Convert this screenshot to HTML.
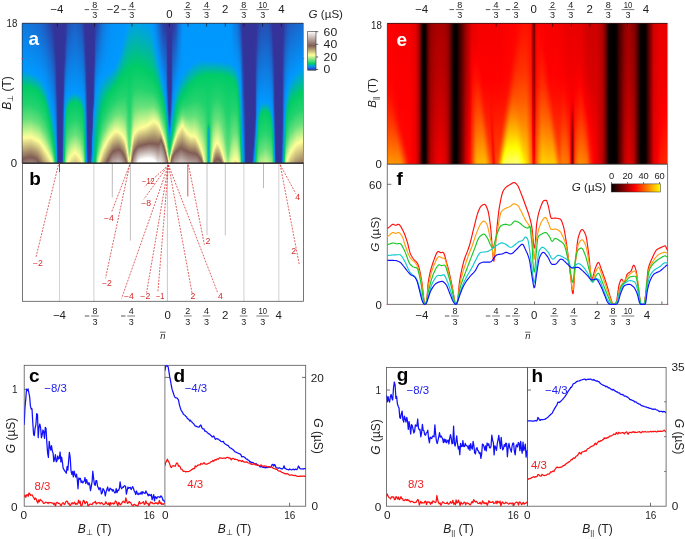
<!DOCTYPE html>
<html><head><meta charset="utf-8"><title>Figure</title>
<style>
html,body{margin:0;padding:0;background:#fff}
#fig{position:relative;width:685px;height:539px;overflow:hidden;background:#fff;font-family:"Liberation Sans", sans-serif}
.hm{position:absolute;overflow:hidden}
.hm i{position:absolute;top:0;bottom:0;width:1.1px;display:block}
svg{position:absolute;left:0;top:0}
svg text{font-family:"Liberation Sans", sans-serif}
</style></head><body>
<div id="fig">
<div class="hm" id="hma" style="left:0;top:23.2px;width:303.5px;height:140.0px;clip-path:inset(0 0 0 22.0px)">
<i style="left:22px;background:linear-gradient(0deg,#91726b 0%,#815d55 2.5%,#fcfb97 17.5%,#fbfe98 18.2%,#66e07a 31.1%,#23d36d 41.8%,#01cc66 53.9%,#00ca6b 54.6%,#009afc 66.1%,#0099ff 66.8%,#1078de 100%)"></i>
<i style="left:23px;background:linear-gradient(0deg,#94756e 0%,#825e56 2.5%,#846256 3.2%,#fbfa97 17.5%,#fcfe98 18.2%,#66e07a 31.1%,#23d36d 41.8%,#01cc66 53.9%,#00ca6b 54.6%,#0099fe 66.1%,#1178de 100%)"></i>
<i style="left:24px;background:linear-gradient(0deg,#977973 0%,#815e55 3.2%,#faf996 17.5%,#fdff99 18.2%,#66e07a 31.1%,#23d36d 41.8%,#01cc66 53.9%,#00ca6b 54.6%,#0099ff 66.1%,#1177dd 100%)"></i>
<i style="left:25px;background:linear-gradient(0deg,#9a7d76 0%,#815e56 3.2%,#856257 3.9%,#feff99 18.2%,#67e17b 31.1%,#23d36d 41.8%,#01cc66 53.9%,#00ca6b 54.6%,#009bf9 65.4%,#0099ff 66.1%,#1177dd 100%)"></i>
<i style="left:26px;background:linear-gradient(0deg,#9c8079 0%,#836059 3.2%,#835f55 3.9%,#ffff99 18.2%,#68e17b 31.1%,#23d36d 41.8%,#01cc66 53.9%,#00ca6b 54.6%,#009afb 65.4%,#0099ff 66.1%,#1176dc 100%)"></i>
<i style="left:27px;background:linear-gradient(0deg,#9d817b 0%,#815e55 3.9%,#fefe99 18.2%,#68e17b 31.1%,#23d36d 41.8%,#01cc66 53.9%,#00ca6b 54.6%,#0099fe 65.4%,#1276dc 100%)"></i>
<i style="left:28px;background:linear-gradient(0deg,#9e837d 0%,#805c54 3.9%,#fefd98 18.2%,#f8fe98 18.9%,#69e17b 31.1%,#23d36d 41.8%,#01cc66 53.9%,#00ca6b 54.6%,#0099ff 65.4%,#1275db 100%)"></i>
<i style="left:29px;background:linear-gradient(0deg,#9f847e 0%,#815e56 3.9%,#856257 4.6%,#fdfc98 18.2%,#f9fe98 18.9%,#69e17b 31.1%,#23d36d 41.8%,#01cc66 53.9%,#00ca6c 54.6%,#009bf9 64.6%,#0099ff 65.4%,#1274da 100%)"></i>
<i style="left:30px;background:linear-gradient(0deg,#a08680 0%,#825f57 3.9%,#846156 4.6%,#fdfc98 18.2%,#fafe98 18.9%,#63e07a 31.8%,#23d36d 41.8%,#00cc66 53.9%,#009afd 64.6%,#1374da 100%)"></i>
<i style="left:31px;background:linear-gradient(0deg,#a0857f 0%,#825e56 3.9%,#846256 4.6%,#fefd98 18.2%,#f8fe98 18.9%,#66e07a 31.1%,#25d36d 41.1%,#01cc66 53.2%,#00cb69 53.9%,#009bf9 63.9%,#0099ff 64.6%,#1373d9 100%)"></i>
<i style="left:32px;background:linear-gradient(0deg,#9f837d 0%,#805c54 3.9%,#fbf997 17.5%,#fcfe98 18.2%,#64e07a 31.1%,#23d36d 41.1%,#00cc66 53.2%,#0099fe 63.9%,#1472d8 100%)"></i>
<i style="left:33px;background:linear-gradient(0deg,#9d817b 0%,#85625a 3.2%,#825e55 3.9%,#fefe99 17.5%,#66e07a 30.4%,#25d36d 40.4%,#01cc66 52.5%,#00cb69 53.2%,#009afb 63.2%,#0099ff 63.9%,#1470d6 100%)"></i>
<i style="left:34px;background:linear-gradient(0deg,#9b7f78 0%,#835f58 3.2%,#846156 3.9%,#fbfa97 16.8%,#fbfe98 17.5%,#63e07a 30.4%,#23d36d 40.4%,#00cc66 52.5%,#0099ff 63.2%,#156fd5 100%)"></i>
<i style="left:35px;background:linear-gradient(0deg,#997c75 0%,#805d55 3.2%,#ffff99 16.8%,#66e07a 29.6%,#25d36d 39.6%,#01cc66 51.8%,#00cb6a 52.5%,#009afc 62.5%,#0098fe 63.2%,#156ed4 100%)"></i>
<i style="left:36px;background:linear-gradient(0deg,#94766f 0%,#825f57 2.5%,#846156 3.2%,#fcfb97 16.1%,#fafe98 16.8%,#63e07a 29.6%,#23d36d 39.6%,#00cc66 51.8%,#009bf9 61.8%,#0099ff 62.5%,#166dd3 100%)"></i>
<i style="left:37px;background:linear-gradient(0deg,#8e6e67 0%,#825e56 1.8%,#846256 2.5%,#feff99 16.1%,#65e07a 28.9%,#24d36d 38.9%,#01cc66 51.1%,#00ca6b 51.8%,#0099fe 61.8%,#176cd2 100%)"></i>
<i style="left:38px;background:linear-gradient(0deg,#87655e 0%,#815d56 1.1%,#856357 1.8%,#fdfc98 15.4%,#f9fe98 16.1%,#6ee27c 27.5%,#61df79 28.9%,#25d36d 38.2%,#00cc66 50.4%,#00c677 51.8%,#009afb 61.1%,#0098fe 61.8%,#176bd1 100%)"></i>
<i style="left:39px;background:linear-gradient(0deg,#805c54 0%,#fbf997 14.6%,#fcfe98 15.4%,#6fe27c 26.8%,#61df79 28.2%,#24d36d 37.5%,#01cc66 48.9%,#00c872 50.4%,#0099ff 61.1%,#1869cf 100%)"></i>
<i style="left:40px;background:linear-gradient(0deg,#896859 0%,#fbfa97 13.9%,#fcfe98 14.6%,#76e47e 25.4%,#60df79 27.5%,#23d36d 36.8%,#00cc67 48.2%,#0099ff 60.4%,#1967cd 100%)"></i>
<i style="left:41px;background:linear-gradient(0deg,#94765f 0%,#fdfd98 13.2%,#f9fe98 13.9%,#71e37d 24.6%,#5ddf79 26.8%,#24d36d 35.4%,#00cc66 46.8%,#00c774 48.2%,#009df4 58.2%,#0099ff 59.6%,#1a64ca 100%)"></i>
<i style="left:42px;background:linear-gradient(0deg,#9f8365 0%,#fbf997 11.8%,#fdff99 12.5%,#75e37d 23.2%,#60df79 25.4%,#26d46e 33.9%,#01cc66 45.4%,#00c871 46.8%,#009ef0 56.8%,#0099fe 58.2%,#1c61c7 100%)"></i>
<i style="left:43px;background:linear-gradient(0deg,#a8906a 0%,#fdfd98 11.1%,#f8fe98 11.8%,#79e47e 21.8%,#62e07a 23.9%,#24d36d 33.2%,#00cc67 44.6%,#009df4 56.1%,#0098fe 57.5%,#1e5ec4 100%)"></i>
<i style="left:44px;background:linear-gradient(0deg,#b29c6f 0%,#fbfa97 9.6%,#fdff99 10.4%,#74e37d 21.1%,#5fdf79 23.2%,#25d36d 31.8%,#00cc66 43.2%,#00c774 44.6%,#00a0e9 53.9%,#0099ff 56.1%,#1f5ac0 100%)"></i>
<i style="left:45px;background:linear-gradient(0deg,#bba874 0%,#fefd98 8.9%,#76e47e 19.6%,#60df79 21.8%,#24d36d 30.4%,#01cc66 41.1%,#00c678 43.2%,#00a3e2 51.8%,#0099ff 54.6%,#2157bd 100%)"></i>
<i style="left:46px;background:linear-gradient(0deg,#c4b379 0%,#fbfa97 7.5%,#fbfe98 8.2%,#7de57f 17.5%,#5edf79 20.4%,#25d36d 28.2%,#00cb68 38.9%,#00c186 41.8%,#00a2e3 49.6%,#0099fe 52.5%,#2353b9 100%)"></i>
<i style="left:47px;background:linear-gradient(0deg,#cec07e 0%,#feff99 6.8%,#79e47e 16.1%,#5ade78 18.9%,#24d36d 26.1%,#00cb68 36.1%,#00c284 38.9%,#00a1e7 47.5%,#009afc 49.6%,#0099ff 50.4%,#254eb4 100%)"></i>
<i style="left:48px;background:linear-gradient(0deg,#d7cc83 0%,#fefe98 5.4%,#6be17b 15.4%,#56dd77 17.5%,#24d36d 23.9%,#00cc67 33.2%,#00a0ea 45.4%,#009afd 47.5%,#0098fe 48.2%,#274ab0 100%)"></i>
<i style="left:49px;background:linear-gradient(0deg,#e1d889 0%,#fcfc98 3.9%,#f9fe98 4.6%,#84e680 11.8%,#65e07a 13.9%,#57dd77 15.4%,#27d46e 21.1%,#01cc66 29.6%,#00c96f 31.1%,#00a3e0 41.8%,#0099ff 45.4%,#2a46ac 100%)"></i>
<i style="left:50px;background:linear-gradient(0deg,#eae48e 0%,#fbfa97 2.5%,#fbfe98 3.2%,#87e781 9.6%,#65e07a 11.8%,#55dd77 13.2%,#26d46e 18.2%,#00cc66 26.1%,#00bf8c 30.4%,#00a3e2 38.9%,#0099ff 42.5%,#2c41a7 100%)"></i>
<i style="left:51px;background:linear-gradient(0deg,#f4f193 0%,#fdff99 1.8%,#6de27c 8.9%,#48da74 11.8%,#24d36d 15.4%,#02cc66 21.8%,#00cb69 22.5%,#00a3e1 35.4%,#009bf9 38.2%,#0098fe 39.6%,#2f3ba1 100%)"></i>
<i style="left:52px;background:linear-gradient(0deg,#f8fe98 0%,#67e17b 6.8%,#52dc76 8.2%,#27d46e 11.8%,#00cb68 18.2%,#00a3e0 31.8%,#0099ff 36.1%,#31379d 100%)"></i>
<i style="left:53px;background:linear-gradient(0deg,#b4f08a 0%,#70e27c 3.2%,#38d771 6.8%,#26d46e 8.2%,#00cb68 13.9%,#00a5db 27.5%,#0099ff 32.5%,#2d3ea4 88.9%,#33349a 100%)"></i>
<i style="left:54px;background:linear-gradient(0deg,#52dc76 0%,#29d46e 3.2%,#00cb69 8.9%,#00abc9 20.4%,#0099fe 27.5%,#2b42a8 79.6%,#32359b 89.6%,#333399 100%)"></i>
<i style="left:55px;background:linear-gradient(0deg,#15d06a 0%,#00cc67 3.2%,#00b1b7 11.8%,#009afd 20.4%,#0098fe 21.1%,#2256bc 56.8%,#31369c 78.9%,#333399 100%)"></i>
<i style="left:56px;background:linear-gradient(0deg,#00b2b4 0%,#0099ff 8.9%,#058ef4 11.8%,#0f7be1 20.4%,#2f3aa0 56.8%,#333399 78.9%,#333399 100%)"></i>
<i style="left:57px;background:linear-gradient(0deg,#264eb4 0%,#2a44aa 11.8%,#333399 56.8%,#333399 100%)"></i>
<i style="left:58px;background:linear-gradient(0deg,#333399 0%,#333399 100%)"></i>
<i style="left:59px;background:linear-gradient(0deg,#333399 0%,#333399 100%)"></i>
<i style="left:60px;background:linear-gradient(0deg,#333399 0%,#333399 100%)"></i>
<i style="left:61px;background:linear-gradient(0deg,#333399 0%,#333399 100%)"></i>
<i style="left:62px;background:linear-gradient(0deg,#2849af 0%,#333399 51.1%,#333399 100%)"></i>
<i style="left:63px;background:linear-gradient(0deg,#00a6d8 0%,#0099ff 6.1%,#2e3ea4 51.8%,#333399 74.6%,#333399 100%)"></i>
<i style="left:64px;background:linear-gradient(0deg,#20d26c 0%,#05cd67 4.6%,#00cb69 6.1%,#00ba9c 15.4%,#00a6d7 28.2%,#0099ff 35.4%,#166ed4 51.1%,#30399f 73.9%,#333399 100%)"></i>
<i style="left:65px;background:linear-gradient(0deg,#8be882 0%,#5fdf79 4.6%,#1fd26c 15.4%,#00cc67 25.4%,#00c677 28.9%,#00b5ab 35.4%,#009afb 43.2%,#0198fe 43.9%,#2352b8 73.9%,#31379d 88.9%,#33349a 100%)"></i>
<i style="left:66px;background:linear-gradient(0deg,#cdf58f 0%,#66e07a 10.4%,#4edc76 13.9%,#24d36d 21.8%,#00cc67 33.9%,#00c775 36.1%,#00b8a3 39.6%,#009afb 45.4%,#0099ff 46.1%,#2849af 88.9%,#30399f 100%)"></i>
<i style="left:67px;background:linear-gradient(0deg,#f4fd97 0%,#88e781 10.4%,#65e07a 13.9%,#5cde78 15.4%,#23d36d 25.4%,#01cc66 37.5%,#00ca6d 38.9%,#00c775 39.6%,#00a3e0 45.4%,#009bf9 46.8%,#0099ff 47.5%,#2a46ac 100%)"></i>
<i style="left:68px;background:linear-gradient(0deg,#f7f595 0%,#fcfe98 1.8%,#77e47e 13.9%,#5edf79 16.8%,#24d36d 26.8%,#01cc66 39.6%,#00ca6b 40.4%,#00c677 41.1%,#00a1e8 46.8%,#0099ff 48.2%,#254fb5 100%)"></i>
<i style="left:69px;background:linear-gradient(0deg,#ece78f 0%,#fefe99 3.2%,#68e17b 16.8%,#2ad46e 26.8%,#21d36d 28.9%,#00cb68 41.1%,#009bf9 48.2%,#0098fe 48.9%,#2353b9 100%)"></i>
<i style="left:70px;background:linear-gradient(0deg,#e4dd8b 0%,#feff99 4.6%,#65e07a 18.2%,#24d36d 28.9%,#00cc67 41.8%,#00c872 42.5%,#0099fe 48.9%,#2156bc 100%)"></i>
<i style="left:71px;background:linear-gradient(0deg,#dfd688 0%,#feff99 5.4%,#65e07a 18.9%,#23d36d 29.6%,#00cc67 42.5%,#009cf7 48.9%,#0099ff 49.6%,#205ac0 100%)"></i>
<i style="left:72px;background:linear-gradient(0deg,#dbd085 0%,#feff99 6.1%,#64e07a 19.6%,#25d36d 29.6%,#01cc66 42.5%,#00ca6d 43.2%,#009afd 49.6%,#0098fe 50.4%,#1e5cc2 100%)"></i>
<i style="left:73px;background:linear-gradient(0deg,#d6cb83 0%,#fdff99 6.8%,#62e07a 20.4%,#24d36d 30.4%,#00cb68 43.2%,#009cf5 49.6%,#0099ff 50.4%,#1d5fc5 100%)"></i>
<i style="left:74px;background:linear-gradient(0deg,#d2c580 0%,#fcfb97 6.8%,#fcfe98 7.5%,#66e07a 20.4%,#23d36d 31.1%,#00cc66 43.2%,#00c872 43.9%,#009afc 50.4%,#0098fe 51.1%,#1c61c7 100%)"></i>
<i style="left:75px;background:linear-gradient(0deg,#d0c37f 0%,#ffff99 7.5%,#6fe27c 19.6%,#62e07a 21.1%,#23d36d 31.1%,#00cc66 43.2%,#00c872 43.9%,#009afd 50.4%,#0098fe 51.1%,#1c61c7 100%)"></i>
<i style="left:76px;background:linear-gradient(0deg,#d4c882 0%,#fefe98 6.8%,#64e07a 20.4%,#24d36d 30.4%,#00cb68 43.2%,#009cf6 49.6%,#0099ff 50.4%,#1d5fc5 100%)"></i>
<i style="left:77px;background:linear-gradient(0deg,#d9ce84 0%,#fefe99 6.1%,#65e07a 19.6%,#23d36d 30.4%,#01cc66 42.5%,#00ca6d 43.2%,#0099fe 49.6%,#1e5dc3 100%)"></i>
<i style="left:78px;background:linear-gradient(0deg,#ded587 0%,#fefe99 5.4%,#66e07a 18.9%,#23d36d 29.6%,#00cc67 42.5%,#009bf9 48.9%,#0098fe 49.6%,#1f5ac0 100%)"></i>
<i style="left:79px;background:linear-gradient(0deg,#e4dc8a 0%,#feff99 4.6%,#74e37d 16.8%,#60df79 18.9%,#24d36d 28.9%,#00cb68 41.8%,#00c774 42.5%,#009df3 48.2%,#0099ff 48.9%,#2158be 100%)"></i>
<i style="left:80px;background:linear-gradient(0deg,#ede88f 0%,#fdff99 3.2%,#66e07a 16.8%,#2dd56f 26.1%,#20d26c 28.9%,#00cc66 40.4%,#00ca6c 41.1%,#00c679 41.8%,#009afc 48.2%,#0098fe 48.9%,#2255bb 100%)"></i>
<i style="left:81px;background:linear-gradient(0deg,#fbf997 0%,#feff99 1.1%,#79e47e 13.2%,#5bde78 16.8%,#25d36d 26.1%,#00cc67 38.9%,#00c775 40.4%,#00a3e0 46.1%,#009bf8 47.5%,#0098fe 48.2%,#2451b7 100%)"></i>
<i style="left:82px;background:linear-gradient(0deg,#ecfb95 0%,#86e781 9.6%,#69e17b 12.5%,#5ade78 14.6%,#24d36d 23.9%,#01cc66 36.1%,#00ca6d 37.5%,#00bf8d 39.6%,#00a2e3 44.6%,#009bf9 46.1%,#0099fe 46.8%,#2849af 100%)"></i>
<i style="left:83px;background:linear-gradient(0deg,#bef28c 0%,#64e07a 8.9%,#4cdb75 12.5%,#20d26c 20.4%,#01cc66 30.4%,#00c774 33.9%,#00ba9d 37.5%,#009afc 44.6%,#0098fe 45.4%,#2e3da3 100%)"></i>
<i style="left:84px;background:linear-gradient(0deg,#65e07a 0%,#26d46e 8.2%,#00cc66 17.5%,#00aec1 33.9%,#0098fe 42.5%,#264db3 78.9%,#31379d 92.5%,#32359b 100%)"></i>
<i style="left:85px;background:linear-gradient(0deg,#00c96e 0%,#00bb9a 8.2%,#0099ff 31.1%,#1e5cc2 58.9%,#30399f 78.2%,#333399 100%)"></i>
<i style="left:86px;background:linear-gradient(0deg,#0296fc 0%,#0c81e7 11.1%,#2f3ba1 58.9%,#333399 78.9%,#333399 100%)"></i>
<i style="left:87px;background:linear-gradient(0deg,#205ac0 0%,#2c41a7 11.1%,#333399 58.9%,#333399 100%)"></i>
<i style="left:88px;background:linear-gradient(0deg,#30399f 0%,#333399 11.1%,#333399 100%)"></i>
<i style="left:89px;background:linear-gradient(0deg,#333399 0%,#333399 100%)"></i>
<i style="left:90px;background:linear-gradient(0deg,#2b43a9 0%,#333399 8.2%,#333399 100%)"></i>
<i style="left:91px;background:linear-gradient(0deg,#088af0 0%,#2849af 7.5%,#2b44aa 16.8%,#33349a 26.8%,#333399 100%)"></i>
<i style="left:92px;background:linear-gradient(0deg,#00acc5 0%,#0099ff 7.5%,#0889ef 16.8%,#2a45ab 27.5%,#2b44aa 33.2%,#333399 44.6%,#333399 100%)"></i>
<i style="left:93px;background:linear-gradient(0deg,#00bc97 0%,#00aacd 16.1%,#0099fe 23.9%,#0988ee 33.2%,#2c42a8 44.6%,#333399 72.5%,#333399 100%)"></i>
<i style="left:94px;background:linear-gradient(0deg,#00c774 0%,#00a1e6 32.5%,#0099ff 36.8%,#0d7ee4 44.6%,#2e3da3 72.5%,#33349a 100%)"></i>
<i style="left:95px;background:linear-gradient(0deg,#11cf69 0%,#00cb68 4.6%,#00c188 11.8%,#0099ff 45.4%,#1b62c8 72.5%,#30399f 100%)"></i>
<i style="left:96px;background:linear-gradient(0deg,#6ce27c 0%,#25d36d 6.1%,#00cc66 12.5%,#0098fe 51.1%,#2b42a8 100%)"></i>
<i style="left:97px;background:linear-gradient(0deg,#c6f48e 0%,#62e07a 6.1%,#43d973 8.9%,#23d36d 12.5%,#00cc67 20.4%,#0099ff 53.2%,#274bb1 100%)"></i>
<i style="left:98px;background:linear-gradient(0deg,#f9fe98 0%,#96ea84 6.1%,#6ae17b 8.9%,#4bdb75 11.8%,#27d46e 16.1%,#00cc67 25.4%,#0099fe 55.4%,#2352b8 100%)"></i>
<i style="left:99px;background:linear-gradient(0deg,#eee990 0%,#fcfb97 1.8%,#f9fe98 2.5%,#6be17b 11.8%,#43d973 16.1%,#24d36d 20.4%,#00cc66 29.6%,#0099ff 57.5%,#205ac0 100%)"></i>
<i style="left:100px;background:linear-gradient(0deg,#dad085 0%,#fdfc98 3.9%,#f8fe98 4.6%,#86e781 12.5%,#6ae17b 14.6%,#56dd77 16.8%,#26d46e 23.2%,#01cc66 33.2%,#0099fe 58.9%,#1b63c9 100%)"></i>
<i style="left:101px;background:linear-gradient(0deg,#c9b97b 0%,#fdfd98 6.1%,#f7fd97 6.8%,#6ee27c 16.8%,#53dd77 19.6%,#25d36d 26.1%,#00cc67 36.8%,#009bf9 58.9%,#0099ff 60.4%,#176cd2 100%)"></i>
<i style="left:102px;background:linear-gradient(0deg,#b8a473 0%,#fefe99 8.2%,#71e37d 18.9%,#56dd77 21.8%,#24d36d 28.9%,#00cc66 39.6%,#0099ff 61.1%,#1373d9 100%)"></i>
<i style="left:103px;background:linear-gradient(0deg,#a9916a 0%,#feff99 10.4%,#81e680 19.6%,#67e17b 21.8%,#5bde78 23.2%,#24d36d 31.1%,#00cc66 41.8%,#0099ff 61.8%,#1178de 100%)"></i>
<i style="left:104px;background:linear-gradient(0deg,#9c8063 0%,#fefe99 11.8%,#7ae47e 21.8%,#5cde78 24.6%,#24d36d 32.5%,#01cc66 43.2%,#0099ff 62.5%,#0e7ce2 100%)"></i>
<i style="left:105px;background:linear-gradient(0deg,#8f6f5c 0%,#ffff99 13.2%,#79e47e 23.2%,#5cde78 26.1%,#24d36d 33.9%,#01cc66 44.6%,#0099ff 63.2%,#0c81e7 100%)"></i>
<i style="left:106px;background:linear-gradient(0deg,#825f55 0%,#feff99 14.6%,#78e47e 24.6%,#61df79 26.8%,#24d36d 35.4%,#01cc66 46.1%,#00c776 48.2%,#009afc 63.2%,#0099ff 63.9%,#0a85eb 100%)"></i>
<i style="left:107px;background:linear-gradient(0deg,#896760 0%,#836058 1.1%,#836056 1.8%,#f4f193 14.6%,#fdff99 16.1%,#77e47e 26.1%,#60df79 28.2%,#24d36d 36.8%,#00cc66 47.5%,#0099fe 63.9%,#0988ee 100%)"></i>
<i style="left:108px;background:linear-gradient(0deg,#94766f 0%,#825e56 2.5%,#856256 3.2%,#fbfa97 16.8%,#fbfe98 17.5%,#75e37d 27.5%,#5fdf79 29.6%,#23d36d 38.2%,#00cc66 48.9%,#0099ff 64.6%,#078af0 100%)"></i>
<i style="left:109px;background:linear-gradient(0deg,#9f847d 0%,#805d55 3.9%,#fffe99 18.2%,#70e27c 28.9%,#61df79 30.4%,#24d36d 38.9%,#01cc66 49.6%,#00c871 51.1%,#009cf6 63.9%,#0099ff 65.4%,#068cf2 100%)"></i>
<i style="left:110px;background:linear-gradient(0deg,#aa928c 0%,#815d54 5.4%,#fdfd98 18.9%,#f8fe98 19.6%,#72e37d 29.6%,#63e07a 31.1%,#25d36d 39.6%,#02cc66 50.4%,#00c96f 51.8%,#0099fe 65.4%,#058ff5 100%)"></i>
<i style="left:111px;background:linear-gradient(0deg,#b59f9b 0%,#84615a 6.1%,#825f55 6.8%,#fcfc98 19.6%,#f9fe98 20.4%,#74e37d 30.4%,#5edf79 32.5%,#26d46e 40.4%,#00cc66 51.8%,#0099fe 66.1%,#0491f7 100%)"></i>
<i style="left:112px;background:linear-gradient(0deg,#beaca8 0%,#815e56 7.5%,#856257 8.2%,#fcfb97 20.4%,#fafe98 21.1%,#76e47e 31.1%,#5fdf79 33.2%,#23d36d 41.8%,#01cc66 52.5%,#00c872 53.9%,#0099fe 66.8%,#0392f8 100%)"></i>
<i style="left:113px;background:linear-gradient(0deg,#c2b1ad 0%,#805c54 8.2%,#fbfa97 21.1%,#fbfe98 21.8%,#6ee27c 32.5%,#60df79 33.9%,#24d36d 42.5%,#02cc66 53.2%,#00c96f 54.6%,#0099fe 67.5%,#0392f8 100%)"></i>
<i style="left:114px;background:linear-gradient(0deg,#c5b5b1 0%,#835f57 8.2%,#846156 8.9%,#fcfb98 21.8%,#f9fe98 22.5%,#66e07a 33.9%,#24d36d 43.2%,#00cc66 54.6%,#009afd 68.2%,#0393f9 100%)"></i>
<i style="left:115px;background:linear-gradient(0deg,#c8b8b5 0%,#815d54 8.9%,#faf997 21.8%,#fcfe98 22.5%,#64e07a 34.6%,#24d36d 43.9%,#01cc66 55.4%,#00c872 56.8%,#009ef1 68.2%,#009afc 69.6%,#0393f9 100%)"></i>
<i style="left:116px;background:linear-gradient(0deg,#cbbcb9 0%,#825f57 8.9%,#846256 9.6%,#fdff99 22.5%,#70e27c 33.9%,#62e07a 35.4%,#24d36d 44.6%,#01cc66 56.1%,#00c96f 57.5%,#009afc 71.1%,#0099ff 72.5%,#0393f9 100%)"></i>
<i style="left:117px;background:linear-gradient(0deg,#cdbfbc 0%,#84625a 8.9%,#825e55 9.6%,#feff99 22.5%,#64e07a 35.4%,#24d36d 45.4%,#00cc66 57.5%,#009fed 71.1%,#009afd 73.2%,#0394fa 100%)"></i>
<i style="left:118px;background:linear-gradient(0deg,#cdbfbc 0%,#85625b 8.9%,#815e55 9.6%,#fcfb97 21.8%,#fafe98 22.5%,#65e07a 35.4%,#23d36d 46.1%,#01cc66 58.2%,#009afd 74.6%,#0394fa 100%)"></i>
<i style="left:119px;background:linear-gradient(0deg,#ccbdba 0%,#836058 8.9%,#836056 9.6%,#faf896 21.1%,#fdff99 21.8%,#65e07a 35.4%,#24d36d 46.1%,#01cc66 58.9%,#00c96e 60.4%,#009bfa 76.1%,#0099ff 78.2%,#0294fa 100%)"></i>
<i style="left:120px;background:linear-gradient(0deg,#c7b7b4 0%,#85625a 8.2%,#825e55 8.9%,#ffff99 21.1%,#65e07a 35.4%,#23d36d 46.8%,#00cc67 60.4%,#00a0ea 76.1%,#009afc 78.9%,#0295fb 100%)"></i>
<i style="left:121px;background:linear-gradient(0deg,#c0aeab 0%,#846159 7.5%,#836056 8.2%,#ffff99 20.4%,#64e07a 35.4%,#24d36d 46.8%,#00cc66 61.1%,#00a1e7 78.2%,#009afc 81.8%,#0295fb 100%)"></i>
<i style="left:122px;background:linear-gradient(0deg,#b9a5a0 0%,#825f57 6.8%,#856257 7.5%,#f4f193 18.2%,#fdff99 19.6%,#66e07a 34.6%,#25d36d 46.8%,#00cc66 61.8%,#009bfa 83.9%,#0099ff 86.1%,#0296fc 100%)"></i>
<i style="left:123px;background:linear-gradient(0deg,#b09a95 0%,#805c54 6.1%,#fdfc98 18.2%,#fafe98 18.9%,#64e07a 34.6%,#23d36d 47.5%,#00cc66 62.5%,#009afb 86.8%,#0099ff 88.9%,#0196fc 100%)"></i>
<i style="left:124px;background:linear-gradient(0deg,#a48b85 0%,#805d54 4.6%,#e6df8b 14.6%,#fdff99 17.5%,#65e07a 33.9%,#23d36d 47.5%,#01cc66 63.2%,#009afb 89.6%,#0099ff 91.8%,#0197fd 100%)"></i>
<i style="left:125px;background:linear-gradient(0deg,#957770 0%,#825e56 2.5%,#856357 3.2%,#dacf85 11.1%,#fcfb97 14.6%,#fcfe98 15.4%,#dff993 18.2%,#68e17b 31.8%,#23d36d 46.8%,#00cb68 64.6%,#009afb 92.5%,#0099ff 94.6%,#0198fe 100%)"></i>
<i style="left:126px;background:linear-gradient(0deg,#805c54 0%,#d3c781 7.5%,#faf996 11.1%,#ffff99 11.8%,#def892 14.6%,#a0ec86 21.1%,#67e17b 28.2%,#25d36d 44.6%,#00cc67 65.4%,#009df2 93.2%,#009afd 96.1%,#0098fe 100%)"></i>
<i style="left:127px;background:linear-gradient(0deg,#a9916a 0%,#fdfd98 7.5%,#f7fd97 8.2%,#c6f48e 11.8%,#6ee27c 21.1%,#4fdc76 28.2%,#26d46e 41.1%,#00cc67 66.1%,#009ef1 95.4%,#0099ff 100%)"></i>
<i style="left:128px;background:linear-gradient(0deg,#dcd286 0%,#faf896 2.5%,#fdff99 3.2%,#aeef89 7.5%,#76e47e 11.8%,#50dc76 21.1%,#26d46e 36.8%,#01cc66 66.1%,#009afb 100%)"></i>
<i style="left:129px;background:linear-gradient(0deg,#f5f293 0%,#fefe98 1.1%,#def892 2.5%,#7fe57f 7.5%,#62e07a 11.8%,#27d46e 33.9%,#00cc66 66.8%,#009cf7 100%)"></i>
<i style="left:130px;background:linear-gradient(0deg,#d1c480 0%,#f3f093 2.5%,#feff99 3.9%,#c0f28c 7.5%,#7ee57f 12.5%,#48da74 25.4%,#27d46e 37.5%,#00cc66 67.5%,#009df3 100%)"></i>
<i style="left:131px;background:linear-gradient(0deg,#8d6d5b 0%,#a88f6a 2.5%,#fefd98 10.4%,#c3f38d 15.4%,#6ae17b 25.4%,#4cdb75 32.5%,#26d46e 43.9%,#00cb68 68.2%,#009ef0 100%)"></i>
<i style="left:132px;background:linear-gradient(0deg,#9b7f79 0%,#815e56 3.2%,#856357 3.9%,#fcfb97 15.4%,#fcfe98 16.1%,#dbf892 18.9%,#a6ed87 24.6%,#67e17b 32.5%,#26d46e 48.2%,#00cc66 68.2%,#009fec 100%)"></i>
<i style="left:133px;background:linear-gradient(0deg,#b8a39f 0%,#805c54 6.8%,#ddd386 15.4%,#ffff99 18.9%,#83e680 32.5%,#67e17b 36.1%,#5cde78 38.2%,#23d36d 51.1%,#01cc66 68.2%,#00a1e8 100%)"></i>
<i style="left:134px;background:linear-gradient(0deg,#c8b9b5 0%,#825f57 8.2%,#856257 8.9%,#fdfc98 21.1%,#63e07a 38.9%,#23d36d 52.5%,#00cc66 68.9%,#00a2e5 100%)"></i>
<i style="left:135px;background:linear-gradient(0deg,#dacfcd 0%,#815d55 9.6%,#fbfa97 21.8%,#fcfe98 22.5%,#67e17b 38.9%,#24d36d 52.5%,#00cc66 68.9%,#00a2e4 100%)"></i>
<i style="left:136px;background:linear-gradient(0deg,#ede8e7 0%,#825e57 10.4%,#866357 11.1%,#fbfa97 22.5%,#fcfe98 23.2%,#65e07a 39.6%,#25d36d 52.5%,#00cc66 68.9%,#00a2e5 100%)"></i>
<i style="left:137px;background:linear-gradient(0deg,#fcfbfb 0%,#84615a 11.1%,#846156 11.8%,#fbfa97 23.2%,#fcfe98 23.9%,#68e17b 39.6%,#23d36d 53.2%,#00cc67 68.9%,#00a1e6 100%)"></i>
<i style="left:138px;background:linear-gradient(0deg,#ffffff 0%,#fcfcfc 1.1%,#f5f3f2 1.8%,#835f58 11.8%,#856357 12.5%,#fcfb97 23.9%,#fbfe98 24.6%,#65e07a 40.4%,#23d36d 53.2%,#00cc67 68.9%,#00a1e7 100%)"></i>
<i style="left:139px;background:linear-gradient(0deg,#ffffff 0%,#fcfbfa 1.8%,#85635b 11.8%,#835f55 12.5%,#ffff99 24.6%,#66e07a 40.4%,#23d36d 53.2%,#00cc66 68.2%,#00a1e8 100%)"></i>
<i style="left:140px;background:linear-gradient(0deg,#ffffff 0%,#fffefe 1.8%,#fbf9f9 2.5%,#815d54 12.5%,#fcfc98 24.6%,#fafe98 25.4%,#67e17b 40.4%,#23d36d 53.2%,#00cc66 68.2%,#00a0ea 100%)"></i>
<i style="left:141px;background:linear-gradient(0deg,#ffffff 0%,#fefefe 2.5%,#815d55 12.5%,#faf996 24.6%,#fdff99 25.4%,#68e17b 40.4%,#23d36d 53.2%,#00cc67 68.2%,#00a0eb 100%)"></i>
<i style="left:142px;background:linear-gradient(0deg,#ffffff 0%,#ffffff 2.5%,#f9f7f7 3.2%,#836058 12.5%,#856257 13.2%,#fffe99 25.4%,#68e17b 40.4%,#25d36d 52.5%,#00cc66 67.5%,#009fed 100%)"></i>
<i style="left:143px;background:linear-gradient(0deg,#ffffff 0%,#ffffff 2.5%,#fbfaf9 3.2%,#85625b 12.5%,#836056 13.2%,#fcfc98 25.4%,#fafe98 26.1%,#68e17b 40.4%,#24d36d 52.5%,#00cb68 67.5%,#009eef 100%)"></i>
<i style="left:144px;background:linear-gradient(0deg,#ffffff 0%,#fdfcfc 3.2%,#87655e 12.5%,#825e55 13.2%,#faf996 25.4%,#fdff99 26.1%,#68e17b 40.4%,#23d36d 52.5%,#00cc67 66.8%,#009ef1 100%)"></i>
<i style="left:145px;background:linear-gradient(0deg,#ffffff 0%,#fefefe 3.2%,#805c54 13.2%,#fefe99 26.1%,#68e17b 40.4%,#23d36d 52.5%,#00cc66 66.1%,#009df4 100%)"></i>
<i style="left:146px;background:linear-gradient(0deg,#ffffff 0%,#ffffff 3.2%,#825f57 13.2%,#856357 13.9%,#fcfb97 26.1%,#fbfe98 26.8%,#68e17b 40.4%,#24d36d 51.8%,#00cb68 66.1%,#009cf6 100%)"></i>
<i style="left:147px;background:linear-gradient(0deg,#ffffff 0%,#ffffff 3.2%,#84615a 13.2%,#846156 13.9%,#fffe99 26.8%,#69e17b 40.4%,#23d36d 51.8%,#00cc67 65.4%,#009bf9 100%)"></i>
<i style="left:148px;background:linear-gradient(0deg,#ffffff 0%,#ffffff 3.2%,#86645c 13.2%,#825f55 13.9%,#faf996 26.8%,#fdff99 27.5%,#6ae17b 40.4%,#23d36d 51.8%,#00cc66 64.6%,#009afb 100%)"></i>
<i style="left:149px;background:linear-gradient(0deg,#ffffff 0%,#fefefe 3.2%,#815d55 13.9%,#fcfb97 27.5%,#fafe98 28.2%,#64e07a 41.1%,#22d36d 51.8%,#00cc66 63.9%,#0099fe 100%)"></i>
<i style="left:150px;background:linear-gradient(0deg,#ffffff 0%,#fdfcfc 3.2%,#87655d 13.2%,#815e55 13.9%,#fefe98 28.2%,#65e07a 41.1%,#23d36d 51.1%,#00cc66 63.2%,#0099ff 100%)"></i>
<i style="left:151px;background:linear-gradient(0deg,#ffffff 0%,#ffffff 2.5%,#fbfafa 3.2%,#86645c 13.2%,#825e55 13.9%,#feff99 28.9%,#65e07a 41.1%,#22d36d 51.1%,#00cc66 62.5%,#009ef1 94.6%,#0099fe 98.2%,#0098fe 100%)"></i>
<i style="left:152px;background:linear-gradient(0deg,#ffffff 0%,#ffffff 2.5%,#f9f8f7 3.2%,#85635b 13.2%,#825f55 13.9%,#fcfb97 28.9%,#fbfe98 29.6%,#65e07a 41.1%,#23d36d 50.4%,#00cc67 61.8%,#009afd 94.6%,#0295fb 100%)"></i>
<i style="left:153px;background:linear-gradient(0deg,#ffffff 0%,#fdfcfc 2.5%,#85625a 13.2%,#825f55 13.9%,#fefe99 29.6%,#64e07a 41.1%,#21d36d 50.4%,#00cc66 60.4%,#009afd 91.1%,#0491f7 100%)"></i>
<i style="left:154px;background:linear-gradient(0deg,#ffffff 0%,#fdfcfc 1.8%,#f7f4f4 2.5%,#846159 13.2%,#836056 13.9%,#fefe99 29.6%,#66e07a 40.4%,#21d36d 49.6%,#00cb69 59.6%,#0099fe 87.5%,#068df3 100%)"></i>
<i style="left:155px;background:linear-gradient(0deg,#ffffff 0%,#fdfdfd 1.1%,#f7f5f5 1.8%,#836058 13.2%,#836056 13.9%,#fbfa97 28.9%,#fcfe98 29.6%,#72e37d 38.9%,#61df79 40.4%,#23d36d 48.2%,#02cc66 57.5%,#00cc67 58.2%,#0099fe 83.9%,#0987ed 100%)"></i>
<i style="left:156px;background:linear-gradient(0deg,#fcfbfb 0%,#825f57 13.2%,#846156 13.9%,#feff99 28.9%,#71e37d 38.2%,#60df79 39.6%,#26d46e 46.8%,#00cc66 56.8%,#00a1e7 76.1%,#0099ff 80.4%,#0d7fe5 100%)"></i>
<i style="left:157px;background:linear-gradient(0deg,#f1edec 0%,#815e56 13.2%,#856257 13.9%,#feff99 28.2%,#79e47e 36.8%,#5edf79 38.9%,#24d36d 46.1%,#00cc66 55.4%,#009afd 76.1%,#1274da 100%)"></i>
<i style="left:158px;background:linear-gradient(0deg,#eeeae9 0%,#825f57 13.2%,#846156 13.9%,#fbf997 26.8%,#fbfe98 27.5%,#7de57f 35.4%,#61df79 37.5%,#24d36d 44.6%,#02cc66 53.2%,#00cb68 53.9%,#009afd 72.5%,#1869cf 100%)"></i>
<i style="left:159px;background:linear-gradient(0deg,#f0ebea 0%,#846159 13.9%,#825f55 14.6%,#ebe58e 23.9%,#fcfe98 26.1%,#7ce57f 33.9%,#67e17b 35.4%,#59de78 36.8%,#23d36d 43.2%,#00cc67 51.8%,#00a5db 64.6%,#0099fe 68.9%,#1d60c6 100%)"></i>
<i style="left:160px;background:linear-gradient(0deg,#ece6e5 0%,#836058 15.4%,#825f55 16.1%,#ded587 21.8%,#fdfd98 23.9%,#f6fd97 24.6%,#6be17b 33.2%,#54dd77 35.4%,#24d36d 41.1%,#00cc66 49.6%,#00a6d8 61.1%,#0099fe 65.4%,#2256bc 100%)"></i>
<i style="left:161px;background:linear-gradient(0deg,#e6dedd 0%,#805d54 15.4%,#896759 16.1%,#d1c480 19.6%,#f8f695 21.8%,#fbfe98 22.5%,#e0f993 23.9%,#83e680 29.6%,#6de27c 31.1%,#56dd77 33.2%,#25d36d 38.9%,#01cc66 47.5%,#00c57a 49.6%,#00a5db 58.2%,#009afd 61.8%,#274cb2 100%)"></i>
<i style="left:162px;background:linear-gradient(0deg,#dfd6d3 0%,#825f55 13.9%,#8c6b5a 14.6%,#d8cd84 18.2%,#ffff99 20.4%,#d5f791 22.5%,#8ee882 26.8%,#6de27c 28.9%,#55dd77 31.1%,#25d36d 36.8%,#00cb68 45.4%,#00a6d8 54.6%,#009cf7 57.5%,#0098fe 58.9%,#2b43a9 100%)"></i>
<i style="left:163px;background:linear-gradient(0deg,#d6cac8 0%,#93756e 9.6%,#805d54 11.8%,#886658 12.5%,#f5f294 17.5%,#ffff99 18.2%,#d2f690 20.4%,#68e17b 26.8%,#26d46e 33.9%,#02cc66 41.8%,#00cb69 42.5%,#00acc5 49.6%,#009afd 54.6%,#2e3da3 100%)"></i>
<i style="left:164px;background:linear-gradient(0deg,#c9b9b6 0%,#825e55 9.6%,#8b6a5a 10.4%,#f8f695 15.4%,#fcfe98 16.1%,#cdf58f 18.2%,#8fe983 21.8%,#63e07a 24.6%,#26d46e 31.1%,#00cc67 38.9%,#00ca6d 39.6%,#00aebf 45.4%,#009cf6 49.6%,#0099ff 51.1%,#30389e 100%)"></i>
<i style="left:165px;background:linear-gradient(0deg,#b7a39f 0%,#967972 4.6%,#805d55 6.8%,#876558 7.5%,#fdfc98 13.2%,#f2fc96 13.9%,#cff58f 15.4%,#b4f08a 16.8%,#5fdf79 21.8%,#22d36d 28.2%,#00cb68 34.6%,#00c873 36.1%,#009cf6 45.4%,#0099ff 46.8%,#32369c 100%)"></i>
<i style="left:166px;background:linear-gradient(0deg,#a48a84 0%,#987b75 1.8%,#815d54 3.9%,#977960 5.4%,#f6f394 9.6%,#f8fe98 10.4%,#aeef89 13.2%,#66e07a 16.8%,#28d46e 21.8%,#01cc66 27.5%,#00abc8 36.1%,#0099fe 40.4%,#078af0 45.4%,#1470d6 57.5%,#33349a 100%)"></i>
<i style="left:167px;background:linear-gradient(0deg,#825e56 0%,#8e6e5b 1.8%,#9c8063 2.5%,#fdfc98 6.1%,#edfb95 6.8%,#83e680 10.4%,#65e07a 11.8%,#26d46e 16.1%,#02cc66 20.4%,#00ca6c 21.1%,#0099ff 32.5%,#1275db 39.6%,#2d3fa5 57.5%,#333399 100%)"></i>
<i style="left:168px;background:linear-gradient(0deg,#ccbd7d 0%,#fbfa97 2.5%,#eafb95 3.2%,#95ea84 5.4%,#69e17b 6.8%,#27d46e 10.4%,#02cc66 13.9%,#00ca6d 14.6%,#00b99f 18.2%,#009cf7 23.9%,#0198fe 24.6%,#0b82e8 27.5%,#2d40a6 38.9%,#333399 57.5%,#333399 100%)"></i>
<i style="left:169px;background:linear-gradient(0deg,#f0ec91 0%,#f8fe98 1.1%,#b0ef89 2.5%,#94ea84 3.2%,#51dc76 5.4%,#21d36d 7.5%,#01cc66 9.6%,#00a3e1 18.2%,#0099ff 19.6%,#254eb4 27.5%,#32349a 38.2%,#333399 100%)"></i>
<i style="left:170px;background:linear-gradient(0deg,#b29c6f 0%,#f3f093 3.9%,#fafe98 4.6%,#6ee27c 7.5%,#2fd56f 9.6%,#01cc66 12.5%,#0098fe 23.2%,#1079df 27.5%,#2d3fa5 37.5%,#333399 51.8%,#333399 100%)"></i>
<i style="left:171px;background:linear-gradient(0deg,#8e6e67 0%,#805c54 1.8%,#8f6f5c 3.2%,#b09a6e 4.6%,#ffff99 7.5%,#a0ec86 9.6%,#69e17b 11.1%,#31d670 13.2%,#1ad16b 14.6%,#00cc67 16.8%,#00bb9a 21.1%,#0098fe 30.4%,#1373d9 37.5%,#2c40a6 51.8%,#333399 100%)"></i>
<i style="left:172px;background:linear-gradient(0deg,#a38a84 0%,#836058 3.9%,#866457 4.6%,#feff99 10.4%,#90e983 13.2%,#62e07a 14.6%,#25d36d 17.5%,#00cc67 21.1%,#009afd 36.8%,#1276dc 51.8%,#32349a 100%)"></i>
<i style="left:173px;background:linear-gradient(0deg,#ae9893 0%,#825f57 5.4%,#876458 6.1%,#f8f795 12.5%,#f3fd97 13.2%,#c1f38d 14.6%,#66e07a 17.5%,#3dd872 19.6%,#25d36d 21.1%,#00cb68 25.4%,#00a8d2 37.5%,#009afd 43.2%,#0098fe 43.9%,#31389e 100%)"></i>
<i style="left:174px;background:linear-gradient(0deg,#b9a5a0 0%,#815d55 6.8%,#93755e 8.2%,#f9f796 14.6%,#f6fd97 15.4%,#7ae47e 19.6%,#67e17b 20.4%,#5bde78 21.1%,#24d36d 24.6%,#00cb68 29.6%,#00a4dd 43.2%,#0099fe 47.5%,#2e3ca2 100%)"></i>
<i style="left:175px;background:linear-gradient(0deg,#c0aeaa 0%,#836058 7.5%,#856257 8.2%,#faf996 16.8%,#f6fd97 17.5%,#77e47e 22.5%,#67e17b 23.2%,#50dc76 24.6%,#23d36d 28.2%,#01cc66 33.2%,#00a2e5 47.5%,#009afd 50.4%,#0099ff 51.1%,#2a44aa 100%)"></i>
<i style="left:176px;background:linear-gradient(0deg,#c4b4b0 0%,#825e56 8.2%,#866457 8.9%,#fbfa97 18.9%,#f5fd97 19.6%,#6fe27c 25.4%,#4ddb75 27.5%,#23d36d 31.1%,#00cc67 36.8%,#00a2e4 50.4%,#0099ff 53.9%,#264eb4 100%)"></i>
<i style="left:177px;background:linear-gradient(0deg,#c9b9b6 0%,#805c54 8.9%,#fefd98 21.1%,#f2fc96 21.8%,#73e37d 27.5%,#50dc76 29.6%,#21d36d 33.9%,#00cc66 39.6%,#00a0e9 53.2%,#0099ff 56.1%,#1e5dc3 100%)"></i>
<i style="left:178px;background:linear-gradient(0deg,#cdbfbc 0%,#84625a 8.9%,#825e55 9.6%,#fffe99 22.5%,#75e37d 28.9%,#54dd77 31.1%,#24d36d 35.4%,#01cc66 41.8%,#0099fe 57.5%,#176bd1 100%)"></i>
<i style="left:179px;background:linear-gradient(0deg,#d1c4c1 0%,#835f58 9.6%,#846156 10.4%,#faf996 23.2%,#fafe98 23.9%,#75e37d 30.4%,#55dd77 32.5%,#26d46e 36.8%,#00cc67 43.9%,#009eef 57.5%,#0099ff 59.6%,#1276dc 100%)"></i>
<i style="left:180px;background:linear-gradient(0deg,#d5c9c6 0%,#805c54 10.4%,#fdfd98 24.6%,#f5fd97 25.4%,#80e680 31.1%,#5ddf79 33.2%,#26d46e 38.2%,#00cc66 45.4%,#009eef 58.9%,#0099ff 61.1%,#0d7ee4 100%)"></i>
<i style="left:181px;background:linear-gradient(0deg,#d5cac7 0%,#815d55 10.4%,#faf996 25.4%,#fdff99 26.1%,#7ae47e 32.5%,#62e07a 33.9%,#24d36d 39.6%,#00cc67 46.8%,#009afd 61.8%,#078bf1 100%)"></i>
<i style="left:182px;background:linear-gradient(0deg,#d3c6c3 0%,#84615a 9.6%,#825e55 10.4%,#fcfc98 26.1%,#f8fe98 26.8%,#79e47e 33.2%,#61df79 34.6%,#25d36d 40.4%,#02cc66 47.5%,#00c970 48.9%,#009df4 61.8%,#0099fe 63.2%,#0392f8 100%)"></i>
<i style="left:183px;background:linear-gradient(0deg,#cfc2bf 0%,#815d55 9.6%,#fefe98 25.4%,#e9fb95 26.8%,#68e17b 33.9%,#60df79 34.6%,#23d36d 41.1%,#00cc66 48.9%,#009afc 63.9%,#0295fb 100%)"></i>
<i style="left:184px;background:linear-gradient(0deg,#ccbebb 0%,#846159 8.9%,#835f55 9.6%,#fcfb97 23.9%,#f9fe98 24.6%,#63e07a 33.9%,#24d36d 41.1%,#02cc66 49.6%,#00c96e 51.1%,#009df3 63.9%,#0099fe 65.4%,#0296fc 100%)"></i>
<i style="left:185px;background:linear-gradient(0deg,#c9bab6 0%,#805c54 8.9%,#f4f193 21.8%,#fdff99 23.2%,#66e07a 33.2%,#26d46e 41.1%,#00cc66 51.1%,#0099fe 66.1%,#0196fc 100%)"></i>
<i style="left:186px;background:linear-gradient(0deg,#c6b5b2 0%,#836058 8.2%,#836056 8.9%,#fdfd98 21.8%,#f8fe98 22.5%,#63e07a 33.2%,#23d36d 41.8%,#01cc66 51.8%,#00c970 53.2%,#0099fe 66.8%,#0197fd 100%)"></i>
<i style="left:187px;background:linear-gradient(0deg,#c2b1ad 0%,#805c54 8.2%,#fdfd98 21.1%,#f8fe98 21.8%,#63e07a 33.2%,#25d36d 41.8%,#00cc67 53.2%,#0099fe 67.5%,#0197fd 100%)"></i>
<i style="left:188px;background:linear-gradient(0deg,#bfada9 0%,#836058 7.5%,#846156 8.2%,#fdfc98 20.4%,#f9fe98 21.1%,#62e07a 33.2%,#24d36d 42.5%,#00cc66 53.9%,#00c872 55.4%,#0099fe 68.2%,#0197fd 100%)"></i>
<i style="left:189px;background:linear-gradient(0deg,#bdaaa6 0%,#815d55 7.5%,#fcfb97 19.6%,#fafe98 20.4%,#67e17b 32.5%,#62e07a 33.2%,#26d46e 42.5%,#01cc66 54.6%,#00c970 56.1%,#0099fe 68.9%,#0197fd 100%)"></i>
<i style="left:190px;background:linear-gradient(0deg,#bca9a4 0%,#815d55 7.5%,#faf996 18.9%,#fcfe98 19.6%,#67e17b 32.5%,#24d36d 43.2%,#02cc66 55.4%,#00cb68 56.1%,#00c96f 56.8%,#0099fe 69.6%,#0197fd 100%)"></i>
<i style="left:191px;background:linear-gradient(0deg,#baa7a3 0%,#846159 6.8%,#835f55 7.5%,#fcfb97 18.9%,#fafe98 19.6%,#63e07a 33.2%,#25d36d 43.2%,#01cc66 56.1%,#00c970 57.5%,#0099fe 70.4%,#0197fd 100%)"></i>
<i style="left:192px;background:linear-gradient(0deg,#b9a5a1 0%,#835f57 6.8%,#846256 7.5%,#fcfb97 18.9%,#fafe98 19.6%,#64e07a 33.2%,#24d36d 43.9%,#01cc66 56.8%,#00c871 58.2%,#0099ff 71.1%,#0197fd 100%)"></i>
<i style="left:193px;background:linear-gradient(0deg,#b8a39f 0%,#815e56 6.8%,#866357 7.5%,#fcfb97 18.9%,#fafe98 19.6%,#66e07a 33.2%,#23d36d 44.6%,#01cc66 57.5%,#00c872 58.9%,#009afd 71.1%,#0197fd 100%)"></i>
<i style="left:194px;background:linear-gradient(0deg,#b6a29d 0%,#805c54 6.8%,#fdfc98 18.9%,#f9fe98 19.6%,#62e07a 33.9%,#24d36d 44.6%,#00cc66 58.2%,#0099ff 71.8%,#0197fd 100%)"></i>
<i style="left:195px;background:linear-gradient(0deg,#b5a09b 0%,#85625a 6.1%,#825e55 6.8%,#f5f294 17.5%,#fcfb97 18.2%,#fafe98 18.9%,#65e07a 33.2%,#24d36d 44.6%,#00cc66 58.9%,#009afc 71.8%,#0197fd 100%)"></i>
<i style="left:196px;background:linear-gradient(0deg,#b39e99 0%,#835f57 6.1%,#856257 6.8%,#eae48d 15.4%,#feff99 17.5%,#6de27c 31.8%,#62e07a 33.2%,#24d36d 44.6%,#00cc67 59.6%,#0099ff 72.5%,#0197fd 100%)"></i>
<i style="left:197px;background:linear-gradient(0deg,#ae9792 0%,#836058 5.4%,#846156 6.1%,#f0ec91 14.6%,#ffff99 16.1%,#67e17b 31.8%,#24d36d 44.6%,#00cb69 60.4%,#009afc 72.5%,#0099ff 73.2%,#0197fd 100%)"></i>
<i style="left:198px;background:linear-gradient(0deg,#a78e89 0%,#825f57 4.6%,#866457 5.4%,#e6df8b 12.5%,#fefe99 14.6%,#66e07a 31.1%,#23d36d 44.6%,#00cc66 60.4%,#0099ff 73.2%,#0197fd 100%)"></i>
<i style="left:199px;background:linear-gradient(0deg,#a0857f 0%,#805d55 3.9%,#e9e38d 11.1%,#fbfa97 12.5%,#fdff99 13.2%,#edfb95 14.6%,#69e17b 29.6%,#24d36d 43.9%,#00cb68 61.1%,#009afd 73.2%,#0099ff 73.9%,#0197fd 100%)"></i>
<i style="left:200px;background:linear-gradient(0deg,#987b74 0%,#825f55 3.2%,#e3db8a 8.9%,#f8f695 10.4%,#fefe99 11.1%,#66e07a 28.9%,#23d36d 43.9%,#00cc66 61.1%,#009afb 73.2%,#0099ff 73.9%,#0197fd 100%)"></i>
<i style="left:201px;background:linear-gradient(0deg,#8e6e67 0%,#815d54 1.8%,#987b61 3.2%,#d1c380 6.1%,#f4f193 8.2%,#fdfc98 8.9%,#fafe98 9.6%,#ebfb95 11.1%,#68e17b 27.5%,#23d36d 43.2%,#00cb69 61.8%,#009afb 73.2%,#0099ff 73.9%,#0197fd 100%)"></i>
<i style="left:202px;background:linear-gradient(0deg,#866457 0%,#f9f796 6.1%,#fdfd98 6.8%,#f9fe98 7.5%,#e8fa94 8.9%,#67e17b 26.1%,#23d36d 42.5%,#00cc66 61.8%,#009afb 73.2%,#0099ff 73.9%,#0197fd 100%)"></i>
<i style="left:203px;background:linear-gradient(0deg,#bdaa75 0%,#ede88f 2.5%,#f9f796 3.2%,#fefd98 3.9%,#e5fa94 6.1%,#64e07a 24.6%,#23d36d 41.8%,#01cc66 61.8%,#00cb69 62.5%,#009afc 73.2%,#0099ff 73.9%,#0197fd 100%)"></i>
<i style="left:204px;background:linear-gradient(0deg,#ffff99 0%,#d8f791 3.2%,#65e07a 21.8%,#24d36d 40.4%,#00cc66 62.5%,#009afc 73.2%,#0099ff 73.9%,#0197fd 100%)"></i>
<i style="left:205px;background:linear-gradient(0deg,#bbf18b 0%,#60df79 18.2%,#50dc76 22.5%,#23d36d 39.6%,#00cc66 62.5%,#00ca6c 63.2%,#009afd 73.2%,#0197fd 100%)"></i>
<i style="left:206px;background:linear-gradient(0deg,#7ce57f 0%,#3cd872 20.4%,#01cc66 62.5%,#00ca6b 63.2%,#009afd 73.2%,#0197fd 100%)"></i>
<i style="left:207px;background:linear-gradient(0deg,#23d36d 0%,#09ce68 21.1%,#0cce68 23.9%,#22d36d 28.2%,#25d36d 32.5%,#00cc66 62.5%,#00ca6b 63.2%,#0099fe 73.2%,#0197fd 100%)"></i>
<i style="left:208px;background:linear-gradient(0deg,#00afbc 0%,#00aacd 16.1%,#00aacc 21.1%,#00acc5 22.5%,#00b2b4 23.9%,#00bd92 25.4%,#01cc66 26.8%,#18d16b 28.2%,#20d26c 33.2%,#19d16b 43.9%,#00cc66 62.5%,#00ca6b 63.2%,#0099fe 73.2%,#0197fd 100%)"></i>
<i style="left:209px;background:linear-gradient(0deg,#0dcf69 0%,#00cc67 6.8%,#00c187 16.8%,#00bf8c 21.1%,#00c284 23.2%,#00c47d 23.9%,#00cc66 25.4%,#15d06a 26.8%,#1fd26c 28.2%,#24d36d 32.5%,#19d16b 44.6%,#01cc66 62.5%,#00ca6b 63.2%,#0099ff 73.2%,#0197fd 100%)"></i>
<i style="left:210px;background:linear-gradient(0deg,#6fe27c 0%,#2ed56f 21.1%,#2fd56f 32.5%,#01cc66 62.5%,#00ca6b 63.2%,#0099ff 73.2%,#0197fd 100%)"></i>
<i style="left:211px;background:linear-gradient(0deg,#d8f791 0%,#a4ed87 6.1%,#52dc76 23.2%,#23d36d 41.1%,#01cc66 62.5%,#00ca6b 63.2%,#0099ff 73.2%,#0197fd 100%)"></i>
<i style="left:212px;background:linear-gradient(0deg,#c2b178 0%,#f8f695 4.6%,#fcfe98 5.4%,#edfb95 6.1%,#cbf58f 9.6%,#5ddf79 26.8%,#23d36d 43.2%,#01cc66 62.5%,#00ca6b 63.2%,#0099ff 73.2%,#0197fd 100%)"></i>
<i style="left:213px;background:linear-gradient(0deg,#91725d 0%,#dcd286 6.1%,#fcfc98 8.9%,#f7fd97 9.6%,#e8fa94 11.1%,#67e17b 28.2%,#24d36d 43.9%,#01cc66 62.5%,#00ca6b 63.2%,#0099ff 73.2%,#0197fd 100%)"></i>
<i style="left:214px;background:linear-gradient(0deg,#836059 0%,#836056 1.1%,#fefe98 11.1%,#67e17b 29.6%,#24d36d 44.6%,#01cc66 62.5%,#00ca6b 63.2%,#0099ff 73.2%,#0197fd 100%)"></i>
<i style="left:215px;background:linear-gradient(0deg,#8e6e66 0%,#815d55 1.8%,#866457 2.5%,#ece78f 11.1%,#fbfa97 12.5%,#fdff99 13.2%,#6ae17b 30.4%,#24d36d 45.4%,#01cc66 62.5%,#00ca6b 63.2%,#0099ff 73.2%,#0197fd 100%)"></i>
<i style="left:216px;background:linear-gradient(0deg,#92736c 0%,#805d54 2.5%,#f6f394 13.2%,#fdfc98 13.9%,#fafe98 14.6%,#65e07a 31.8%,#23d36d 46.1%,#01cc66 62.5%,#00ca6b 63.2%,#009bf8 72.5%,#0099ff 73.2%,#0197fd 100%)"></i>
<i style="left:217px;background:linear-gradient(0deg,#94766f 0%,#825f57 2.5%,#856357 3.2%,#fdfc98 13.9%,#fafe98 14.6%,#65e07a 31.8%,#23d36d 46.1%,#01cc66 62.5%,#00ca6b 63.2%,#009bf8 72.5%,#0099ff 73.2%,#0197fd 100%)"></i>
<i style="left:218px;background:linear-gradient(0deg,#94756f 0%,#815e56 2.5%,#866457 3.2%,#f2ef92 12.5%,#fdff99 13.9%,#69e17b 31.1%,#25d36d 45.4%,#01cc66 62.5%,#00ca6b 63.2%,#009bf9 72.5%,#0099ff 73.2%,#0197fd 100%)"></i>
<i style="left:219px;background:linear-gradient(0deg,#90716a 0%,#846159 1.8%,#836056 2.5%,#e7e08c 10.4%,#fefe98 12.5%,#68e17b 30.4%,#23d36d 45.4%,#01cc66 62.5%,#00ca6c 63.2%,#009bf9 72.5%,#0099ff 73.2%,#0197fd 100%)"></i>
<i style="left:220px;background:linear-gradient(0deg,#8b6b63 0%,#825f55 1.8%,#e1d889 8.2%,#fcfb97 10.4%,#fdff99 11.1%,#eefc96 12.5%,#69e17b 28.9%,#23d36d 44.6%,#00cc66 62.5%,#00ca6d 63.2%,#009afb 72.5%,#0099ff 73.2%,#0197fd 100%)"></i>
<i style="left:221px;background:linear-gradient(0deg,#825e57 0%,#876558 1.1%,#dcd286 6.1%,#fbfa97 8.2%,#feff99 8.9%,#eefc96 10.4%,#68e17b 27.5%,#25d36d 43.2%,#00cc66 62.5%,#009afd 72.5%,#0099ff 73.2%,#0197fd 100%)"></i>
<i style="left:222px;background:linear-gradient(0deg,#94755f 0%,#cec07e 3.2%,#f3f093 5.4%,#fcfb97 6.1%,#fdff99 6.8%,#ecfb95 8.2%,#69e17b 25.4%,#24d36d 42.5%,#00cb68 62.5%,#0099ff 72.5%,#0197fd 100%)"></i>
<i style="left:223px;background:linear-gradient(0deg,#c1b077 0%,#efeb90 2.5%,#f9f896 3.2%,#fefe98 3.9%,#e6fa94 6.1%,#66e07a 23.2%,#25d36d 40.4%,#01cc66 61.8%,#00cb6a 62.5%,#0099ff 72.5%,#0197fd 100%)"></i>
<i style="left:224px;background:linear-gradient(0deg,#f7f595 0%,#fcfc98 1.1%,#f9fe98 1.8%,#e5fa94 3.2%,#89e781 14.6%,#6ae17b 18.9%,#25d36d 38.2%,#00cc66 61.8%,#00ca6d 62.5%,#009bf9 71.8%,#0099ff 72.5%,#0197fd 100%)"></i>
<i style="left:225px;background:linear-gradient(0deg,#e8fa94 0%,#91e983 9.6%,#6ae17b 14.6%,#24d36d 36.1%,#00cc66 61.8%,#009afb 71.8%,#0099ff 72.5%,#0197fd 100%)"></i>
<i style="left:226px;background:linear-gradient(0deg,#d1f690 0%,#8fe983 6.1%,#6de27c 9.6%,#59de78 14.6%,#25d36d 33.2%,#01cc66 61.1%,#00cb68 61.8%,#009afd 71.8%,#0197fd 100%)"></i>
<i style="left:227px;background:linear-gradient(0deg,#baf18b 0%,#6de27c 6.1%,#5edf79 9.6%,#25d36d 31.1%,#00cc66 61.1%,#00cb6a 61.8%,#0099ff 71.8%,#0197fd 100%)"></i>
<i style="left:228px;background:linear-gradient(0deg,#b9f18b 0%,#6de27c 6.1%,#5edf79 9.6%,#24d36d 31.1%,#00cc67 61.1%,#0099ff 71.8%,#0197fd 100%)"></i>
<i style="left:229px;background:linear-gradient(0deg,#d0f690 0%,#8ee882 6.1%,#6be17b 9.6%,#5ade78 13.9%,#25d36d 32.5%,#00cc66 60.4%,#00ca6b 61.1%,#009bf9 71.1%,#0099ff 71.8%,#0196fc 100%)"></i>
<i style="left:230px;background:linear-gradient(0deg,#e6fa94 0%,#8de882 9.6%,#6ae17b 13.9%,#59de78 18.2%,#25d36d 34.6%,#00cb68 60.4%,#009df3 70.4%,#009afd 71.1%,#0099ff 71.8%,#0295fb 100%)"></i>
<i style="left:231px;background:linear-gradient(0deg,#f4fd97 0%,#69e17b 17.5%,#24d36d 36.8%,#00cc66 59.6%,#009bf9 70.4%,#0099ff 71.1%,#0393f9 100%)"></i>
<i style="left:232px;background:linear-gradient(0deg,#ffff99 0%,#65e07a 20.4%,#23d36d 38.2%,#00cc66 58.9%,#00ca6b 59.6%,#0099fe 70.4%,#068df3 100%)"></i>
<i style="left:233px;background:linear-gradient(0deg,#f6f394 0%,#fdfc98 1.1%,#fbfe98 1.8%,#65e07a 21.8%,#24d36d 38.2%,#00cc66 58.2%,#00cb6a 58.9%,#009afb 69.6%,#0099ff 70.4%,#0a84ea 100%)"></i>
<i style="left:234px;background:linear-gradient(0deg,#e9e38d 0%,#ffff99 2.5%,#68e17b 21.8%,#23d36d 38.2%,#00cb68 57.5%,#00c776 58.9%,#0099ff 69.6%,#0d80e6 100%)"></i>
<i style="left:235px;background:linear-gradient(0deg,#e1d889 0%,#faf896 2.5%,#fcfe98 3.2%,#68e17b 21.8%,#22d36d 38.2%,#00cb68 56.1%,#00a0ea 66.8%,#0099ff 68.9%,#0f7ce2 100%)"></i>
<i style="left:236px;background:linear-gradient(0deg,#eae48e 0%,#feff99 2.5%,#66e07a 21.1%,#2ad46e 34.6%,#21d36d 37.5%,#00cc66 53.9%,#00c679 56.1%,#00a0e9 65.4%,#0099fe 67.5%,#1177dd 100%)"></i>
<i style="left:237px;background:linear-gradient(0deg,#f7f494 0%,#fefd98 1.1%,#f9fe98 1.8%,#64e07a 19.6%,#3fd973 27.5%,#1ed26c 36.1%,#00cc66 49.6%,#00c970 52.5%,#00c283 54.6%,#0099fe 66.1%,#1570d6 100%)"></i>
<i style="left:238px;background:linear-gradient(0deg,#fbfe98 0%,#8ee882 11.1%,#67e17b 15.4%,#41d973 21.8%,#26d46e 27.5%,#02cc66 41.1%,#00cb6a 42.5%,#00b6a7 52.5%,#0099ff 64.6%,#1966cc 100%)"></i>
<i style="left:239px;background:linear-gradient(0deg,#dcf892 0%,#78e47e 8.9%,#5ddf79 11.8%,#21d36d 21.8%,#00cc66 33.2%,#00be90 41.8%,#0098fe 61.8%,#2059bf 100%)"></i>
<i style="left:240px;background:linear-gradient(0deg,#8be882 0%,#60df79 3.2%,#2ad46e 8.9%,#06cd67 16.1%,#00cc67 18.2%,#0099ff 56.1%,#284ab0 100%)"></i>
<i style="left:241px;background:linear-gradient(0deg,#10cf69 0%,#01cc66 3.2%,#00cb6a 3.9%,#00c089 8.9%,#00b8a1 13.9%,#0099ff 40.4%,#30399f 100%)"></i>
<i style="left:242px;background:linear-gradient(0deg,#00b6a8 0%,#009df4 13.2%,#0099ff 16.1%,#2947ad 75.4%,#31379d 88.9%,#33349a 100%)"></i>
<i style="left:243px;background:linear-gradient(0deg,#0198fe 0%,#2353b9 48.2%,#31379d 74.6%,#333399 100%)"></i>
<i style="left:244px;background:linear-gradient(0deg,#1276dc 0%,#30399f 48.9%,#333399 100%)"></i>
<i style="left:245px;background:linear-gradient(0deg,#2d40a6 0%,#333399 48.9%,#333399 100%)"></i>
<i style="left:246px;background:linear-gradient(0deg,#333399 0%,#333399 100%)"></i>
<i style="left:247px;background:linear-gradient(0deg,#333399 0%,#333399 100%)"></i>
<i style="left:248px;background:linear-gradient(0deg,#333399 0%,#333399 100%)"></i>
<i style="left:249px;background:linear-gradient(0deg,#333399 0%,#333399 100%)"></i>
<i style="left:250px;background:linear-gradient(0deg,#333399 0%,#333399 100%)"></i>
<i style="left:251px;background:linear-gradient(0deg,#333399 0%,#333399 100%)"></i>
<i style="left:252px;background:linear-gradient(0deg,#2c41a7 0%,#333399 11.1%,#333399 100%)"></i>
<i style="left:253px;background:linear-gradient(0deg,#0d7fe5 0%,#2d3ea4 11.1%,#333399 21.8%,#333399 100%)"></i>
<i style="left:254px;background:linear-gradient(0deg,#00aacc 0%,#0099ff 4.6%,#1372d8 11.1%,#2e3da3 22.5%,#333399 33.2%,#333399 100%)"></i>
<i style="left:255px;background:linear-gradient(0deg,#00c774 0%,#009afb 13.9%,#0197fd 14.6%,#166dd3 22.5%,#2c42a8 33.2%,#333399 100%)"></i>
<i style="left:256px;background:linear-gradient(0deg,#30d670 0%,#23d36d 1.8%,#00cc66 8.2%,#0198fe 24.6%,#0e7ee4 33.9%,#31389e 86.1%,#33349a 100%)"></i>
<i style="left:257px;background:linear-gradient(0deg,#6be17b 0%,#45da74 4.6%,#22d36d 9.6%,#00cb68 18.2%,#00c775 20.4%,#00b0b9 27.5%,#009cf6 33.2%,#0098fe 34.6%,#2848ae 86.1%,#31379d 100%)"></i>
<i style="left:258px;background:linear-gradient(0deg,#95ea84 0%,#65e07a 4.6%,#43d973 9.6%,#22d36d 15.4%,#00cc66 25.4%,#00c871 27.5%,#00c679 28.2%,#00b3b1 32.5%,#009ef0 36.8%,#0099fe 38.2%,#2e3da3 100%)"></i>
<i style="left:259px;background:linear-gradient(0deg,#a9ee88 0%,#65e07a 6.8%,#37d771 14.6%,#24d36d 18.2%,#00cc66 30.4%,#00c774 32.5%,#009bf8 39.6%,#0099ff 40.4%,#2b43a9 100%)"></i>
<i style="left:260px;background:linear-gradient(0deg,#b3f08a 0%,#64e07a 8.2%,#2bd56f 18.2%,#22d36d 20.4%,#00cc66 33.2%,#00cb6a 33.9%,#00c775 34.6%,#009fee 40.4%,#009afb 41.1%,#0099ff 41.8%,#2848ae 100%)"></i>
<i style="left:261px;background:linear-gradient(0deg,#baf18b 0%,#64e07a 8.9%,#29d46e 19.6%,#00cc66 34.6%,#00ca6c 35.4%,#00a1e7 41.1%,#0099fe 42.5%,#274cb2 100%)"></i>
<i style="left:262px;background:linear-gradient(0deg,#c0f28c 0%,#69e17b 8.9%,#28d46e 20.4%,#01cc66 35.4%,#00ca6d 36.1%,#00a1e6 41.8%,#0099ff 43.2%,#264db3 100%)"></i>
<i style="left:263px;background:linear-gradient(0deg,#c7f48e 0%,#68e17b 9.6%,#5fdf79 11.1%,#24d36d 21.8%,#00cc66 36.1%,#00c970 36.8%,#009afb 43.2%,#0098fe 43.9%,#254eb4 100%)"></i>
<i style="left:264px;background:linear-gradient(0deg,#cdf58f 0%,#62e07a 11.1%,#23d36d 22.5%,#00cc67 36.8%,#009df4 43.2%,#0099ff 43.9%,#254fb5 100%)"></i>
<i style="left:265px;background:linear-gradient(0deg,#d2f690 0%,#64e07a 11.1%,#24d36d 22.5%,#00cc67 36.8%,#009df4 43.2%,#0099ff 43.9%,#254fb5 100%)"></i>
<i style="left:266px;background:linear-gradient(0deg,#d0f690 0%,#62e07a 11.1%,#23d36d 22.5%,#00cc66 36.1%,#00c970 36.8%,#009afb 43.2%,#0098fe 43.9%,#254eb4 100%)"></i>
<i style="left:267px;background:linear-gradient(0deg,#c9f48e 0%,#6fe27c 8.9%,#5fdf79 11.1%,#23d36d 21.8%,#01cc66 35.4%,#00ca6d 36.1%,#00a1e6 41.8%,#0099ff 43.2%,#264db3 100%)"></i>
<i style="left:268px;background:linear-gradient(0deg,#c0f28c 0%,#68e17b 8.9%,#2ad46e 19.6%,#21d36d 21.8%,#00cc66 34.6%,#00ca6b 35.4%,#00a1e7 41.1%,#0099fe 42.5%,#274cb2 100%)"></i>
<i style="left:269px;background:linear-gradient(0deg,#b7f18b 0%,#66e07a 8.2%,#2dd56f 18.2%,#21d36d 21.1%,#01cc66 33.2%,#00cb69 33.9%,#00c381 35.4%,#009afb 41.1%,#0099ff 41.8%,#2947ad 100%)"></i>
<i style="left:270px;background:linear-gradient(0deg,#adef89 0%,#63e07a 7.5%,#2dd56f 16.8%,#21d36d 19.6%,#00cb69 31.8%,#00c96e 32.5%,#00c679 33.2%,#00a9d0 37.5%,#009bf8 39.6%,#0099ff 40.4%,#2c41a7 100%)"></i>
<i style="left:271px;background:linear-gradient(0deg,#9aeb85 0%,#65e07a 5.4%,#44da74 10.4%,#21d36d 16.8%,#01cc66 26.8%,#00c774 29.6%,#00c47e 30.4%,#009bf9 37.5%,#0099fe 38.2%,#30399f 100%)"></i>
<i style="left:272px;background:linear-gradient(0deg,#6ee27c 0%,#5fdf79 1.8%,#23d36d 10.4%,#00cc66 18.2%,#00c57a 21.8%,#00acc7 29.6%,#009afb 33.9%,#0099ff 34.6%,#0490f6 37.5%,#2849af 78.9%,#31369c 92.5%,#33349a 100%)"></i>
<i style="left:273px;background:linear-gradient(0deg,#2bd56f 0%,#1ed26c 1.8%,#00cc67 6.8%,#00c677 8.9%,#009cf5 21.8%,#0099fe 23.2%,#0e7ee4 33.9%,#176cd2 43.2%,#31389e 78.2%,#333399 100%)"></i>
<i style="left:274px;background:linear-gradient(0deg,#00b5ac 0%,#00a0e9 3.9%,#009afd 5.4%,#176cd2 21.8%,#2d3ea4 43.2%,#333399 78.2%,#333399 100%)"></i>
<i style="left:275px;background:linear-gradient(0deg,#1a64ca 0%,#2849af 3.9%,#2a44aa 6.8%,#333399 43.2%,#333399 100%)"></i>
<i style="left:276px;background:linear-gradient(0deg,#30399f 0%,#333399 4.6%,#333399 100%)"></i>
<i style="left:277px;background:linear-gradient(0deg,#333399 0%,#333399 100%)"></i>
<i style="left:278px;background:linear-gradient(0deg,#333399 0%,#333399 100%)"></i>
<i style="left:279px;background:linear-gradient(0deg,#333399 0%,#333399 100%)"></i>
<i style="left:280px;background:linear-gradient(0deg,#333399 0%,#333399 100%)"></i>
<i style="left:281px;background:linear-gradient(0deg,#2c40a6 0%,#333399 26.1%,#333399 100%)"></i>
<i style="left:282px;background:linear-gradient(0deg,#0e7ce2 0%,#166dd3 5.4%,#2c40a6 26.1%,#333399 100%)"></i>
<i style="left:283px;background:linear-gradient(0deg,#00adc4 0%,#009df4 4.6%,#0099ff 6.8%,#1274da 30.4%,#32369c 92.5%,#32349a 100%)"></i>
<i style="left:284px;background:linear-gradient(0deg,#1bd16b 0%,#01cc66 3.9%,#00ca6c 4.6%,#00c47f 6.8%,#00b7a4 12.5%,#0098fe 31.1%,#2f3ba1 100%)"></i>
<i style="left:285px;background:linear-gradient(0deg,#bff28c 0%,#5ade78 6.8%,#21d36d 12.5%,#01cc66 18.9%,#009bf8 40.4%,#0099fe 41.8%,#2b44aa 100%)"></i>
<i style="left:286px;background:linear-gradient(0deg,#fefe99 0%,#a2ec86 6.8%,#5bde78 12.5%,#1fd26c 21.1%,#00cc67 29.6%,#00c872 31.8%,#009afc 48.2%,#0098fe 48.9%,#274bb1 100%)"></i>
<i style="left:287px;background:linear-gradient(0deg,#efeb91 0%,#fdff99 2.5%,#6be17b 13.9%,#45da74 18.9%,#25d36d 23.9%,#01cc66 34.6%,#00c187 38.9%,#00a2e5 48.9%,#009afd 51.8%,#0099ff 52.5%,#2451b7 100%)"></i>
<i style="left:288px;background:linear-gradient(0deg,#e2da89 0%,#fdfd98 3.9%,#f9fe98 4.6%,#6ee27c 16.1%,#57dd77 18.9%,#25d36d 26.8%,#00cc66 38.2%,#00c089 42.5%,#00a2e3 51.8%,#0099ff 55.4%,#2156bc 100%)"></i>
<i style="left:289px;background:linear-gradient(0deg,#d5c982 0%,#fdff99 6.1%,#7fe57f 16.8%,#5ddf79 20.4%,#24d36d 29.6%,#00cb68 41.8%,#00c872 43.2%,#0099fe 57.5%,#1f5bc1 100%)"></i>
<i style="left:290px;background:linear-gradient(0deg,#cabb7c 0%,#fefe99 7.5%,#63e07a 21.1%,#23d36d 31.1%,#00cc66 43.2%,#0099fe 58.9%,#1e5dc3 100%)"></i>
<i style="left:291px;background:linear-gradient(0deg,#c3b278 0%,#fbfa97 8.2%,#fdff99 8.9%,#74e37d 20.4%,#60df79 22.5%,#24d36d 31.8%,#01cc66 43.9%,#00c970 45.4%,#009cf6 58.9%,#0099ff 60.4%,#1d5fc5 100%)"></i>
<i style="left:292px;background:linear-gradient(0deg,#bdaa75 0%,#fefe98 9.6%,#6fe27c 21.8%,#62e07a 23.2%,#25d36d 32.5%,#01cc66 44.6%,#00c96f 46.1%,#0099ff 61.1%,#1c60c6 100%)"></i>
<i style="left:293px;background:linear-gradient(0deg,#b6a272 0%,#fcfb97 10.4%,#fcfe98 11.1%,#63e07a 23.9%,#23d36d 33.9%,#00cb68 46.1%,#009cf6 61.1%,#0098fe 62.5%,#1c62c8 100%)"></i>
<i style="left:294px;background:linear-gradient(0deg,#b19a6e 0%,#fefe99 11.8%,#75e37d 23.2%,#60df79 25.4%,#23d36d 34.6%,#00cb68 46.8%,#0099ff 63.2%,#1b63c9 100%)"></i>
<i style="left:295px;background:linear-gradient(0deg,#ab936b 0%,#fcfc98 12.5%,#fbfe98 13.2%,#6ee27c 24.6%,#61df79 26.1%,#24d36d 35.4%,#02cc66 46.8%,#00ca6d 48.2%,#0099fe 63.9%,#1a64ca 100%)"></i>
<i style="left:296px;background:linear-gradient(0deg,#a78e69 0%,#fdfd98 13.2%,#fafe98 13.9%,#66e07a 26.1%,#24d36d 36.1%,#02cc66 47.5%,#00ca6d 48.9%,#0099fe 64.6%,#1a66cc 100%)"></i>
<i style="left:297px;background:linear-gradient(0deg,#a48a67 0%,#feff99 13.9%,#64e07a 26.8%,#23d36d 36.8%,#01cc66 48.2%,#00cb68 48.9%,#0099fe 65.4%,#1967cd 100%)"></i>
<i style="left:298px;background:linear-gradient(0deg,#a18666 0%,#fdfc98 13.9%,#fafe98 14.6%,#66e07a 26.8%,#24d36d 36.8%,#00cc66 48.9%,#0099fe 66.1%,#1968ce 100%)"></i>
<i style="left:299px;background:linear-gradient(0deg,#9d8264 0%,#feff99 14.6%,#63e07a 27.5%,#23d36d 37.5%,#01cc66 48.9%,#00cb68 49.6%,#0099ff 66.8%,#1869cf 100%)"></i>
<i style="left:300px;background:linear-gradient(0deg,#9a7e62 0%,#fdfd98 14.6%,#fafe98 15.4%,#66e07a 27.5%,#24d36d 37.5%,#00cc66 49.6%,#0099ff 67.5%,#186ad0 100%)"></i>
<i style="left:301px;background:linear-gradient(0deg,#977960 0%,#feff99 15.4%,#63e07a 28.2%,#26d46e 37.5%,#01cc66 49.6%,#00cb69 50.4%,#009afd 67.5%,#0098fe 68.2%,#176bd1 100%)"></i>
<i style="left:302px;background:linear-gradient(0deg,#94765f 0%,#fefd98 15.4%,#f9fe98 16.1%,#65e07a 28.2%,#23d36d 38.2%,#00cc66 50.4%,#0099ff 68.2%,#176bd1 100%)"></i>
</div>
<div class="hm" id="hme" style="left:0;top:23.3px;width:667.6px;height:140.9px;clip-path:inset(0 0 0 387.2px)">
<i style="left:387.2px;background:linear-gradient(0deg,#ff8b00 0%,#ff5f00 13.8%,#ff3a00 27.3%,#ff0c00 51.4%,#ff0500 59.9%,#ff0000 100%)"></i>
<i style="left:388.2px;background:linear-gradient(0deg,#ff9400 0%,#ff6500 13.8%,#ff3f00 26.6%,#ff0d00 50%,#ff0400 59.9%,#fe0000 100%)"></i>
<i style="left:389.2px;background:linear-gradient(0deg,#ff9900 0%,#ff6a00 13.1%,#ff4400 25.2%,#ff2200 38.7%,#ff0d00 49.3%,#ff0300 59.9%,#fd0000 100%)"></i>
<i style="left:390.2px;background:linear-gradient(0deg,#ff9900 0%,#ff6c00 12.4%,#ff4600 24.5%,#ff2000 38.7%,#ff0c00 48.6%,#ff0300 59.9%,#fc0000 100%)"></i>
<i style="left:391.2px;background:linear-gradient(0deg,#ff9800 0%,#ff4c00 22.3%,#ff2000 37.2%,#ff0b00 47.2%,#ff0200 59.2%,#fc0000 100%)"></i>
<i style="left:392.2px;background:linear-gradient(0deg,#ff9700 0%,#ff6800 13.1%,#ff2800 33%,#ff0b00 45.7%,#ff0200 57.8%,#fb0000 100%)"></i>
<i style="left:393.2px;background:linear-gradient(0deg,#ff9700 0%,#ff2300 33%,#ff0b00 43.6%,#ff0100 56.4%,#fa0000 100%)"></i>
<i style="left:394.2px;background:linear-gradient(0deg,#ff9600 0%,#ff1f00 32.3%,#ff0900 42.2%,#ff0300 49.3%,#ff0000 59.2%,#fa0000 100%)"></i>
<i style="left:395.2px;background:linear-gradient(0deg,#ff9500 0%,#ff5d00 16%,#ff2000 30.1%,#ff0900 40.1%,#ff0000 56.4%,#f90000 100%)"></i>
<i style="left:396.2px;background:linear-gradient(0deg,#ff9500 0%,#ff6500 13.1%,#ff2300 27.3%,#ff1300 32.3%,#ff0900 37.2%,#ff0200 43.6%,#ff0000 52.8%,#f80000 100%)"></i>
<i style="left:397.2px;background:linear-gradient(0deg,#ff9400 0%,#ff6e00 10.3%,#ff2300 25.2%,#ff1300 30.1%,#ff0800 35.1%,#ff0000 49.3%,#f80000 100%)"></i>
<i style="left:398.2px;background:linear-gradient(0deg,#ff9300 0%,#ff7600 7.4%,#ff2600 22.3%,#ff1400 27.3%,#ff0700 33%,#ff0000 45.7%,#f70000 100%)"></i>
<i style="left:399.2px;background:linear-gradient(0deg,#ff9300 0%,#ff7f00 4.6%,#ff2900 19.5%,#ff1300 25.2%,#ff0600 30.9%,#ff0000 42.2%,#f60000 100%)"></i>
<i style="left:400.2px;background:linear-gradient(0deg,#ff9100 0%,#ff2800 17.4%,#ff1200 23%,#ff0500 28.7%,#ff0000 40.8%,#f60000 100%)"></i>
<i style="left:401.2px;background:linear-gradient(0deg,#ff8900 0%,#ff4800 9.6%,#ff2b00 14.5%,#ff1300 20.2%,#ff0600 25.9%,#ff0000 40.8%,#f60000 100%)"></i>
<i style="left:402.2px;background:linear-gradient(0deg,#ff7c00 0%,#ff4800 7.4%,#ff2600 13.1%,#ff1100 18.1%,#ff0500 23.8%,#ff0000 40.8%,#f60000 100%)"></i>
<i style="left:403.2px;background:linear-gradient(0deg,#ff6c00 0%,#ff4200 6%,#ff2400 11%,#ff1000 16%,#ff0500 20.9%,#ff0000 40.8%,#f60000 100%)"></i>
<i style="left:404.2px;background:linear-gradient(0deg,#ff5a00 0%,#ff3600 5.3%,#ff1e00 9.6%,#ff0e00 13.8%,#ff0500 18.8%,#ff0000 41.5%,#f60000 100%)"></i>
<i style="left:405.2px;background:linear-gradient(0deg,#ff4800 0%,#ff2b00 4.6%,#ff1900 8.2%,#ff0d00 11.7%,#ff0500 16%,#ff0000 41.5%,#f60000 100%)"></i>
<i style="left:406.2px;background:linear-gradient(0deg,#ff3500 0%,#ff1300 6.7%,#ff0600 13.1%,#ff0000 40.8%,#f60000 100%)"></i>
<i style="left:407.2px;background:linear-gradient(0deg,#ff2400 0%,#ff0f00 5.3%,#ff0600 10.3%,#ff0000 40.8%,#f60000 100%)"></i>
<i style="left:408.2px;background:linear-gradient(0deg,#ff1600 0%,#ff0b00 3.9%,#ff0700 7.4%,#ff0000 40.8%,#f60000 100%)"></i>
<i style="left:409.2px;background:linear-gradient(0deg,#ff0d00 0%,#ff0700 3.9%,#ff0000 40.8%,#f60000 100%)"></i>
<i style="left:410.2px;background:linear-gradient(0deg,#ff0500 0%,#ff0000 28%,#f40000 100%)"></i>
<i style="left:411.2px;background:linear-gradient(0deg,#ff0100 0%,#f10000 100%)"></i>
<i style="left:412.2px;background:linear-gradient(0deg,#fc0000 0%,#ee0000 100%)"></i>
<i style="left:413.2px;background:linear-gradient(0deg,#f70000 0%,#eb0000 100%)"></i>
<i style="left:414.2px;background:linear-gradient(0deg,#f30000 0%,#e80000 100%)"></i>
<i style="left:415.2px;background:linear-gradient(0deg,#ef0000 0%,#e60000 100%)"></i>
<i style="left:416.2px;background:linear-gradient(0deg,#df0000 0%,#d70000 100%)"></i>
<i style="left:417.2px;background:linear-gradient(0deg,#cb0000 0%,#c20000 100%)"></i>
<i style="left:418.2px;background:linear-gradient(0deg,#b70000 0%,#ae0000 100%)"></i>
<i style="left:419.2px;background:linear-gradient(0deg,#9d0000 0%,#950000 100%)"></i>
<i style="left:420.2px;background:linear-gradient(0deg,#6d0000 0%,#6a0000 100%)"></i>
<i style="left:421.2px;background:linear-gradient(0deg,#3f0000 0%,#3f0000 100%)"></i>
<i style="left:422.2px;background:linear-gradient(0deg,#190000 0%,#190000 100%)"></i>
<i style="left:423.2px;background:linear-gradient(0deg,#050000 0%,#050000 100%)"></i>
<i style="left:424.2px;background:linear-gradient(0deg,#040000 0%,#040000 100%)"></i>
<i style="left:425.2px;background:linear-gradient(0deg,#0e0000 0%,#0e0000 100%)"></i>
<i style="left:426.2px;background:linear-gradient(0deg,#300000 0%,#2f0000 100%)"></i>
<i style="left:427.2px;background:linear-gradient(0deg,#550000 0%,#500000 100%)"></i>
<i style="left:428.2px;background:linear-gradient(0deg,#780000 0%,#6d0000 100%)"></i>
<i style="left:429.2px;background:linear-gradient(0deg,#940000 0%,#7f0000 100%)"></i>
<i style="left:430.2px;background:linear-gradient(0deg,#b00000 0%,#9a0000 58.5%,#900000 100%)"></i>
<i style="left:431.2px;background:linear-gradient(0deg,#bf0000 0%,#a40000 58.5%,#980000 100%)"></i>
<i style="left:432.2px;background:linear-gradient(0deg,#c70000 0%,#a90000 58.5%,#9b0000 100%)"></i>
<i style="left:433.2px;background:linear-gradient(0deg,#d00000 0%,#af0000 58.5%,#9f0000 100%)"></i>
<i style="left:434.2px;background:linear-gradient(0deg,#d90000 0%,#b40000 58.5%,#a20000 100%)"></i>
<i style="left:435.2px;background:linear-gradient(0deg,#e20000 0%,#b90000 58.5%,#a60000 100%)"></i>
<i style="left:436.2px;background:linear-gradient(0deg,#e70000 0%,#bc0000 58.5%,#a80000 100%)"></i>
<i style="left:437.2px;background:linear-gradient(0deg,#ea0000 0%,#bd0000 58.5%,#a90000 100%)"></i>
<i style="left:438.2px;background:linear-gradient(0deg,#ed0000 0%,#bf0000 58.5%,#aa0000 100%)"></i>
<i style="left:439.2px;background:linear-gradient(0deg,#f00000 0%,#c10000 58.5%,#ab0000 100%)"></i>
<i style="left:440.2px;background:linear-gradient(0deg,#f00000 0%,#c10000 58.5%,#ab0000 100%)"></i>
<i style="left:441.2px;background:linear-gradient(0deg,#ed0000 0%,#bf0000 58.5%,#aa0000 100%)"></i>
<i style="left:442.2px;background:linear-gradient(0deg,#ea0000 0%,#be0000 58.5%,#a90000 100%)"></i>
<i style="left:443.2px;background:linear-gradient(0deg,#e80000 0%,#bc0000 58.5%,#a80000 100%)"></i>
<i style="left:444.2px;background:linear-gradient(0deg,#e50000 0%,#bb0000 58.5%,#a70000 100%)"></i>
<i style="left:445.2px;background:linear-gradient(0deg,#da0000 0%,#b30000 58.5%,#a20000 100%)"></i>
<i style="left:446.2px;background:linear-gradient(0deg,#cb0000 0%,#aa0000 58.5%,#9a0000 100%)"></i>
<i style="left:447.2px;background:linear-gradient(0deg,#bc0000 0%,#a00000 58.5%,#930000 100%)"></i>
<i style="left:448.2px;background:linear-gradient(0deg,#a90000 0%,#930000 58.5%,#880000 100%)"></i>
<i style="left:449.2px;background:linear-gradient(0deg,#8a0000 0%,#730000 100%)"></i>
<i style="left:450.2px;background:linear-gradient(0deg,#6a0000 0%,#5e0000 100%)"></i>
<i style="left:451.2px;background:linear-gradient(0deg,#4b0000 0%,#450000 100%)"></i>
<i style="left:452.2px;background:linear-gradient(0deg,#2c0000 0%,#2b0000 100%)"></i>
<i style="left:453.2px;background:linear-gradient(0deg,#130000 0%,#130000 100%)"></i>
<i style="left:454.2px;background:linear-gradient(0deg,#040000 0%,#040000 100%)"></i>
<i style="left:455.2px;background:linear-gradient(0deg,#040000 0%,#040000 100%)"></i>
<i style="left:456.2px;background:linear-gradient(0deg,#040000 0%,#040000 100%)"></i>
<i style="left:457.2px;background:linear-gradient(0deg,#130000 0%,#130000 100%)"></i>
<i style="left:458.2px;background:linear-gradient(0deg,#270000 0%,#260000 100%)"></i>
<i style="left:459.2px;background:linear-gradient(0deg,#3b0000 0%,#350000 100%)"></i>
<i style="left:460.2px;background:linear-gradient(0deg,#4f0000 0%,#440000 100%)"></i>
<i style="left:461.2px;background:linear-gradient(0deg,#630000 0%,#530000 100%)"></i>
<i style="left:462.2px;background:linear-gradient(0deg,#790000 0%,#640000 100%)"></i>
<i style="left:463.2px;background:linear-gradient(0deg,#910000 0%,#7e0000 56.4%,#760000 100%)"></i>
<i style="left:464.2px;background:linear-gradient(0deg,#ab0000 0%,#920000 55%,#870000 100%)"></i>
<i style="left:465.2px;background:linear-gradient(0deg,#c50000 0%,#a60000 54.3%,#990000 100%)"></i>
<i style="left:466.2px;background:linear-gradient(0deg,#d80000 0%,#b40000 53.5%,#a60000 100%)"></i>
<i style="left:467.2px;background:linear-gradient(0deg,#e90000 0%,#c00000 53.5%,#b20000 100%)"></i>
<i style="left:468.2px;background:linear-gradient(0deg,#fa0000 0%,#ce0000 49.3%,#be0000 100%)"></i>
<i style="left:469.2px;background:linear-gradient(0deg,#ff0b00 0%,#ff0000 10.3%,#da0000 55.7%,#ca0000 100%)"></i>
<i style="left:470.2px;background:linear-gradient(0deg,#ff1d00 0%,#ff0000 31.6%,#e80000 58.5%,#d50000 100%)"></i>
<i style="left:471.2px;background:linear-gradient(0deg,#ff3700 0%,#ff0000 52.1%,#e10000 100%)"></i>
<i style="left:472.2px;background:linear-gradient(0deg,#ff5100 0%,#ff0100 62.8%,#e60000 100%)"></i>
<i style="left:473.2px;background:linear-gradient(0deg,#ff6b00 0%,#ff1d00 46.5%,#ff0700 62.1%,#ff0000 69.9%,#ee0000 87.6%,#e80000 100%)"></i>
<i style="left:474.2px;background:linear-gradient(0deg,#ff8600 0%,#ff2c00 42.9%,#ff0b00 62.1%,#ff0000 72%,#f00000 86.9%,#eb0000 100%)"></i>
<i style="left:475.2px;background:linear-gradient(0deg,#ff9c00 0%,#ff3b00 39.4%,#ff0e00 62.1%,#ff0000 72.7%,#f20000 86.2%,#ed0000 100%)"></i>
<i style="left:476.2px;background:linear-gradient(0deg,#ffad00 0%,#ff4600 36.5%,#ff0f00 61.3%,#ff0000 72.7%,#f30000 85.5%,#ef0000 100%)"></i>
<i style="left:477.2px;background:linear-gradient(0deg,#ffb700 0%,#ff5900 30.1%,#ff1000 60.6%,#ff0000 72%,#f50000 84%,#f10000 100%)"></i>
<i style="left:478.2px;background:linear-gradient(0deg,#ffb900 0%,#ff6500 26.6%,#ff0e00 59.9%,#ff0000 70.6%,#f60000 82.6%,#f30000 100%)"></i>
<i style="left:479.2px;background:linear-gradient(0deg,#ffbb00 0%,#ff7400 22.3%,#ff2300 50%,#ff0e00 58.5%,#ff0000 69.9%,#f60000 100%)"></i>
<i style="left:480.2px;background:linear-gradient(0deg,#ffbc00 0%,#ff2b00 45%,#ff0c00 57.1%,#ff0000 67%,#f60000 100%)"></i>
<i style="left:481.2px;background:linear-gradient(0deg,#ffbc00 0%,#ff6f00 23.8%,#ff2c00 42.2%,#ff0c00 54.3%,#ff0000 63.5%,#f60000 100%)"></i>
<i style="left:482.2px;background:linear-gradient(0deg,#ffbc00 0%,#ff8300 17.4%,#ff2e00 38.7%,#ff0c00 51.4%,#ff0000 60.6%,#f60000 100%)"></i>
<i style="left:483.2px;background:linear-gradient(0deg,#ffbc00 0%,#ff9100 12.4%,#ff3600 33.7%,#ff1e00 40.8%,#ff0e00 47.9%,#ff0000 59.9%,#f60000 100%)"></i>
<i style="left:484.2px;background:linear-gradient(0deg,#ffbc00 0%,#ffa000 7.4%,#ff3d00 28.7%,#ff2200 36.5%,#ff1100 43.6%,#ff0000 59.9%,#f60000 100%)"></i>
<i style="left:485.2px;background:linear-gradient(0deg,#ffb900 0%,#ff4400 23.8%,#ff2800 31.6%,#ff1400 39.4%,#ff0000 59.9%,#f60000 100%)"></i>
<i style="left:486.2px;background:linear-gradient(0deg,#ffae00 0%,#ff6e00 11.7%,#ff4800 19.5%,#ff2b00 27.3%,#ff1800 35.1%,#ff0000 59.9%,#f60000 100%)"></i>
<i style="left:487.2px;background:linear-gradient(0deg,#ff9d00 0%,#ff6700 9.6%,#ff4600 16.7%,#ff2d00 23.8%,#ff1d00 30.9%,#ff0000 59.9%,#f60000 100%)"></i>
<i style="left:488.2px;background:linear-gradient(0deg,#ff8800 0%,#ff6000 7.4%,#ff4300 13.8%,#ff2f00 20.2%,#ff2200 26.6%,#ff0000 59.9%,#f60000 100%)"></i>
<i style="left:489.2px;background:linear-gradient(0deg,#ff7300 0%,#ff4f00 7.4%,#ff3600 14.5%,#ff2a00 20.2%,#ff1800 33%,#ff0000 59.9%,#f60000 100%)"></i>
<i style="left:490.2px;background:linear-gradient(0deg,#ff5f00 0%,#ff4600 6%,#ff3500 11.7%,#ff1400 30.1%,#ff0000 59.9%,#f60000 100%)"></i>
<i style="left:491.2px;background:linear-gradient(0deg,#ff4a00 0%,#ff3500 6%,#ff2200 13.1%,#ff0e00 24.5%,#ff0f00 40.1%,#ff0000 59.9%,#f60000 100%)"></i>
<i style="left:492.2px;background:linear-gradient(0deg,#ff2a00 0%,#ff1200 8.9%,#ff0900 16%,#ff1300 35.1%,#ff0000 59.9%,#f60000 100%)"></i>
<i style="left:493.2px;background:linear-gradient(0deg,#ff0a00 0%,#ff0900 6.7%,#ff1800 20.2%,#ff1a00 27.3%,#ff0000 59.9%,#f60000 100%)"></i>
<i style="left:494.2px;background:linear-gradient(0deg,#ff1600 0%,#ff2400 8.9%,#ff2800 16.7%,#ff0000 59.9%,#f60000 100%)"></i>
<i style="left:495.2px;background:linear-gradient(0deg,#ff3800 0%,#ff3500 11%,#ff1100 40.8%,#ff0000 59.9%,#f60000 100%)"></i>
<i style="left:496.2px;background:linear-gradient(0deg,#ff4900 0%,#ff1c00 30.9%,#ff0300 55.7%,#f60000 100%)"></i>
<i style="left:497.2px;background:linear-gradient(0deg,#ff5700 0%,#ff4700 3.9%,#ff3c00 8.9%,#ff1c00 30.9%,#ff0700 50.7%,#ff0000 59.9%,#f60000 100%)"></i>
<i style="left:498.2px;background:linear-gradient(0deg,#ff6f00 0%,#ff4f00 5.3%,#ff3900 11%,#ff1300 38.7%,#ff0000 59.9%,#f60000 100%)"></i>
<i style="left:499.2px;background:linear-gradient(0deg,#ff9100 0%,#ff6600 5.3%,#ff4b00 9.6%,#ff3800 13.8%,#ff2d00 18.8%,#ff1100 40.8%,#ff0000 59.9%,#f60000 100%)"></i>
<i style="left:500.2px;background:linear-gradient(0deg,#ffb800 0%,#ff7f00 6%,#ff5400 11.7%,#ff3900 16.7%,#ff2800 22.3%,#ff0f00 42.9%,#ff0000 60.6%,#f70000 100%)"></i>
<i style="left:501.2px;background:linear-gradient(0deg,#ffe100 0%,#ff9c00 6.7%,#ff6400 13.1%,#ff3c00 19.5%,#ff2500 25.9%,#ff1000 42.9%,#ff0000 61.3%,#f70000 100%)"></i>
<i style="left:502.2px;background:linear-gradient(0deg,#ffff0d 0%,#ffff00 1.1%,#ffa200 9.6%,#ff6400 16.7%,#ff3c00 23%,#ff2100 30.1%,#ff0f00 44.3%,#ff0100 62.1%,#f80000 100%)"></i>
<i style="left:503.2px;background:linear-gradient(0deg,#ffff3d 0%,#ffff01 3.9%,#fff800 4.6%,#ffa000 13.1%,#ff6300 20.2%,#ff3800 27.3%,#ff1e00 34.4%,#ff0f00 44.3%,#ff0100 62.1%,#f90000 100%)"></i>
<i style="left:504.2px;background:linear-gradient(0deg,#ffff5c 0%,#fffe00 6.7%,#ff9c00 16.7%,#ff6200 23.8%,#ff3700 30.9%,#ff1a00 38.7%,#ff0e00 46.5%,#ff0200 62.8%,#fa0000 100%)"></i>
<i style="left:505.2px;background:linear-gradient(0deg,#ffff68 0%,#ffff37 4.6%,#fffe00 8.9%,#ff9700 20.2%,#ff5f00 27.3%,#ff3500 34.4%,#ff1800 42.2%,#ff0d00 48.6%,#ff0300 62.8%,#fa0000 100%)"></i>
<i style="left:506.2px;background:linear-gradient(0deg,#ffff69 0%,#ffff01 10.3%,#ff8500 25.2%,#ff5700 31.6%,#ff2f00 38.7%,#ff1600 45.7%,#ff0a00 52.1%,#ff0300 62.8%,#fb0000 100%)"></i>
<i style="left:507.2px;background:linear-gradient(0deg,#ffff6a 0%,#ffff00 11%,#ffda00 16.7%,#ff7e00 28.7%,#ff5200 35.1%,#ff2d00 42.2%,#ff1500 49.3%,#ff0900 55.7%,#ff0400 62.8%,#fc0000 100%)"></i>
<i style="left:508.2px;background:linear-gradient(0deg,#ffff6c 0%,#ffff01 11%,#ffc400 20.9%,#ff4d00 38.7%,#ff2d00 45%,#ff1500 52.1%,#ff0400 63.5%,#fd0000 100%)"></i>
<i style="left:509.2px;background:linear-gradient(0deg,#ffff6d 0%,#ffff09 10.3%,#fffc00 11.7%,#ffab00 25.9%,#ff4b00 41.5%,#ff3000 47.2%,#ff1b00 52.8%,#ff0c00 59.2%,#ff0500 65.6%,#fd0000 100%)"></i>
<i style="left:510.2px;background:linear-gradient(0deg,#ffff6e 0%,#ffff11 9.6%,#fffd00 11.7%,#ff5000 42.9%,#ff3200 49.3%,#ff1e00 55%,#ff0d00 62.1%,#ff0500 69.1%,#fe0000 100%)"></i>
<i style="left:511.2px;background:linear-gradient(0deg,#ffff6f 0%,#ffff19 8.9%,#fffd00 11.7%,#ffb500 24.5%,#ff5300 44.3%,#ff3300 51.4%,#ff2100 57.1%,#ff1000 64.2%,#ff0600 72.7%,#ff0000 100%)"></i>
<i style="left:512.2px;background:linear-gradient(0deg,#ffff70 0%,#fffe00 11.7%,#ffc100 22.3%,#ff8f00 32.3%,#ff4200 50%,#ff2500 58.5%,#ff1300 66.3%,#ff0700 74.8%,#ff0000 100%)"></i>
<i style="left:513.2px;background:linear-gradient(0deg,#ffff71 0%,#ffff00 11.7%,#ffbe00 23%,#ff8600 34.4%,#ff4800 50%,#ff2b00 59.2%,#ff1700 67.7%,#ff0900 77%,#ff0100 100%)"></i>
<i style="left:514.2px;background:linear-gradient(0deg,#ffff72 0%,#ffff00 11.7%,#ffbe00 23%,#ff8600 34.4%,#ff6200 42.9%,#ff4300 52.8%,#ff2500 64.2%,#ff0e00 76.2%,#ff0500 86.2%,#ff0200 100%)"></i>
<i style="left:515.2px;background:linear-gradient(0deg,#ffff73 0%,#ffff08 11%,#fffb00 12.4%,#ffba00 23.8%,#ff8b00 33%,#ff6a00 40.8%,#ff5000 48.6%,#ff2b00 64.2%,#ff1200 77%,#ff0600 87.6%,#ff0200 100%)"></i>
<i style="left:516.2px;background:linear-gradient(0deg,#ffff74 0%,#ffff10 10.3%,#ffff02 11.7%,#fffc00 12.4%,#ffbc00 23%,#ff9300 30.9%,#ff6e00 39.4%,#ff5400 47.2%,#ff4000 55.7%,#ff1400 78.4%,#ff0800 89%,#ff0300 100%)"></i>
<i style="left:517.2px;background:linear-gradient(0deg,#ffff75 0%,#fffe00 11.7%,#ffc400 20.9%,#ff9600 29.4%,#ff7500 37.2%,#ff5800 45.7%,#ff3c00 57.8%,#ff1700 79.8%,#ff0a00 89.7%,#ff0400 100%)"></i>
<i style="left:518.2px;background:linear-gradient(0deg,#ffff72 0%,#ffff03 10.3%,#fffc00 11%,#ffc600 19.5%,#ff9c00 27.3%,#ff7800 35.8%,#ff5c00 44.3%,#ff3300 63.5%,#ff1000 86.9%,#ff0600 100%)"></i>
<i style="left:519.2px;background:linear-gradient(0deg,#ffff66 0%,#ffff14 7.4%,#fffd00 9.6%,#ffc600 18.1%,#ff9e00 25.9%,#ff7d00 33.7%,#ff6000 42.9%,#ff3300 63.5%,#ff1100 88.3%,#ff0800 100%)"></i>
<i style="left:520.2px;background:linear-gradient(0deg,#ffff53 0%,#ffff01 7.4%,#fffb00 8.2%,#ffca00 16%,#ff9f00 24.5%,#ff7d00 33%,#ff6200 42.2%,#ff3400 63.5%,#ff0900 100%)"></i>
<i style="left:521.2px;background:linear-gradient(0deg,#ffff3b 0%,#ffff03 5.3%,#fffc00 6%,#ffcc00 13.8%,#ffa200 22.3%,#ff8200 30.9%,#ff6400 41.5%,#ff3500 63.5%,#ff0b00 100%)"></i>
<i style="left:522.2px;background:linear-gradient(0deg,#ffff21 0%,#ffff02 3.2%,#fffc00 3.9%,#ffca00 12.4%,#ffa100 21.6%,#ff7f00 31.6%,#ff5b00 45%,#ff3400 64.2%,#ff0d00 100%)"></i>
<i style="left:523.2px;background:linear-gradient(0deg,#ffff07 0%,#ffff00 1.1%,#ffcf00 9.6%,#ffa800 18.8%,#ff8600 29.4%,#ff5c00 45%,#ff3500 64.2%,#ff1e00 82.6%,#ff0e00 100%)"></i>
<i style="left:524.2px;background:linear-gradient(0deg,#fff500 0%,#ffce00 8.2%,#ffae00 16.7%,#ff7e00 32.3%,#ff5600 47.9%,#ff3200 67%,#ff0f00 100%)"></i>
<i style="left:525.2px;background:linear-gradient(0deg,#ffe900 0%,#ffc600 8.9%,#ff9800 23%,#ff6e00 37.9%,#ff4d00 51.4%,#ff2b00 71.3%,#ff0f00 100%)"></i>
<i style="left:526.2px;background:linear-gradient(0deg,#ffdb00 0%,#ff8500 27.3%,#ff4700 52.1%,#ff2800 72%,#ff0e00 100%)"></i>
<i style="left:527.2px;background:linear-gradient(0deg,#ffcb00 0%,#ff7a00 27.3%,#ff4100 52.1%,#ff2500 71.3%,#ff0d00 100%)"></i>
<i style="left:528.2px;background:linear-gradient(0deg,#ffb700 0%,#ff6d00 27.3%,#ff3900 52.1%,#ff2100 69.9%,#ff0c00 100%)"></i>
<i style="left:529.2px;background:linear-gradient(0deg,#ffa100 0%,#ff5f00 27.3%,#ff3000 52.1%,#ff1d00 68.4%,#ff0b00 100%)"></i>
<i style="left:530.2px;background:linear-gradient(0deg,#ff8c00 0%,#ff5100 27.3%,#ff2800 52.1%,#ff1a00 66.3%,#ff0a00 100%)"></i>
<i style="left:531.2px;background:linear-gradient(0deg,#ff7300 0%,#ff3b00 28%,#ff1600 53.5%,#ff0600 75.5%,#fc0000 100%)"></i>
<i style="left:532.2px;background:linear-gradient(0deg,#ff3600 0%,#fe0000 25.9%,#dc0000 44.3%,#c50000 60.6%,#af0000 100%)"></i>
<i style="left:533.2px;background:linear-gradient(0deg,#ff1000 0%,#fe0000 7.4%,#c10000 34.4%,#990000 57.8%,#870000 78.4%,#7b0000 100%)"></i>
<i style="left:534.2px;background:linear-gradient(0deg,#ff1000 0%,#fe0000 7.4%,#c10000 34.4%,#990000 57.8%,#870000 78.4%,#7b0000 100%)"></i>
<i style="left:535.2px;background:linear-gradient(0deg,#ff4400 0%,#ff0000 37.9%,#e10000 62.8%,#d10000 100%)"></i>
<i style="left:536.2px;background:linear-gradient(0deg,#ff6800 0%,#ff2f00 30.1%,#ff0c00 55.7%,#ff0000 75.5%,#f60000 100%)"></i>
<i style="left:537.2px;background:linear-gradient(0deg,#ff8200 0%,#ff4600 28%,#ff1d00 52.8%,#ff1200 63.5%,#ff0000 100%)"></i>
<i style="left:538.2px;background:linear-gradient(0deg,#ff9700 0%,#ff5200 28%,#ff2100 53.5%,#ff1500 64.2%,#fe0000 100%)"></i>
<i style="left:539.2px;background:linear-gradient(0deg,#ffac00 0%,#ff5e00 28%,#ff2700 53.5%,#ff1a00 62.8%,#ff0800 84%,#fd0000 100%)"></i>
<i style="left:540.2px;background:linear-gradient(0deg,#ffbf00 0%,#ff6700 28.7%,#ff2b00 54.3%,#ff0600 84.8%,#fc0000 100%)"></i>
<i style="left:541.2px;background:linear-gradient(0deg,#ffcd00 0%,#ff6f00 28.7%,#ff2e00 54.3%,#ff1e00 63.5%,#ff0600 83.3%,#ff0000 90.4%,#fb0000 100%)"></i>
<i style="left:542.2px;background:linear-gradient(0deg,#ffd400 0%,#ff7200 28.7%,#ff2f00 54.3%,#ff1e00 63.5%,#ff0600 81.2%,#ff0000 87.6%,#fb0000 100%)"></i>
<i style="left:543.2px;background:linear-gradient(0deg,#ffd300 0%,#ff6d00 30.1%,#ff4700 43.6%,#ff2600 57.8%,#ff1200 69.1%,#ff0300 81.2%,#fa0000 100%)"></i>
<i style="left:544.2px;background:linear-gradient(0deg,#ffd100 0%,#ff6c00 30.1%,#ff1c00 60.6%,#ff0b00 71.3%,#ff0000 81.2%,#f90000 100%)"></i>
<i style="left:545.2px;background:linear-gradient(0deg,#ffd000 0%,#ff7300 27.3%,#ff1600 60.6%,#ff0000 77.7%,#f80000 100%)"></i>
<i style="left:546.2px;background:linear-gradient(0deg,#ffce00 0%,#ff7f00 23%,#ff1300 59.2%,#ff0000 73.4%,#f70000 100%)"></i>
<i style="left:547.2px;background:linear-gradient(0deg,#ffcd00 0%,#ff8c00 18.8%,#ff5700 35.8%,#ff2500 50%,#ff0f00 57.8%,#ff0000 69.1%,#f60000 100%)"></i>
<i style="left:548.2px;background:linear-gradient(0deg,#ffcc00 0%,#ff6400 30.9%,#ff2800 46.5%,#ff0d00 56.4%,#ff0000 66.3%,#f60000 100%)"></i>
<i style="left:549.2px;background:linear-gradient(0deg,#ffcc00 0%,#ff7600 25.2%,#ff2a00 43.6%,#ff0d00 53.5%,#ff0000 64.9%,#f60000 100%)"></i>
<i style="left:550.2px;background:linear-gradient(0deg,#ffcc00 0%,#ff8500 20.2%,#ff3000 39.4%,#ff1000 50%,#ff0600 56.4%,#ff0000 64.2%,#f60000 100%)"></i>
<i style="left:551.2px;background:linear-gradient(0deg,#ffcc00 0%,#ff9500 15.2%,#ff3300 35.8%,#ff1200 46.5%,#ff0800 52.8%,#ff0000 64.2%,#f60000 100%)"></i>
<i style="left:552.2px;background:linear-gradient(0deg,#ffcc00 0%,#ffa300 11%,#ff3c00 30.9%,#ff2400 37.2%,#ff1500 42.9%,#ff0c00 49.3%,#ff0100 63.5%,#f60000 100%)"></i>
<i style="left:553.2px;background:linear-gradient(0deg,#ffcc00 0%,#ffb000 6.7%,#ff4500 25.9%,#ff2b00 32.3%,#ff1900 38.7%,#ff0c00 49.3%,#ff0100 63.5%,#f60000 100%)"></i>
<i style="left:554.2px;background:linear-gradient(0deg,#ffc900 0%,#ff4f00 20.9%,#ff3000 28%,#ff1e00 34.4%,#ff0d00 47.9%,#ff0100 62.8%,#f60000 100%)"></i>
<i style="left:555.2px;background:linear-gradient(0deg,#ffbd00 0%,#ff7600 11%,#ff5100 17.4%,#ff3300 24.5%,#ff2200 30.9%,#ff0d00 47.9%,#ff0100 62.8%,#f60000 100%)"></i>
<i style="left:556.2px;background:linear-gradient(0deg,#ffaa00 0%,#ff7500 8.2%,#ff5000 14.5%,#ff3600 20.9%,#ff2800 26.6%,#ff0f00 45.7%,#ff0100 62.1%,#f60000 100%)"></i>
<i style="left:557.2px;background:linear-gradient(0deg,#ff9400 0%,#ff6e00 6%,#ff4f00 11.7%,#ff3900 17.4%,#ff2e00 22.3%,#ff1200 43.6%,#ff0200 61.3%,#f60000 100%)"></i>
<i style="left:558.2px;background:linear-gradient(0deg,#ff7f00 0%,#ff5500 7.4%,#ff3c00 13.8%,#ff1b00 35.1%,#ff0000 62.8%,#f50000 100%)"></i>
<i style="left:559.2px;background:linear-gradient(0deg,#ff7500 0%,#ff5600 6%,#ff4400 11.7%,#ff2700 27.3%,#ff1000 43.6%,#ff0000 60.6%,#f40000 100%)"></i>
<i style="left:560.2px;background:linear-gradient(0deg,#ff7200 0%,#ff5b00 6%,#ff3a00 20.2%,#ff1e00 35.1%,#ff0a00 49.3%,#ff0000 59.9%,#f30000 100%)"></i>
<i style="left:561.2px;background:linear-gradient(0deg,#ff7800 0%,#ff5300 13.1%,#ff3300 26.6%,#ff1900 40.1%,#ff0800 52.1%,#ff0000 59.9%,#f10000 100%)"></i>
<i style="left:562.2px;background:linear-gradient(0deg,#ff7e00 0%,#ff3100 29.4%,#ff1a00 40.8%,#ff0600 54.3%,#fe0000 59.9%,#f70000 70.6%,#f00000 100%)"></i>
<i style="left:563.2px;background:linear-gradient(0deg,#ff7e00 0%,#ff3100 30.1%,#ff1700 42.9%,#ff0400 55.7%,#fe0000 59.2%,#f60000 70.6%,#ef0000 100%)"></i>
<i style="left:564.2px;background:linear-gradient(0deg,#ff7d00 0%,#ff3200 29.4%,#ff1600 42.9%,#ff0200 55.7%,#f50000 69.9%,#ed0000 100%)"></i>
<i style="left:565.2px;background:linear-gradient(0deg,#ff7c00 0%,#ff2600 33.7%,#ff0100 54.3%,#f50000 68.4%,#ec0000 100%)"></i>
<i style="left:566.2px;background:linear-gradient(0deg,#ff7b00 0%,#ff2800 30.1%,#ff1200 40.8%,#ff0200 51.4%,#f50000 64.2%,#eb0000 100%)"></i>
<i style="left:567.2px;background:linear-gradient(0deg,#ff7800 0%,#ff4c00 13.8%,#ff2d00 25.2%,#ff1400 36.5%,#ff0300 48.6%,#f40000 63.5%,#e90000 100%)"></i>
<i style="left:568.2px;background:linear-gradient(0deg,#ff6c00 0%,#ff4700 11.7%,#ff2900 23%,#ff1400 34.4%,#ff0300 47.2%,#f40000 63.5%,#e90000 100%)"></i>
<i style="left:569.2px;background:linear-gradient(0deg,#ff5400 0%,#ff3600 11%,#ff2000 21.6%,#ff0000 49.3%,#f40000 63.5%,#e90000 100%)"></i>
<i style="left:570.2px;background:linear-gradient(0deg,#ff1800 0%,#ff0000 16.7%,#fa0000 25.9%,#ff0000 47.2%,#f30000 63.5%,#e90000 100%)"></i>
<i style="left:571.2px;background:linear-gradient(0deg,#aa0000 0%,#a80000 13.1%,#af0000 21.6%,#bf0000 28%,#ec0000 39.4%,#f80000 46.5%,#e90000 100%)"></i>
<i style="left:572.2px;background:linear-gradient(0deg,#7f0000 0%,#830000 13.8%,#8f0000 21.6%,#a60000 28%,#e40000 39.4%,#f60000 46.5%,#f80000 52.8%,#e90000 100%)"></i>
<i style="left:573.2px;background:linear-gradient(0deg,#d70000 0%,#ce0000 13.1%,#cf0000 21.6%,#d80000 28%,#f50000 39.4%,#fb0000 46.5%,#e90000 100%)"></i>
<i style="left:574.2px;background:linear-gradient(0deg,#ff3400 0%,#ff1100 22.3%,#ff0000 49.3%,#f30000 63.5%,#e90000 100%)"></i>
<i style="left:575.2px;background:linear-gradient(0deg,#ff5b00 0%,#ff2500 25.2%,#ff0000 51.4%,#f30000 64.2%,#e90000 100%)"></i>
<i style="left:576.2px;background:linear-gradient(0deg,#ff6c00 0%,#ff2900 27.3%,#ff1300 39.4%,#ff0000 52.8%,#f10000 70.6%,#e80000 100%)"></i>
<i style="left:577.2px;background:linear-gradient(0deg,#ff7a00 0%,#ff5000 14.5%,#ff2d00 28.7%,#ff1700 39.4%,#ff0000 55%,#ef0000 74.1%,#e70000 100%)"></i>
<i style="left:578.2px;background:linear-gradient(0deg,#ff8500 0%,#ff5700 15.2%,#ff3000 30.1%,#ff1b00 39.4%,#ff0100 55.7%,#ee0000 74.8%,#e70000 100%)"></i>
<i style="left:579.2px;background:linear-gradient(0deg,#ff8a00 0%,#ff5a00 16%,#ff3200 30.9%,#ff1a00 41.5%,#ff0100 56.4%,#ed0000 74.8%,#e60000 100%)"></i>
<i style="left:580.2px;background:linear-gradient(0deg,#ff8b00 0%,#ff3500 30.1%,#ff0000 56.4%,#ee0000 73.4%,#e50000 100%)"></i>
<i style="left:581.2px;background:linear-gradient(0deg,#ff8b00 0%,#ff3b00 28%,#ff1900 42.2%,#ff0100 55%,#ee0000 71.3%,#e50000 100%)"></i>
<i style="left:582.2px;background:linear-gradient(0deg,#ff8900 0%,#ff5900 16%,#ff2300 35.8%,#ff0000 52.1%,#ed0000 67.7%,#e20000 100%)"></i>
<i style="left:583.2px;background:linear-gradient(0deg,#ff8700 0%,#ff2000 34.4%,#ff0000 48.6%,#ea0000 63.5%,#dd0000 100%)"></i>
<i style="left:584.2px;background:linear-gradient(0deg,#ff8500 0%,#ff2200 30.9%,#ff0000 45%,#e70000 62.8%,#d90000 100%)"></i>
<i style="left:585.2px;background:linear-gradient(0deg,#ff8300 0%,#ff2800 25.9%,#ff0000 41.5%,#ee0000 51.4%,#e30000 62.1%,#d40000 100%)"></i>
<i style="left:586.2px;background:linear-gradient(0deg,#ff7d00 0%,#ff2b00 21.6%,#ff0100 37.9%,#ee0000 48.6%,#e10000 62.1%,#d20000 100%)"></i>
<i style="left:587.2px;background:linear-gradient(0deg,#ff6f00 0%,#ff2700 18.8%,#ff1000 27.3%,#ff0000 35.1%,#df0000 62.1%,#d10000 100%)"></i>
<i style="left:588.2px;background:linear-gradient(0deg,#ff5c00 0%,#ff2200 16%,#ff0e00 23.8%,#ff0000 31.6%,#dd0000 61.3%,#d00000 100%)"></i>
<i style="left:589.2px;background:linear-gradient(0deg,#ff4500 0%,#ff1900 13.8%,#ff0000 28%,#db0000 60.6%,#cf0000 100%)"></i>
<i style="left:590.2px;background:linear-gradient(0deg,#ff3000 0%,#ff1200 11.7%,#ff0000 24.5%,#da0000 59.9%,#ce0000 100%)"></i>
<i style="left:591.2px;background:linear-gradient(0deg,#ff1e00 0%,#ff0f00 8.2%,#ff0000 20.2%,#da0000 59.2%,#ce0000 100%)"></i>
<i style="left:592.2px;background:linear-gradient(0deg,#ff1100 0%,#fe0000 16%,#d90000 57.8%,#cd0000 100%)"></i>
<i style="left:593.2px;background:linear-gradient(0deg,#ff0800 0%,#fe0000 9.6%,#d80000 58.5%,#cd0000 100%)"></i>
<i style="left:594.2px;background:linear-gradient(0deg,#ff0000 0%,#d90000 53.5%,#cc0000 100%)"></i>
<i style="left:595.2px;background:linear-gradient(0deg,#f70000 0%,#d70000 53.5%,#cc0000 100%)"></i>
<i style="left:596.2px;background:linear-gradient(0deg,#f00000 0%,#d60000 54.3%,#cb0000 100%)"></i>
<i style="left:597.2px;background:linear-gradient(0deg,#ea0000 0%,#d40000 55%,#ca0000 100%)"></i>
<i style="left:598.2px;background:linear-gradient(0deg,#e10000 0%,#d00000 56.4%,#c70000 100%)"></i>
<i style="left:599.2px;background:linear-gradient(0deg,#d90000 0%,#c30000 100%)"></i>
<i style="left:600.2px;background:linear-gradient(0deg,#d30000 0%,#be0000 100%)"></i>
<i style="left:601.2px;background:linear-gradient(0deg,#cc0000 0%,#ba0000 100%)"></i>
<i style="left:602.2px;background:linear-gradient(0deg,#ba0000 0%,#ac0000 100%)"></i>
<i style="left:603.2px;background:linear-gradient(0deg,#a40000 0%,#9b0000 100%)"></i>
<i style="left:604.2px;background:linear-gradient(0deg,#8d0000 0%,#890000 100%)"></i>
<i style="left:605.2px;background:linear-gradient(0deg,#750000 0%,#750000 100%)"></i>
<i style="left:606.2px;background:linear-gradient(0deg,#550000 0%,#550000 100%)"></i>
<i style="left:607.2px;background:linear-gradient(0deg,#350000 0%,#350000 100%)"></i>
<i style="left:608.2px;background:linear-gradient(0deg,#170000 0%,#170000 100%)"></i>
<i style="left:609.2px;background:linear-gradient(0deg,#040000 0%,#040000 100%)"></i>
<i style="left:610.2px;background:linear-gradient(0deg,#040000 0%,#040000 100%)"></i>
<i style="left:611.2px;background:linear-gradient(0deg,#040000 0%,#040000 100%)"></i>
<i style="left:612.2px;background:linear-gradient(0deg,#040000 0%,#040000 100%)"></i>
<i style="left:613.2px;background:linear-gradient(0deg,#040000 0%,#040000 100%)"></i>
<i style="left:614.2px;background:linear-gradient(0deg,#040000 0%,#040000 100%)"></i>
<i style="left:615.2px;background:linear-gradient(0deg,#040000 0%,#040000 100%)"></i>
<i style="left:616.2px;background:linear-gradient(0deg,#0a0000 0%,#0a0000 100%)"></i>
<i style="left:617.2px;background:linear-gradient(0deg,#240000 0%,#240000 100%)"></i>
<i style="left:618.2px;background:linear-gradient(0deg,#3a0000 0%,#360000 100%)"></i>
<i style="left:619.2px;background:linear-gradient(0deg,#4f0000 0%,#450000 100%)"></i>
<i style="left:620.2px;background:linear-gradient(0deg,#630000 0%,#540000 100%)"></i>
<i style="left:621.2px;background:linear-gradient(0deg,#790000 0%,#610000 100%)"></i>
<i style="left:622.2px;background:linear-gradient(0deg,#8f0000 0%,#790000 58.5%,#6e0000 100%)"></i>
<i style="left:623.2px;background:linear-gradient(0deg,#a50000 0%,#890000 58.5%,#7c0000 100%)"></i>
<i style="left:624.2px;background:linear-gradient(0deg,#bb0000 0%,#980000 58.5%,#890000 100%)"></i>
<i style="left:625.2px;background:linear-gradient(0deg,#c70000 0%,#a20000 58.5%,#910000 100%)"></i>
<i style="left:626.2px;background:linear-gradient(0deg,#ce0000 0%,#a80000 58.5%,#960000 100%)"></i>
<i style="left:627.2px;background:linear-gradient(0deg,#d60000 0%,#ae0000 58.5%,#9c0000 100%)"></i>
<i style="left:628.2px;background:linear-gradient(0deg,#de0000 0%,#b40000 58.5%,#a10000 100%)"></i>
<i style="left:629.2px;background:linear-gradient(0deg,#dc0000 0%,#b30000 58.5%,#a00000 100%)"></i>
<i style="left:630.2px;background:linear-gradient(0deg,#d50000 0%,#ae0000 58.5%,#9b0000 100%)"></i>
<i style="left:631.2px;background:linear-gradient(0deg,#cf0000 0%,#a90000 58.5%,#970000 100%)"></i>
<i style="left:632.2px;background:linear-gradient(0deg,#c90000 0%,#a40000 58.5%,#920000 100%)"></i>
<i style="left:633.2px;background:linear-gradient(0deg,#c30000 0%,#9f0000 58.5%,#8e0000 100%)"></i>
<i style="left:634.2px;background:linear-gradient(0deg,#ab0000 0%,#8e0000 58.5%,#800000 100%)"></i>
<i style="left:635.2px;background:linear-gradient(0deg,#8b0000 0%,#6f0000 100%)"></i>
<i style="left:636.2px;background:linear-gradient(0deg,#6a0000 0%,#5d0000 100%)"></i>
<i style="left:637.2px;background:linear-gradient(0deg,#520000 0%,#4c0000 100%)"></i>
<i style="left:638.2px;background:linear-gradient(0deg,#3d0000 0%,#3a0000 100%)"></i>
<i style="left:639.2px;background:linear-gradient(0deg,#270000 0%,#270000 100%)"></i>
<i style="left:640.2px;background:linear-gradient(0deg,#0c0000 0%,#0c0000 100%)"></i>
<i style="left:641.2px;background:linear-gradient(0deg,#040000 0%,#040000 100%)"></i>
<i style="left:642.2px;background:linear-gradient(0deg,#040000 0%,#040000 100%)"></i>
<i style="left:643.2px;background:linear-gradient(0deg,#040000 0%,#040000 100%)"></i>
<i style="left:644.2px;background:linear-gradient(0deg,#040000 0%,#040000 100%)"></i>
<i style="left:645.2px;background:linear-gradient(0deg,#040000 0%,#040000 100%)"></i>
<i style="left:646.2px;background:linear-gradient(0deg,#1e0000 0%,#1e0000 100%)"></i>
<i style="left:647.2px;background:linear-gradient(0deg,#390000 0%,#390000 100%)"></i>
<i style="left:648.2px;background:linear-gradient(0deg,#520000 0%,#520000 100%)"></i>
<i style="left:649.2px;background:linear-gradient(0deg,#6b0000 0%,#6b0000 100%)"></i>
<i style="left:650.2px;background:linear-gradient(0deg,#860000 0%,#830000 100%)"></i>
<i style="left:651.2px;background:linear-gradient(0deg,#a30000 0%,#9b0000 100%)"></i>
<i style="left:652.2px;background:linear-gradient(0deg,#bf0000 0%,#b40000 100%)"></i>
<i style="left:653.2px;background:linear-gradient(0deg,#dc0000 0%,#cc0000 100%)"></i>
<i style="left:654.2px;background:linear-gradient(0deg,#e80000 0%,#d60000 100%)"></i>
<i style="left:655.2px;background:linear-gradient(0deg,#ed0000 0%,#d90000 100%)"></i>
<i style="left:656.2px;background:linear-gradient(0deg,#f40000 0%,#ea0000 24.5%,#dd0000 100%)"></i>
<i style="left:657.2px;background:linear-gradient(0deg,#fe0000 0%,#ee0000 25.9%,#e10000 100%)"></i>
<i style="left:658.2px;background:linear-gradient(0deg,#ff0900 0%,#ff0000 8.9%,#f10000 34.4%,#e40000 100%)"></i>
<i style="left:659.2px;background:linear-gradient(0deg,#ff1300 0%,#ff0000 18.1%,#f20000 42.9%,#e80000 100%)"></i>
<i style="left:660.2px;background:linear-gradient(0deg,#ff1b00 0%,#ff0000 24.5%,#f30000 47.9%,#e90000 100%)"></i>
<i style="left:661.2px;background:linear-gradient(0deg,#ff2000 0%,#ff0000 28%,#f20000 51.4%,#e90000 100%)"></i>
<i style="left:662.2px;background:linear-gradient(0deg,#ff2300 0%,#ff0000 30.9%,#f20000 53.5%,#e90000 100%)"></i>
<i style="left:663.2px;background:linear-gradient(0deg,#ff2400 0%,#ff0000 33.7%,#f20000 55%,#e90000 100%)"></i>
<i style="left:664.2px;background:linear-gradient(0deg,#ff2500 0%,#ff0000 35.8%,#f20000 55.7%,#e90000 100%)"></i>
<i style="left:665.2px;background:linear-gradient(0deg,#ff2600 0%,#ff0000 36.5%,#f30000 56.4%,#e90000 100%)"></i>
<i style="left:666.2px;background:linear-gradient(0deg,#ff2700 0%,#ff0000 37.9%,#f30000 56.4%,#e90000 100%)"></i>
</div>
<svg width="685" height="539" viewBox="0 0 685 539">
<line x1="22.2" y1="23.3" x2="303.5" y2="23.3" stroke="#1a1a2a" stroke-width="0.8" />
<line x1="22.2" y1="163.2" x2="303.5" y2="163.2" stroke="#222" stroke-width="0.9" />
<line x1="22.2" y1="23.3" x2="22.2" y2="163.2" stroke="#223" stroke-width="0.6" />
<line x1="303.5" y1="23.3" x2="303.5" y2="163.2" stroke="#445" stroke-width="0.6" />
<line x1="57.3" y1="23.3" x2="57.3" y2="26.5" stroke="#111" stroke-width="0.7" />
<line x1="94.6" y1="23.3" x2="94.6" y2="26.5" stroke="#111" stroke-width="0.7" />
<line x1="132.0" y1="23.3" x2="132.0" y2="26.5" stroke="#111" stroke-width="0.7" />
<line x1="169.3" y1="23.3" x2="169.3" y2="26.5" stroke="#111" stroke-width="0.7" />
<line x1="188.0" y1="23.3" x2="188.0" y2="26.5" stroke="#111" stroke-width="0.7" />
<line x1="206.6" y1="23.3" x2="206.6" y2="26.5" stroke="#111" stroke-width="0.7" />
<line x1="225.3" y1="23.3" x2="225.3" y2="26.5" stroke="#111" stroke-width="0.7" />
<line x1="244.0" y1="23.3" x2="244.0" y2="26.5" stroke="#111" stroke-width="0.7" />
<line x1="262.6" y1="23.3" x2="262.6" y2="26.5" stroke="#111" stroke-width="0.7" />
<line x1="281.3" y1="23.3" x2="281.3" y2="26.5" stroke="#111" stroke-width="0.7" />
<text transform="translate(56.8,12.9) scale(1.05,1)" font-size="10.9" text-anchor="middle" fill="#222" >−4</text>
<text transform="translate(94.7,7.6) scale(0.92,1)" font-size="9.8" text-anchor="middle" fill="#222" >8</text>
<text transform="translate(94.7,18.3) scale(0.92,1)" font-size="9.8" text-anchor="middle" fill="#222" >3</text>
<line x1="90.9" y1="9.6" x2="98.5" y2="9.6" stroke="#222" stroke-width="0.6" />
<line x1="84.6" y1="9.6" x2="89.1" y2="9.6" stroke="#222" stroke-width="0.75" />
<text transform="translate(113.0,12.9) scale(1.05,1)" font-size="10.9" text-anchor="middle" fill="#222" >−2</text>
<text transform="translate(131.7,7.6) scale(0.92,1)" font-size="9.8" text-anchor="middle" fill="#222" >4</text>
<text transform="translate(131.7,18.3) scale(0.92,1)" font-size="9.8" text-anchor="middle" fill="#222" >3</text>
<line x1="127.8" y1="9.6" x2="135.5" y2="9.6" stroke="#222" stroke-width="0.6" />
<line x1="121.5" y1="9.6" x2="126.0" y2="9.6" stroke="#222" stroke-width="0.75" />
<text transform="translate(169.5,18.4) scale(1.05,1)" font-size="10.9" text-anchor="middle" fill="#222" >0</text>
<text transform="translate(187.7,7.6) scale(0.92,1)" font-size="9.8" text-anchor="middle" fill="#222" >2</text>
<text transform="translate(187.7,18.3) scale(0.92,1)" font-size="9.8" text-anchor="middle" fill="#222" >3</text>
<line x1="183.8" y1="9.6" x2="191.5" y2="9.6" stroke="#222" stroke-width="0.6" />
<text transform="translate(206.5,7.6) scale(0.92,1)" font-size="9.8" text-anchor="middle" fill="#222" >4</text>
<text transform="translate(206.5,18.3) scale(0.92,1)" font-size="9.8" text-anchor="middle" fill="#222" >3</text>
<line x1="202.7" y1="9.6" x2="210.3" y2="9.6" stroke="#222" stroke-width="0.6" />
<text transform="translate(225.1,12.9) scale(1.05,1)" font-size="10.9" text-anchor="middle" fill="#222" >2</text>
<text transform="translate(243.7,7.6) scale(0.92,1)" font-size="9.8" text-anchor="middle" fill="#222" >8</text>
<text transform="translate(243.7,18.3) scale(0.92,1)" font-size="9.8" text-anchor="middle" fill="#222" >3</text>
<line x1="239.8" y1="9.6" x2="247.5" y2="9.6" stroke="#222" stroke-width="0.6" />
<text transform="translate(262.8,7.6) scale(0.782,1)" font-size="9.8" text-anchor="middle" fill="#222" >10</text>
<text transform="translate(262.8,18.3) scale(0.92,1)" font-size="9.8" text-anchor="middle" fill="#222" >3</text>
<line x1="256.5" y1="9.6" x2="269.1" y2="9.6" stroke="#222" stroke-width="0.6" />
<text transform="translate(281.4,12.9) scale(1.05,1)" font-size="10.9" text-anchor="middle" fill="#222" >4</text>
<text transform="translate(17.3,27.1) scale(0.8925,1)" font-size="10.9" text-anchor="end" fill="#222" >18</text>
<text transform="translate(17.2,166.7) scale(1.05,1)" font-size="10.9" text-anchor="end" fill="#222" >0</text>
<text transform="translate(10.6,93) rotate(-90)" font-size="12" text-anchor="middle" fill="#222"><tspan font-style="italic">B</tspan><tspan font-size="7.5" dy="2.2">⊥</tspan><tspan dy="-2.2"> (T)</tspan></text>
<text x="28.6" y="45.2" font-size="19" text-anchor="start" fill="#fff" font-weight="bold" >a</text>
<defs><linearGradient id="cba" x1="0" y1="1" x2="0" y2="0"><stop offset="0" stop-color="#2f3fa6"/><stop offset="0.04" stop-color="#2255c8"/><stop offset="0.09" stop-color="#0a90f0"/><stop offset="0.125" stop-color="#08a8c8"/><stop offset="0.165" stop-color="#00cc66"/><stop offset="0.39" stop-color="#ffff99"/><stop offset="0.63" stop-color="#805c54"/><stop offset="1" stop-color="#ffffff"/></linearGradient><linearGradient id="cbe" x1="0" y1="0" x2="1" y2="0"><stop offset="0" stop-color="#000"/><stop offset="0.48" stop-color="#ff0000"/><stop offset="1" stop-color="#ffff00"/></linearGradient></defs>
<rect x="307.7" y="31.4" width="8.3" height="38.8" fill="url(#cba)" stroke="#333" stroke-width="0.6"/>
<line x1="316.0" y1="31.7" x2="318.2" y2="31.7" stroke="#222" stroke-width="0.7" />
<text transform="translate(323.6,35.6) scale(1.13,1)" font-size="10.8" text-anchor="start" fill="#222" >60</text>
<line x1="316.0" y1="44.3" x2="318.2" y2="44.3" stroke="#222" stroke-width="0.7" />
<text transform="translate(323.6,48.2) scale(1.13,1)" font-size="10.8" text-anchor="start" fill="#222" >40</text>
<line x1="316.0" y1="57.0" x2="318.2" y2="57.0" stroke="#222" stroke-width="0.7" />
<text transform="translate(323.6,60.9) scale(1.13,1)" font-size="10.8" text-anchor="start" fill="#222" >20</text>
<line x1="316.0" y1="69.5" x2="318.2" y2="69.5" stroke="#222" stroke-width="0.7" />
<text transform="translate(323.6,73.4) scale(1.13,1)" font-size="10.8" text-anchor="start" fill="#222" >0</text>
<text x="308.6" y="18.3" font-size="11.6" fill="#222"><tspan font-style="italic">G</tspan> (µS)</text>
<line x1="21.5" y1="58.6" x2="23.0" y2="58.6" stroke="#e33" stroke-width="0.8" />
<line x1="302.8" y1="58.6" x2="304.3" y2="58.6" stroke="#e33" stroke-width="0.8" />
<line x1="59.5" y1="163.7" x2="59.5" y2="301.3" stroke="#c8c8c8" stroke-width="0.8" />
<line x1="93.9" y1="163.7" x2="93.9" y2="301.3" stroke="#c8c8c8" stroke-width="0.8" />
<line x1="112.3" y1="163.7" x2="112.3" y2="197.3" stroke="#aaa" stroke-width="0.8" />
<line x1="130.4" y1="163.7" x2="130.4" y2="240.6" stroke="#b4b4b4" stroke-width="0.8" />
<line x1="167.4" y1="163.7" x2="167.4" y2="301.3" stroke="#bbb" stroke-width="0.8" />
<line x1="207.0" y1="163.7" x2="207.0" y2="235.3" stroke="#b4b4b4" stroke-width="0.8" />
<line x1="225.3" y1="163.7" x2="225.3" y2="235.3" stroke="#b4b4b4" stroke-width="0.8" />
<line x1="243.9" y1="163.7" x2="243.9" y2="301.3" stroke="#c8c8c8" stroke-width="0.8" />
<line x1="263.5" y1="163.7" x2="263.5" y2="188.2" stroke="#aaa" stroke-width="0.8" />
<line x1="278.8" y1="163.7" x2="278.8" y2="301.3" stroke="#c8c8c8" stroke-width="0.8" />
<line x1="59.5" y1="164.0" x2="59.5" y2="172.0" stroke="#555" stroke-width="0.9" />
<line x1="187.8" y1="164.3" x2="187.8" y2="196.4" stroke="#d04545" stroke-width="0.9" />
<line x1="58.4" y1="164.8" x2="36.1" y2="256.8" stroke="#d62b2b" stroke-width="0.75" stroke-dasharray="1.9 1.3"/>
<line x1="129.7" y1="164.8" x2="111.8" y2="211.5" stroke="#d62b2b" stroke-width="0.75" stroke-dasharray="1.9 1.3"/>
<line x1="129.7" y1="164.8" x2="105.5" y2="278.3" stroke="#d62b2b" stroke-width="0.75" stroke-dasharray="1.9 1.3"/>
<line x1="168.5" y1="165.0" x2="144.5" y2="186.7" stroke="#d62b2b" stroke-width="0.75" stroke-dasharray="1.9 1.3"/>
<line x1="168.5" y1="165.0" x2="143.8" y2="199.3" stroke="#d62b2b" stroke-width="0.75" stroke-dasharray="1.9 1.3"/>
<line x1="168.5" y1="165.0" x2="121.6" y2="298.4" stroke="#d62b2b" stroke-width="0.75" stroke-dasharray="1.9 1.3"/>
<line x1="168.5" y1="165.0" x2="146.6" y2="292.5" stroke="#d62b2b" stroke-width="0.75" stroke-dasharray="1.9 1.3"/>
<line x1="168.5" y1="165.0" x2="157.9" y2="291.7" stroke="#d62b2b" stroke-width="0.75" stroke-dasharray="1.9 1.3"/>
<line x1="168.5" y1="165.0" x2="192.3" y2="294.4" stroke="#d62b2b" stroke-width="0.75" stroke-dasharray="1.9 1.3"/>
<line x1="168.5" y1="165.0" x2="217.8" y2="293.0" stroke="#d62b2b" stroke-width="0.75" stroke-dasharray="1.9 1.3"/>
<line x1="188.5" y1="164.8" x2="204.4" y2="244.7" stroke="#d62b2b" stroke-width="0.75" stroke-dasharray="1.9 1.3"/>
<line x1="280.2" y1="164.8" x2="295.8" y2="193.6" stroke="#d62b2b" stroke-width="0.75" stroke-dasharray="1.9 1.3"/>
<line x1="280.2" y1="164.8" x2="299.2" y2="264.3" stroke="#d62b2b" stroke-width="0.75" stroke-dasharray="1.9 1.3"/>
<text transform="translate(38.0,266.2) scale(1.05,1)" font-size="8.3" text-anchor="middle" fill="#d62b2b" >−2</text>
<text transform="translate(108.9,220.5) scale(1.05,1)" font-size="8.3" text-anchor="middle" fill="#d62b2b" >−4</text>
<text transform="translate(107.0,286.4) scale(1.05,1)" font-size="8.3" text-anchor="middle" fill="#d62b2b" >−2</text>
<text transform="translate(148.4,183.8) scale(0.8925,1)" font-size="8.3" text-anchor="middle" fill="#d62b2b" >−12</text>
<text transform="translate(146.2,206.4) scale(1.05,1)" font-size="8.3" text-anchor="middle" fill="#d62b2b" >−8</text>
<text transform="translate(128.9,299.3) scale(1.05,1)" font-size="8.3" text-anchor="middle" fill="#d62b2b" >−4</text>
<text transform="translate(145.3,299.3) scale(1.05,1)" font-size="8.3" text-anchor="middle" fill="#d62b2b" >−2</text>
<text transform="translate(160.2,299.3) scale(0.8925,1)" font-size="8.3" text-anchor="middle" fill="#d62b2b" >−1</text>
<text transform="translate(192.8,299.3) scale(1.05,1)" font-size="8.3" text-anchor="middle" fill="#d62b2b" >2</text>
<text transform="translate(220.5,299.3) scale(1.05,1)" font-size="8.3" text-anchor="middle" fill="#d62b2b" >4</text>
<text transform="translate(207.8,244.2) scale(1.05,1)" font-size="8.3" text-anchor="middle" fill="#d62b2b" >2</text>
<text transform="translate(297.6,199.8) scale(1.05,1)" font-size="8.3" text-anchor="middle" fill="#d62b2b" >4</text>
<text transform="translate(293.6,253.6) scale(1.05,1)" font-size="8.3" text-anchor="middle" fill="#d62b2b" >2</text>
<rect x="22.4" y="163.2" width="281.1" height="138.1" fill="none" stroke="#555" stroke-width="0.8"/>
<line x1="22.2" y1="163.2" x2="303.5" y2="163.2" stroke="#222" stroke-width="0.9" />
<text x="29.2" y="184.8" font-size="19" text-anchor="start" fill="#000" font-weight="bold" >b</text>
<text transform="translate(59.4,319.2) scale(1.05,1)" font-size="10.9" text-anchor="middle" fill="#222" >−4</text>
<text transform="translate(94.9,314.0) scale(0.92,1)" font-size="9.8" text-anchor="middle" fill="#222" >8</text>
<text transform="translate(94.9,324.7) scale(0.92,1)" font-size="9.8" text-anchor="middle" fill="#222" >3</text>
<line x1="91.1" y1="316.0" x2="98.8" y2="316.0" stroke="#222" stroke-width="0.6" />
<line x1="84.8" y1="316.0" x2="89.3" y2="316.0" stroke="#222" stroke-width="0.75" />
<text transform="translate(131.2,314.0) scale(0.92,1)" font-size="9.8" text-anchor="middle" fill="#222" >4</text>
<text transform="translate(131.2,324.7) scale(0.92,1)" font-size="9.8" text-anchor="middle" fill="#222" >3</text>
<line x1="127.3" y1="316.0" x2="135.0" y2="316.0" stroke="#222" stroke-width="0.6" />
<line x1="121.0" y1="316.0" x2="125.5" y2="316.0" stroke="#222" stroke-width="0.75" />
<text transform="translate(167.7,319.2) scale(1.05,1)" font-size="10.9" text-anchor="middle" fill="#222" >0</text>
<text transform="translate(187.8,314.0) scale(0.92,1)" font-size="9.8" text-anchor="middle" fill="#222" >2</text>
<text transform="translate(187.8,324.7) scale(0.92,1)" font-size="9.8" text-anchor="middle" fill="#222" >3</text>
<line x1="184.0" y1="316.0" x2="191.7" y2="316.0" stroke="#222" stroke-width="0.6" />
<text transform="translate(206.5,314.0) scale(0.92,1)" font-size="9.8" text-anchor="middle" fill="#222" >4</text>
<text transform="translate(206.5,324.7) scale(0.92,1)" font-size="9.8" text-anchor="middle" fill="#222" >3</text>
<line x1="202.7" y1="316.0" x2="210.3" y2="316.0" stroke="#222" stroke-width="0.6" />
<text transform="translate(225.1,319.2) scale(1.05,1)" font-size="10.9" text-anchor="middle" fill="#222" >2</text>
<text transform="translate(243.7,314.0) scale(0.92,1)" font-size="9.8" text-anchor="middle" fill="#222" >8</text>
<text transform="translate(243.7,324.7) scale(0.92,1)" font-size="9.8" text-anchor="middle" fill="#222" >3</text>
<line x1="239.8" y1="316.0" x2="247.5" y2="316.0" stroke="#222" stroke-width="0.6" />
<text transform="translate(262.7,314.0) scale(0.782,1)" font-size="9.8" text-anchor="middle" fill="#222" >10</text>
<text transform="translate(262.7,324.7) scale(0.92,1)" font-size="9.8" text-anchor="middle" fill="#222" >3</text>
<line x1="256.4" y1="316.0" x2="269.0" y2="316.0" stroke="#222" stroke-width="0.6" />
<text transform="translate(278.7,319.2) scale(1.05,1)" font-size="10.9" text-anchor="middle" fill="#222" >4</text>
<text x="162.8" y="338.9" font-size="9.4" text-anchor="middle" fill="#222" font-style="italic" >n</text>
<line x1="160.1" y1="332.2" x2="165.6" y2="332.2" stroke="#222" stroke-width="0.7" />
<line x1="387.3" y1="23.4" x2="667.6" y2="23.4" stroke="#200" stroke-width="0.8" />
<line x1="387.3" y1="164.2" x2="667.6" y2="164.2" stroke="#333" stroke-width="0.9" />
<line x1="387.3" y1="23.4" x2="387.3" y2="164.2" stroke="#400" stroke-width="0.5" />
<line x1="667.6" y1="23.4" x2="667.6" y2="164.2" stroke="#633" stroke-width="0.6" />
<line x1="496.2" y1="23.4" x2="496.2" y2="26.6" stroke="#200" stroke-width="0.7" />
<line x1="534.0" y1="23.4" x2="534.0" y2="26.6" stroke="#200" stroke-width="0.7" />
<line x1="552.6" y1="23.4" x2="552.6" y2="26.6" stroke="#200" stroke-width="0.7" />
<line x1="571.4" y1="23.4" x2="571.4" y2="26.6" stroke="#200" stroke-width="0.7" />
<line x1="590.0" y1="23.4" x2="590.0" y2="26.6" stroke="#200" stroke-width="0.7" />
<line x1="627.5" y1="23.4" x2="627.5" y2="26.6" stroke="#200" stroke-width="0.7" />
<text transform="translate(421.6,12.9) scale(1.05,1)" font-size="10.9" text-anchor="middle" fill="#222" >−4</text>
<text transform="translate(459.7,7.6) scale(0.92,1)" font-size="9.8" text-anchor="middle" fill="#222" >8</text>
<text transform="translate(459.7,18.3) scale(0.92,1)" font-size="9.8" text-anchor="middle" fill="#222" >3</text>
<line x1="455.8" y1="9.6" x2="463.6" y2="9.6" stroke="#222" stroke-width="0.6" />
<line x1="449.5" y1="9.6" x2="454.0" y2="9.6" stroke="#222" stroke-width="0.75" />
<text transform="translate(496.0,7.6) scale(0.92,1)" font-size="9.8" text-anchor="middle" fill="#222" >4</text>
<text transform="translate(496.0,18.3) scale(0.92,1)" font-size="9.8" text-anchor="middle" fill="#222" >3</text>
<line x1="492.1" y1="9.6" x2="499.9" y2="9.6" stroke="#222" stroke-width="0.6" />
<line x1="485.8" y1="9.6" x2="490.3" y2="9.6" stroke="#222" stroke-width="0.75" />
<text transform="translate(515.9,7.6) scale(0.92,1)" font-size="9.8" text-anchor="middle" fill="#222" >2</text>
<text transform="translate(515.9,18.3) scale(0.92,1)" font-size="9.8" text-anchor="middle" fill="#222" >3</text>
<line x1="512.0" y1="9.6" x2="519.8" y2="9.6" stroke="#222" stroke-width="0.6" />
<line x1="505.7" y1="9.6" x2="510.2" y2="9.6" stroke="#222" stroke-width="0.75" />
<text transform="translate(533.8,12.9) scale(1.05,1)" font-size="10.9" text-anchor="middle" fill="#222" >0</text>
<text transform="translate(552.4,7.6) scale(0.92,1)" font-size="9.8" text-anchor="middle" fill="#222" >2</text>
<text transform="translate(552.4,18.3) scale(0.92,1)" font-size="9.8" text-anchor="middle" fill="#222" >3</text>
<line x1="548.5" y1="9.6" x2="556.2" y2="9.6" stroke="#222" stroke-width="0.6" />
<text transform="translate(570.8,7.6) scale(0.92,1)" font-size="9.8" text-anchor="middle" fill="#222" >4</text>
<text transform="translate(570.8,18.3) scale(0.92,1)" font-size="9.8" text-anchor="middle" fill="#222" >3</text>
<line x1="566.9" y1="9.6" x2="574.6" y2="9.6" stroke="#222" stroke-width="0.6" />
<text transform="translate(589.6,12.9) scale(1.05,1)" font-size="10.9" text-anchor="middle" fill="#222" >2</text>
<text transform="translate(608.2,7.6) scale(0.92,1)" font-size="9.8" text-anchor="middle" fill="#222" >8</text>
<text transform="translate(608.2,18.3) scale(0.92,1)" font-size="9.8" text-anchor="middle" fill="#222" >3</text>
<line x1="604.4" y1="9.6" x2="612.1" y2="9.6" stroke="#222" stroke-width="0.6" />
<text transform="translate(628.0,7.6) scale(0.782,1)" font-size="9.8" text-anchor="middle" fill="#222" >10</text>
<text transform="translate(628.0,18.3) scale(0.92,1)" font-size="9.8" text-anchor="middle" fill="#222" >3</text>
<line x1="621.7" y1="9.6" x2="634.3" y2="9.6" stroke="#222" stroke-width="0.6" />
<text transform="translate(645.9,12.9) scale(1.05,1)" font-size="10.9" text-anchor="middle" fill="#222" >4</text>
<text transform="translate(381.8,28.5) scale(0.8925,1)" font-size="10.9" text-anchor="end" fill="#222" >18</text>
<text transform="translate(381.8,168.3) scale(1.05,1)" font-size="10.9" text-anchor="end" fill="#222" >0</text>
<text transform="translate(375.6,93) rotate(-90)" font-size="11.6" text-anchor="middle" fill="#222"><tspan font-style="italic">B</tspan><tspan font-size="7.5" dy="2.2">||</tspan><tspan dy="-2.2"> (T)</tspan></text>
<text x="396.6" y="45.8" font-size="19" text-anchor="start" fill="#fff" font-weight="bold" >e</text>
<line x1="387.3" y1="164.2" x2="387.3" y2="304.4" stroke="#555" stroke-width="0.8" />
<line x1="667.6" y1="164.2" x2="667.6" y2="304.4" stroke="#555" stroke-width="0.8" />
<line x1="387.3" y1="304.4" x2="667.6" y2="304.4" stroke="#555" stroke-width="0.8" />
<line x1="387.3" y1="184.3" x2="391.3" y2="184.3" stroke="#333" stroke-width="0.7" />
<line x1="534.5" y1="304.4" x2="534.5" y2="301.4" stroke="#333" stroke-width="0.7" />
<line x1="597.3" y1="304.4" x2="597.3" y2="301.4" stroke="#333" stroke-width="0.7" />
<line x1="661.9" y1="304.4" x2="661.9" y2="301.4" stroke="#333" stroke-width="0.7" />
<path d="M386.5 228.5 L387.1 228.3 L387.7 228.1 L388.3 227.9 L388.9 227.4 L389.5 226.9 L390.1 226.4 L390.7 225.8 L391.3 225.2 L391.9 224.8 L392.5 224.4 L393.1 224.3 L393.7 224.4 L394.3 224.8 L394.9 225.1 L395.5 225.3 L396.1 225.2 L396.7 224.9 L397.3 224.6 L397.9 224.4 L398.5 224.3 L399.1 224.5 L399.7 225.1 L400.3 225.9 L400.9 226.8 L401.5 227.9 L402.1 229.0 L402.7 230.1 L403.3 231.3 L403.9 232.5 L404.5 234.0 L405.1 235.5 L405.7 237.2 L406.3 238.9 L406.9 240.8 L407.5 242.7 L408.1 245.0 L408.7 247.6 L409.3 250.2 L409.9 252.4 L410.5 253.9 L411.1 255.2 L411.7 256.3 L412.3 257.3 L412.9 258.2 L413.5 259.0 L414.1 259.7 L414.7 260.3 L415.3 260.9 L415.9 261.4 L416.5 262.0 L417.1 262.8 L417.7 263.8 L418.3 265.2 L418.9 267.2 L419.5 269.6 L420.1 272.4 L420.7 275.4 L421.3 278.6 L421.9 282.0 L422.5 286.7 L423.1 292.3 L423.7 297.8 L424.3 301.8 L424.9 303.6 L425.5 304.4 L426.1 303.7 L426.7 301.5 L427.3 293.7 L427.9 285.1 L428.5 281.0 L429.1 277.4 L429.7 274.3 L430.3 271.6 L430.9 269.3 L431.5 267.2 L432.1 265.3 L432.7 263.5 L433.3 261.8 L433.9 260.1 L434.5 258.4 L435.1 256.7 L435.7 255.2 L436.3 253.8 L436.9 252.7 L437.5 251.9 L438.1 251.5 L438.7 251.5 L439.3 251.9 L439.9 252.4 L440.5 252.6 L441.1 252.6 L441.7 252.5 L442.3 252.4 L442.9 252.4 L443.5 252.8 L444.1 253.9 L444.7 255.5 L445.3 257.6 L445.9 259.8 L446.5 262.2 L447.1 264.4 L447.7 266.5 L448.3 268.8 L448.9 271.2 L449.5 273.8 L450.1 276.5 L450.7 279.2 L451.3 282.0 L451.9 284.8 L452.5 288.1 L453.1 291.8 L453.7 295.5 L454.3 299.0 L454.9 301.7 L455.5 303.4 L456.1 304.2 L456.7 304.3 L457.3 302.8 L457.9 298.9 L458.5 291.7 L459.1 285.1 L459.7 280.9 L460.3 277.2 L460.9 273.9 L461.5 270.9 L462.1 268.1 L462.7 265.6 L463.3 263.2 L463.9 261.0 L464.5 259.0 L465.1 257.3 L465.7 255.6 L466.3 254.1 L466.9 252.6 L467.5 251.0 L468.1 249.5 L468.7 247.8 L469.3 246.0 L469.9 244.0 L470.5 241.7 L471.1 239.3 L471.7 236.8 L472.3 234.3 L472.9 231.7 L473.5 229.3 L474.1 226.9 L474.7 224.6 L475.3 222.1 L475.9 219.7 L476.5 217.4 L477.1 215.2 L477.7 213.2 L478.3 211.5 L478.9 210.1 L479.5 208.7 L480.1 207.5 L480.7 206.6 L481.3 205.9 L481.9 205.4 L482.5 205.0 L483.1 204.7 L483.7 204.5 L484.3 204.3 L484.9 204.4 L485.5 204.9 L486.1 205.9 L486.7 207.2 L487.3 208.7 L487.9 210.4 L488.5 213.0 L489.1 216.3 L489.7 220.3 L490.3 224.9 L490.9 230.3 L491.5 238.1 L492.1 245.4 L492.7 252.8 L493.3 259.2 L493.9 261.3 L494.5 256.9 L495.1 249.2 L495.7 242.1 L496.3 235.2 L496.9 228.4 L497.5 222.4 L498.1 217.0 L498.7 211.9 L499.3 207.7 L499.9 204.3 L500.5 201.1 L501.1 198.1 L501.7 195.5 L502.3 193.3 L502.9 191.6 L503.5 190.5 L504.1 189.5 L504.7 188.7 L505.3 188.0 L505.9 187.4 L506.5 186.8 L507.1 186.3 L507.7 185.9 L508.3 185.5 L508.9 185.2 L509.5 184.9 L510.1 184.6 L510.7 184.2 L511.3 183.8 L511.9 183.4 L512.5 183.0 L513.1 182.7 L513.7 182.5 L514.3 182.6 L514.9 182.8 L515.5 183.2 L516.1 183.7 L516.7 184.3 L517.3 185.0 L517.9 185.8 L518.5 187.0 L519.1 188.4 L519.7 189.9 L520.3 191.4 L520.9 193.0 L521.5 194.4 L522.1 196.0 L522.7 197.5 L523.3 199.2 L523.9 200.8 L524.5 202.5 L525.1 204.2 L525.7 205.8 L526.3 207.5 L526.9 209.1 L527.5 210.8 L528.1 212.5 L528.7 214.3 L529.3 216.3 L529.9 218.4 L530.5 220.7 L531.1 223.2 L531.7 226.3 L532.3 230.4 L532.9 237.5 L533.5 244.2 L534.1 248.2 L534.7 247.5 L535.3 243.2 L535.9 233.9 L536.5 225.2 L537.1 221.0 L537.7 217.6 L538.3 214.7 L538.9 212.4 L539.5 210.3 L540.1 208.6 L540.7 206.9 L541.3 205.3 L541.9 203.7 L542.5 202.4 L543.1 201.4 L543.7 200.7 L544.3 200.5 L544.9 200.4 L545.5 200.3 L546.1 200.3 L546.7 200.8 L547.3 202.5 L547.9 204.7 L548.5 206.8 L549.1 209.5 L549.7 212.6 L550.3 215.6 L550.9 217.7 L551.5 218.4 L552.1 218.4 L552.7 218.3 L553.3 218.2 L553.9 218.2 L554.5 218.1 L555.1 218.1 L555.7 218.1 L556.3 218.2 L556.9 218.2 L557.5 218.3 L558.1 218.5 L558.7 218.6 L559.3 218.8 L559.9 219.0 L560.5 219.3 L561.1 220.1 L561.7 221.3 L562.3 222.9 L562.9 224.7 L563.5 226.7 L564.1 229.2 L564.7 232.4 L565.3 236.0 L565.9 239.9 L566.5 243.9 L567.1 248.0 L567.7 252.3 L568.3 257.0 L568.9 262.0 L569.5 267.0 L570.1 272.0 L570.7 276.9 L571.3 282.5 L571.9 288.6 L572.5 293.0 L573.1 293.6 L573.7 288.1 L574.3 278.7 L574.9 268.7 L575.5 261.1 L576.1 254.8 L576.7 248.8 L577.3 243.4 L577.9 239.2 L578.5 236.6 L579.1 234.7 L579.7 233.0 L580.3 231.6 L580.9 230.5 L581.5 229.8 L582.1 229.5 L582.7 229.7 L583.3 230.3 L583.9 231.2 L584.5 232.3 L585.1 233.6 L585.7 235.1 L586.3 237.2 L586.9 240.6 L587.5 244.8 L588.1 249.4 L588.7 254.0 L589.3 259.1 L589.9 265.7 L590.5 272.2 L591.1 277.2 L591.7 279.2 L592.3 278.6 L592.9 277.0 L593.5 274.9 L594.1 272.4 L594.7 270.1 L595.3 268.2 L595.9 266.8 L596.5 265.3 L597.1 263.9 L597.7 262.9 L598.3 262.4 L598.9 262.7 L599.5 263.9 L600.1 265.6 L600.7 267.5 L601.3 269.2 L601.9 270.8 L602.5 272.4 L603.1 274.0 L603.7 275.7 L604.3 277.4 L604.9 279.2 L605.5 280.9 L606.1 282.8 L606.7 284.6 L607.3 286.6 L607.9 288.7 L608.5 290.9 L609.1 293.1 L609.7 295.2 L610.3 297.2 L610.9 298.9 L611.5 300.6 L612.1 302.4 L612.7 303.8 L613.3 304.4 L613.9 304.3 L614.5 304.0 L615.1 303.5 L615.7 302.8 L616.3 302.0 L616.9 299.6 L617.5 295.4 L618.1 290.7 L618.7 286.6 L619.3 284.0 L619.9 282.2 L620.5 280.7 L621.1 279.6 L621.7 279.2 L622.3 279.7 L622.9 280.7 L623.5 281.6 L624.1 282.1 L624.7 281.5 L625.3 279.9 L625.9 277.8 L626.5 275.8 L627.1 274.3 L627.7 273.6 L628.3 273.1 L628.9 272.7 L629.5 272.3 L630.1 271.9 L630.7 271.4 L631.3 270.7 L631.9 269.1 L632.5 267.2 L633.1 265.6 L633.7 265.1 L634.3 265.7 L634.9 266.9 L635.5 268.6 L636.1 270.6 L636.7 273.6 L637.3 278.4 L637.9 283.9 L638.5 288.8 L639.1 293.6 L639.7 298.5 L640.3 302.3 L640.9 303.9 L641.5 304.4 L642.1 304.4 L642.7 304.4 L643.3 304.4 L643.9 304.3 L644.5 302.3 L645.1 298.8 L645.7 294.6 L646.3 289.6 L646.9 282.1 L647.5 274.5 L648.1 269.5 L648.7 267.0 L649.3 265.0 L649.9 263.3 L650.5 261.9 L651.1 260.6 L651.7 259.3 L652.3 258.0 L652.9 256.6 L653.5 255.2 L654.1 253.9 L654.7 252.7 L655.3 251.7 L655.9 250.7 L656.5 250.0 L657.1 249.4 L657.7 249.0 L658.3 248.7 L658.9 248.4 L659.5 248.1 L660.1 247.9 L660.7 247.6 L661.3 247.4 L661.9 247.1 L662.5 246.8 L663.1 246.5 L663.7 246.2 L664.3 245.9 L664.9 245.8 L665.5 246.0 L666.1 247.2 L666.7 248.7 L667.3 249.8 L667.9 250.5 L668.5 251.0" fill="none" stroke="#ff1010" stroke-width="1.15" stroke-linejoin="round" stroke-linecap="round" clip-path="url(#clipf)"/>
<path d="M386.5 236.8 L387.1 236.6 L387.7 236.3 L388.3 236.0 L388.9 235.6 L389.5 235.1 L390.1 234.5 L390.7 233.9 L391.3 233.4 L391.9 233.0 L392.5 232.6 L393.1 232.5 L393.7 232.6 L394.3 232.9 L394.9 233.2 L395.5 233.4 L396.1 233.3 L396.7 233.1 L397.3 232.8 L397.9 232.6 L398.5 232.5 L399.1 232.7 L399.7 233.1 L400.3 233.7 L400.9 234.5 L401.5 235.4 L402.1 236.4 L402.7 237.5 L403.3 239.0 L403.9 241.1 L404.5 243.3 L405.1 245.3 L405.7 247.0 L406.3 248.7 L406.9 250.3 L407.5 251.9 L408.1 253.4 L408.7 254.8 L409.3 256.0 L409.9 257.1 L410.5 258.0 L411.1 258.8 L411.7 259.5 L412.3 260.1 L412.9 260.6 L413.5 261.1 L414.1 261.6 L414.7 262.2 L415.3 262.8 L415.9 263.6 L416.5 264.4 L417.1 265.5 L417.7 266.9 L418.3 268.6 L418.9 270.6 L419.5 272.9 L420.1 275.4 L420.7 278.1 L421.3 280.9 L421.9 284.4 L422.5 289.2 L423.1 294.4 L423.7 299.0 L424.3 302.3 L424.9 303.8 L425.5 304.4 L426.1 303.3 L426.7 301.0 L427.3 295.3 L427.9 289.5 L428.5 285.9 L429.1 282.7 L429.7 279.8 L430.3 277.1 L430.9 274.6 L431.5 272.4 L432.1 270.3 L432.7 268.5 L433.3 266.8 L433.9 265.3 L434.5 263.9 L435.1 262.6 L435.7 261.2 L436.3 259.9 L436.9 258.8 L437.5 257.9 L438.1 257.2 L438.7 256.7 L439.3 256.6 L439.9 256.8 L440.5 257.2 L441.1 257.6 L441.7 257.9 L442.3 258.0 L442.9 258.1 L443.5 258.2 L444.1 258.3 L444.7 258.7 L445.3 259.9 L445.9 261.8 L446.5 264.1 L447.1 266.6 L447.7 269.3 L448.3 272.0 L448.9 274.4 L449.5 276.7 L450.1 279.2 L450.7 281.7 L451.3 284.3 L451.9 286.9 L452.5 289.6 L453.1 292.3 L453.7 295.5 L454.3 299.0 L454.9 301.9 L455.5 303.6 L456.1 304.3 L456.7 304.1 L457.3 302.5 L457.9 299.5 L458.5 294.9 L459.1 289.8 L459.7 285.4 L460.3 282.4 L460.9 279.7 L461.5 277.2 L462.1 274.9 L462.7 272.7 L463.3 270.7 L463.9 268.7 L464.5 266.9 L465.1 265.1 L465.7 263.3 L466.3 261.5 L466.9 259.7 L467.5 258.0 L468.1 256.4 L468.7 254.8 L469.3 253.3 L469.9 251.8 L470.5 250.2 L471.1 248.7 L471.7 247.2 L472.3 245.6 L472.9 243.9 L473.5 242.1 L474.1 240.2 L474.7 238.3 L475.3 236.5 L475.9 234.7 L476.5 233.1 L477.1 231.6 L477.7 230.1 L478.3 228.7 L478.9 227.3 L479.5 226.0 L480.1 224.8 L480.7 223.8 L481.3 223.0 L481.9 222.4 L482.5 221.8 L483.1 221.4 L483.7 221.1 L484.3 221.2 L484.9 221.6 L485.5 222.2 L486.1 223.0 L486.7 224.0 L487.3 225.2 L487.9 227.4 L488.5 230.1 L489.1 233.0 L489.7 235.8 L490.3 238.1 L490.9 240.4 L491.5 243.0 L492.1 246.9 L492.7 252.6 L493.3 256.6 L493.9 255.7 L494.5 251.0 L495.1 245.5 L495.7 241.3 L496.3 237.5 L496.9 233.7 L497.5 230.1 L498.1 226.7 L498.7 223.2 L499.3 219.6 L499.9 216.4 L500.5 213.8 L501.1 212.3 L501.7 211.4 L502.3 210.7 L502.9 210.1 L503.5 209.6 L504.1 209.2 L504.7 208.8 L505.3 208.5 L505.9 208.2 L506.5 207.9 L507.1 207.7 L507.7 207.4 L508.3 207.2 L508.9 207.0 L509.5 206.7 L510.1 206.4 L510.7 206.0 L511.3 205.5 L511.9 204.9 L512.5 204.5 L513.1 204.1 L513.7 203.9 L514.3 203.9 L514.9 204.0 L515.5 204.2 L516.1 204.4 L516.7 204.7 L517.3 205.0 L517.9 205.5 L518.5 206.3 L519.1 207.3 L519.7 208.5 L520.3 209.7 L520.9 210.8 L521.5 211.9 L522.1 213.1 L522.7 214.4 L523.3 215.7 L523.9 217.0 L524.5 218.2 L525.1 219.4 L525.7 220.4 L526.3 221.4 L526.9 222.3 L527.5 223.1 L528.1 224.0 L528.7 224.9 L529.3 226.0 L529.9 226.9 L530.5 227.9 L531.1 229.3 L531.7 232.0 L532.3 238.1 L532.9 245.0 L533.5 252.9 L534.1 259.3 L534.7 257.2 L535.3 248.3 L535.9 242.8 L536.5 239.1 L537.1 236.0 L537.7 233.4 L538.3 231.1 L538.9 228.9 L539.5 226.9 L540.1 225.2 L540.7 223.6 L541.3 222.3 L541.9 221.2 L542.5 220.3 L543.1 219.4 L543.7 218.6 L544.3 218.0 L544.9 217.6 L545.5 217.4 L546.1 217.8 L546.7 218.9 L547.3 220.3 L547.9 221.8 L548.5 223.1 L549.1 224.6 L549.7 226.4 L550.3 228.0 L550.9 229.2 L551.5 229.5 L552.1 229.5 L552.7 229.4 L553.3 229.3 L553.9 229.2 L554.5 229.1 L555.1 229.1 L555.7 229.1 L556.3 229.3 L556.9 229.5 L557.5 229.8 L558.1 230.1 L558.7 230.5 L559.3 231.0 L559.9 231.5 L560.5 232.0 L561.1 232.9 L561.7 234.0 L562.3 235.4 L562.9 236.8 L563.5 238.1 L564.1 239.4 L564.7 240.8 L565.3 242.4 L565.9 244.5 L566.5 247.2 L567.1 250.4 L567.7 254.1 L568.3 258.0 L568.9 262.1 L569.5 266.2 L570.1 270.2 L570.7 275.2 L571.3 280.9 L571.9 286.1 L572.5 289.5 L573.1 289.9 L573.7 284.9 L574.3 276.4 L574.9 267.5 L575.5 261.3 L576.1 256.7 L576.7 252.4 L577.3 248.6 L577.9 245.8 L578.5 244.1 L579.1 242.9 L579.7 241.9 L580.3 241.0 L580.9 240.4 L581.5 239.9 L582.1 239.8 L582.7 240.0 L583.3 240.6 L583.9 241.6 L584.5 242.7 L585.1 244.1 L585.7 245.6 L586.3 247.4 L586.9 250.1 L587.5 253.3 L588.1 256.9 L588.7 260.6 L589.3 264.0 L589.9 267.4 L590.5 271.4 L591.1 275.4 L591.7 278.7 L592.3 280.5 L592.9 280.3 L593.5 278.9 L594.1 276.8 L594.7 274.6 L595.3 272.7 L595.9 271.4 L596.5 270.0 L597.1 268.7 L597.7 267.7 L598.3 267.3 L598.9 267.6 L599.5 268.5 L600.1 269.8 L600.7 271.5 L601.3 273.2 L601.9 274.9 L602.5 276.4 L603.1 278.0 L603.7 279.7 L604.3 281.5 L604.9 283.3 L605.5 285.1 L606.1 286.9 L606.7 288.6 L607.3 290.3 L607.9 292.0 L608.5 293.8 L609.1 295.7 L609.7 297.5 L610.3 299.1 L610.9 300.6 L611.5 301.7 L612.1 302.6 L612.7 303.4 L613.3 304.1 L613.9 304.4 L614.5 304.3 L615.1 303.8 L615.7 303.0 L616.3 302.0 L616.9 300.9 L617.5 299.1 L618.1 296.1 L618.7 292.6 L619.3 289.4 L619.9 287.3 L620.5 286.1 L621.1 285.2 L621.7 284.4 L622.3 283.7 L622.9 282.9 L623.5 282.0 L624.1 281.2 L624.7 280.3 L625.3 279.5 L625.9 278.6 L626.5 277.9 L627.1 277.1 L627.7 276.4 L628.3 275.8 L628.9 275.1 L629.5 274.5 L630.1 273.9 L630.7 273.3 L631.3 272.9 L631.9 272.4 L632.5 272.0 L633.1 271.6 L633.7 271.3 L634.3 271.1 L634.9 271.0 L635.5 271.8 L636.1 273.5 L636.7 275.7 L637.3 278.4 L637.9 282.6 L638.5 287.7 L639.1 292.5 L639.7 297.1 L640.3 301.8 L640.9 304.3 L641.5 304.4 L642.1 304.4 L642.7 304.4 L643.3 304.4 L643.9 304.4 L644.5 303.4 L645.1 300.3 L645.7 295.8 L646.3 291.0 L646.9 286.4 L647.5 280.6 L648.1 274.8 L648.7 270.4 L649.3 268.2 L649.9 266.7 L650.5 265.4 L651.1 264.4 L651.7 263.4 L652.3 262.6 L652.9 261.6 L653.5 260.7 L654.1 259.8 L654.7 258.9 L655.3 258.0 L655.9 257.2 L656.5 256.5 L657.1 255.8 L657.7 255.3 L658.3 254.8 L658.9 254.5 L659.5 254.1 L660.1 253.8 L660.7 253.5 L661.3 253.2 L661.9 252.9 L662.5 252.7 L663.1 252.6 L663.7 252.4 L664.3 252.4 L664.9 252.4 L665.5 252.6 L666.1 252.8 L666.7 253.0 L667.3 253.3 L667.9 253.6 L668.5 254.0" fill="none" stroke="#ffa010" stroke-width="1.15" stroke-linejoin="round" stroke-linecap="round" clip-path="url(#clipf)"/>
<path d="M386.5 245.0 L387.1 244.8 L387.7 244.6 L388.3 244.4 L388.9 244.2 L389.5 244.0 L390.1 243.8 L390.7 243.6 L391.3 243.4 L391.9 243.3 L392.5 243.1 L393.1 243.0 L393.7 243.0 L394.3 243.1 L394.9 243.3 L395.5 243.5 L396.1 243.7 L396.7 243.8 L397.3 243.8 L397.9 243.7 L398.5 243.6 L399.1 243.5 L399.7 243.5 L400.3 243.6 L400.9 244.1 L401.5 244.9 L402.1 245.9 L402.7 247.1 L403.3 248.3 L403.9 249.4 L404.5 250.6 L405.1 251.9 L405.7 253.4 L406.3 255.0 L406.9 256.7 L407.5 258.4 L408.1 260.1 L408.7 261.6 L409.3 262.9 L409.9 263.9 L410.5 264.6 L411.1 265.3 L411.7 265.8 L412.3 266.3 L412.9 266.7 L413.5 267.0 L414.1 267.2 L414.7 267.4 L415.3 267.5 L415.9 267.6 L416.5 267.8 L417.1 268.2 L417.7 269.3 L418.3 271.1 L418.9 273.5 L419.5 276.2 L420.1 279.1 L420.7 281.9 L421.3 285.3 L421.9 289.5 L422.5 293.9 L423.1 298.0 L423.7 301.2 L424.3 303.1 L424.9 304.2 L425.5 304.1 L426.1 302.6 L426.7 300.4 L427.3 297.0 L427.9 293.7 L428.5 291.1 L429.1 288.6 L429.7 286.1 L430.3 283.8 L430.9 281.5 L431.5 279.4 L432.1 277.5 L432.7 275.7 L433.3 274.1 L433.9 272.7 L434.5 271.5 L435.1 270.2 L435.7 269.0 L436.3 267.8 L436.9 266.8 L437.5 266.0 L438.1 265.3 L438.7 264.9 L439.3 264.8 L439.9 265.0 L440.5 265.3 L441.1 265.5 L441.7 265.6 L442.3 265.5 L442.9 265.3 L443.5 265.2 L444.1 265.1 L444.7 265.3 L445.3 266.0 L445.9 267.3 L446.5 269.0 L447.1 271.0 L447.7 273.1 L448.3 275.2 L448.9 277.2 L449.5 279.3 L450.1 281.7 L450.7 284.1 L451.3 286.7 L451.9 289.3 L452.5 291.8 L453.1 294.6 L453.7 297.7 L454.3 300.6 L454.9 302.8 L455.5 303.9 L456.1 304.4 L456.7 303.8 L457.3 302.2 L457.9 299.7 L458.5 296.4 L459.1 292.8 L459.7 289.6 L460.3 287.3 L460.9 285.2 L461.5 283.3 L462.1 281.5 L462.7 279.7 L463.3 278.1 L463.9 276.5 L464.5 275.0 L465.1 273.4 L465.7 271.9 L466.3 270.3 L466.9 268.7 L467.5 267.1 L468.1 265.4 L468.7 263.8 L469.3 262.2 L469.9 260.7 L470.5 259.1 L471.1 257.6 L471.7 256.0 L472.3 254.5 L472.9 253.0 L473.5 251.5 L474.1 249.9 L474.7 248.4 L475.3 246.7 L475.9 245.0 L476.5 243.3 L477.1 241.6 L477.7 240.2 L478.3 238.8 L478.9 237.8 L479.5 237.0 L480.1 236.4 L480.7 235.8 L481.3 235.3 L481.9 234.9 L482.5 234.5 L483.1 234.2 L483.7 234.1 L484.3 234.2 L484.9 234.6 L485.5 235.2 L486.1 236.1 L486.7 237.0 L487.3 238.0 L487.9 239.0 L488.5 240.3 L489.1 241.7 L489.7 243.2 L490.3 244.5 L490.9 245.5 L491.5 246.6 L492.1 247.5 L492.7 248.0 L493.3 247.4 L493.9 245.4 L494.5 242.9 L495.1 240.7 L495.7 238.5 L496.3 236.4 L496.9 234.3 L497.5 232.7 L498.1 231.1 L498.7 229.6 L499.3 228.3 L499.9 227.1 L500.5 226.2 L501.1 225.7 L501.7 225.4 L502.3 225.1 L502.9 224.8 L503.5 224.6 L504.1 224.5 L504.7 224.3 L505.3 224.3 L505.9 224.3 L506.5 224.4 L507.1 224.6 L507.7 224.7 L508.3 224.9 L508.9 225.0 L509.5 225.1 L510.1 225.1 L510.7 224.8 L511.3 224.4 L511.9 223.8 L512.5 223.1 L513.1 222.4 L513.7 221.8 L514.3 221.4 L514.9 221.1 L515.5 221.1 L516.1 221.2 L516.7 221.4 L517.3 221.7 L517.9 222.0 L518.5 222.3 L519.1 222.7 L519.7 223.0 L520.3 223.4 L520.9 224.0 L521.5 224.5 L522.1 225.1 L522.7 225.6 L523.3 226.1 L523.9 226.5 L524.5 226.9 L525.1 227.2 L525.7 227.5 L526.3 227.8 L526.9 228.0 L527.5 228.1 L528.1 227.9 L528.7 227.3 L529.3 226.6 L529.9 226.2 L530.5 229.4 L531.1 236.2 L531.7 240.9 L532.3 248.7 L532.9 262.1 L533.5 268.5 L534.1 272.2 L534.7 270.9 L535.3 264.4 L535.9 256.8 L536.5 250.5 L537.1 243.8 L537.7 238.6 L538.3 236.6 L538.9 235.9 L539.5 235.3 L540.1 234.9 L540.7 234.5 L541.3 234.3 L541.9 233.9 L542.5 233.6 L543.1 233.3 L543.7 233.0 L544.3 232.7 L544.9 232.6 L545.5 232.5 L546.1 232.7 L546.7 233.1 L547.3 233.7 L547.9 234.5 L548.5 235.3 L549.1 236.1 L549.7 237.0 L550.3 238.3 L550.9 239.7 L551.5 240.8 L552.1 241.4 L552.7 241.2 L553.3 240.4 L553.9 239.5 L554.5 238.7 L555.1 238.4 L555.7 238.5 L556.3 238.7 L556.9 238.9 L557.5 239.3 L558.1 239.7 L558.7 240.1 L559.3 240.5 L559.9 240.9 L560.5 241.3 L561.1 241.7 L561.7 242.1 L562.3 242.6 L562.9 243.1 L563.5 243.8 L564.1 244.7 L564.7 246.1 L565.3 248.0 L565.9 250.1 L566.5 252.6 L567.1 255.3 L567.7 258.2 L568.3 261.1 L568.9 264.1 L569.5 267.2 L570.1 270.4 L570.7 273.6 L571.3 276.5 L571.9 279.4 L572.5 282.2 L573.1 282.5 L573.7 278.0 L574.3 270.5 L574.9 263.1 L575.5 258.6 L576.1 255.9 L576.7 253.5 L577.3 251.6 L577.9 250.2 L578.5 249.4 L579.1 248.9 L579.7 248.5 L580.3 248.2 L580.9 248.1 L581.5 248.0 L582.1 248.4 L582.7 249.2 L583.3 250.3 L583.9 251.7 L584.5 253.2 L585.1 254.7 L585.7 256.4 L586.3 258.4 L586.9 260.7 L587.5 263.1 L588.1 265.6 L588.7 268.0 L589.3 270.3 L589.9 272.5 L590.5 275.0 L591.1 277.6 L591.7 279.9 L592.3 281.5 L592.9 282.1 L593.5 281.6 L594.1 280.5 L594.7 278.9 L595.3 277.2 L595.9 275.9 L596.5 275.0 L597.1 274.2 L597.7 273.5 L598.3 273.2 L598.9 273.5 L599.5 274.4 L600.1 275.8 L600.7 277.5 L601.3 279.3 L601.9 280.9 L602.5 282.4 L603.1 283.9 L603.7 285.5 L604.3 287.1 L604.9 288.7 L605.5 290.3 L606.1 291.8 L606.7 293.3 L607.3 294.7 L607.9 296.1 L608.5 297.6 L609.1 299.1 L609.7 300.4 L610.3 301.7 L610.9 302.7 L611.5 303.4 L612.1 303.8 L612.7 304.0 L613.3 304.2 L613.9 304.4 L614.5 304.4 L615.1 304.0 L615.7 303.2 L616.3 302.2 L616.9 300.9 L617.5 299.6 L618.1 298.1 L618.7 296.0 L619.3 293.4 L619.9 290.7 L620.5 288.2 L621.1 286.4 L621.7 285.4 L622.3 284.6 L622.9 284.0 L623.5 283.5 L624.1 283.0 L624.7 282.5 L625.3 281.9 L625.9 281.2 L626.5 280.5 L627.1 279.7 L627.7 279.0 L628.3 278.3 L628.9 277.7 L629.5 277.3 L630.1 277.0 L630.7 276.8 L631.3 276.7 L631.9 276.6 L632.5 276.5 L633.1 276.4 L633.7 276.3 L634.3 276.2 L634.9 276.2 L635.5 276.2 L636.1 277.1 L636.7 279.4 L637.3 282.3 L637.9 285.3 L638.5 289.1 L639.1 293.4 L639.7 297.5 L640.3 300.9 L640.9 303.9 L641.5 304.4 L642.1 304.4 L642.7 304.4 L643.3 304.4 L643.9 304.4 L644.5 304.1 L645.1 300.0 L645.7 293.3 L646.3 286.7 L646.9 282.4 L647.5 278.7 L648.1 275.4 L648.7 272.5 L649.3 270.3 L649.9 268.8 L650.5 267.6 L651.1 266.5 L651.7 265.6 L652.3 264.8 L652.9 264.1 L653.5 263.4 L654.1 262.8 L654.7 262.2 L655.3 261.7 L655.9 261.2 L656.5 260.7 L657.1 260.2 L657.7 259.8 L658.3 259.4 L658.9 259.1 L659.5 258.7 L660.1 258.3 L660.7 258.0 L661.3 257.6 L661.9 257.2 L662.5 256.8 L663.1 256.5 L663.7 256.2 L664.3 256.0 L664.9 255.9 L665.5 255.9 L666.1 256.3 L666.7 256.7 L667.3 257.0 L667.9 257.3 L668.5 257.5" fill="none" stroke="#18c828" stroke-width="1.15" stroke-linejoin="round" stroke-linecap="round" clip-path="url(#clipf)"/>
<path d="M386.5 255.6 L387.1 255.5 L387.7 255.4 L388.3 255.4 L388.9 255.3 L389.5 255.3 L390.1 255.2 L390.7 255.2 L391.3 255.1 L391.9 255.1 L392.5 255.0 L393.1 255.0 L393.7 254.9 L394.3 254.9 L394.9 254.9 L395.5 254.8 L396.1 254.8 L396.7 254.8 L397.3 254.7 L397.9 254.7 L398.5 254.7 L399.1 254.7 L399.7 254.7 L400.3 254.8 L400.9 255.3 L401.5 256.0 L402.1 256.8 L402.7 257.8 L403.3 258.9 L403.9 259.9 L404.5 260.9 L405.1 262.0 L405.7 263.2 L406.3 264.6 L406.9 265.9 L407.5 267.3 L408.1 268.7 L408.7 269.9 L409.3 271.1 L409.9 272.1 L410.5 272.9 L411.1 273.5 L411.7 274.1 L412.3 274.6 L412.9 275.1 L413.5 275.5 L414.1 276.0 L414.7 276.6 L415.3 277.2 L415.9 278.0 L416.5 278.9 L417.1 280.2 L417.7 281.9 L418.3 283.8 L418.9 285.8 L419.5 288.0 L420.1 290.1 L420.7 292.1 L421.3 294.5 L421.9 297.1 L422.5 299.7 L423.1 301.8 L423.7 303.3 L424.3 304.0 L424.9 304.4 L425.5 303.8 L426.1 302.2 L426.7 300.8 L427.3 299.2 L427.9 297.4 L428.5 295.4 L429.1 293.3 L429.7 291.2 L430.3 289.0 L430.9 287.0 L431.5 285.2 L432.1 283.7 L432.7 282.5 L433.3 281.4 L433.9 280.3 L434.5 279.3 L435.1 278.3 L435.7 277.5 L436.3 276.7 L436.9 276.1 L437.5 275.7 L438.1 275.4 L438.7 275.4 L439.3 275.5 L439.9 275.5 L440.5 275.6 L441.1 275.6 L441.7 275.4 L442.3 275.1 L442.9 274.9 L443.5 274.7 L444.1 274.9 L444.7 275.6 L445.3 276.7 L445.9 278.0 L446.5 279.5 L447.1 280.9 L447.7 282.3 L448.3 283.9 L448.9 285.7 L449.5 287.5 L450.1 289.4 L450.7 291.4 L451.3 293.2 L451.9 295.0 L452.5 296.9 L453.1 298.9 L453.7 300.8 L454.3 302.4 L454.9 303.5 L455.5 304.1 L456.1 304.4 L456.7 303.3 L457.3 301.7 L457.9 299.6 L458.5 297.2 L459.1 295.0 L459.7 293.2 L460.3 291.5 L460.9 289.9 L461.5 288.3 L462.1 286.8 L462.7 285.3 L463.3 283.9 L463.9 282.5 L464.5 281.2 L465.1 279.9 L465.7 278.7 L466.3 277.5 L466.9 276.4 L467.5 275.3 L468.1 274.2 L468.7 273.2 L469.3 272.2 L469.9 271.2 L470.5 270.1 L471.1 269.1 L471.7 268.0 L472.3 266.9 L472.9 265.7 L473.5 264.4 L474.1 263.2 L474.7 262.0 L475.3 260.9 L475.9 259.7 L476.5 258.5 L477.1 257.3 L477.7 256.2 L478.3 255.1 L478.9 254.2 L479.5 253.4 L480.1 252.8 L480.7 252.5 L481.3 252.3 L481.9 252.2 L482.5 252.2 L483.1 252.1 L483.7 252.0 L484.3 252.0 L484.9 252.0 L485.5 251.9 L486.1 251.8 L486.7 251.7 L487.3 251.6 L487.9 251.4 L488.5 251.1 L489.1 250.8 L489.7 250.5 L490.3 250.1 L490.9 249.7 L491.5 249.4 L492.1 249.0 L492.7 248.5 L493.3 248.1 L493.9 247.6 L494.5 247.1 L495.1 246.6 L495.7 246.1 L496.3 245.7 L496.9 245.2 L497.5 244.9 L498.1 244.5 L498.7 244.1 L499.3 243.7 L499.9 243.4 L500.5 243.1 L501.1 243.0 L501.7 242.9 L502.3 242.9 L502.9 243.1 L503.5 243.2 L504.1 243.5 L504.7 243.7 L505.3 243.9 L505.9 244.3 L506.5 244.7 L507.1 245.2 L507.7 245.7 L508.3 246.2 L508.9 246.7 L509.5 247.0 L510.1 247.2 L510.7 247.3 L511.3 247.2 L511.9 247.0 L512.5 246.7 L513.1 246.2 L513.7 245.8 L514.3 245.3 L514.9 244.8 L515.5 244.3 L516.1 243.8 L516.7 243.4 L517.3 242.9 L517.9 242.4 L518.5 242.0 L519.1 241.6 L519.7 241.3 L520.3 241.2 L520.9 241.0 L521.5 240.9 L522.1 240.8 L522.7 240.5 L523.3 239.7 L523.9 238.7 L524.5 237.7 L525.1 237.1 L525.7 237.0 L526.3 237.4 L526.9 238.0 L527.5 238.9 L528.1 240.5 L528.7 244.0 L529.3 247.9 L529.9 252.2 L530.5 257.0 L531.1 261.9 L531.7 266.6 L532.3 270.9 L532.9 275.7 L533.5 280.1 L534.1 282.7 L534.7 281.9 L535.3 277.8 L535.9 272.3 L536.5 267.2 L537.1 263.2 L537.7 259.0 L538.3 255.1 L538.9 252.0 L539.5 250.2 L540.1 249.3 L540.7 248.5 L541.3 247.8 L541.9 247.4 L542.5 247.3 L543.1 247.4 L543.7 247.7 L544.3 248.1 L544.9 248.6 L545.5 249.2 L546.1 249.9 L546.7 250.6 L547.3 251.3 L547.9 251.9 L548.5 252.8 L549.1 253.8 L549.7 254.9 L550.3 256.1 L550.9 257.2 L551.5 258.1 L552.1 258.7 L552.7 259.1 L553.3 259.0 L553.9 258.7 L554.5 258.3 L555.1 257.7 L555.7 257.0 L556.3 256.4 L556.9 255.9 L557.5 255.5 L558.1 255.4 L558.7 255.4 L559.3 255.5 L559.9 255.7 L560.5 255.9 L561.1 256.1 L561.7 256.4 L562.3 256.7 L562.9 257.0 L563.5 257.3 L564.1 257.7 L564.7 258.0 L565.3 258.3 L565.9 258.7 L566.5 259.2 L567.1 259.7 L567.7 260.3 L568.3 261.0 L568.9 262.3 L569.5 263.8 L570.1 265.5 L570.7 266.9 L571.3 267.8 L571.9 268.0 L572.5 267.7 L573.1 267.2 L573.7 266.7 L574.3 266.1 L574.9 265.7 L575.5 265.2 L576.1 264.7 L576.7 264.3 L577.3 263.9 L577.9 263.7 L578.5 263.6 L579.1 263.7 L579.7 264.0 L580.3 264.3 L580.9 264.8 L581.5 265.3 L582.1 265.9 L582.7 266.4 L583.3 267.0 L583.9 267.6 L584.5 268.4 L585.1 269.2 L585.7 270.1 L586.3 271.0 L586.9 271.9 L587.5 272.8 L588.1 274.0 L588.7 275.4 L589.3 276.8 L589.9 278.3 L590.5 279.7 L591.1 280.8 L591.7 281.6 L592.3 282.1 L592.9 281.9 L593.5 281.1 L594.1 280.0 L594.7 278.9 L595.3 278.4 L595.9 278.4 L596.5 278.6 L597.1 278.8 L597.7 279.0 L598.3 279.3 L598.9 279.7 L599.5 280.2 L600.1 281.1 L600.7 282.3 L601.3 283.9 L601.9 285.6 L602.5 287.4 L603.1 289.0 L603.7 290.5 L604.3 292.0 L604.9 293.5 L605.5 295.0 L606.1 296.5 L606.7 297.9 L607.3 299.2 L607.9 300.4 L608.5 301.4 L609.1 302.4 L609.7 303.4 L610.3 304.1 L610.9 304.4 L611.5 304.4 L612.1 304.4 L612.7 304.4 L613.3 304.4 L613.9 304.4 L614.5 304.4 L615.1 304.4 L615.7 304.0 L616.3 303.3 L616.9 302.4 L617.5 301.0 L618.1 298.8 L618.7 296.2 L619.3 293.7 L619.9 291.8 L620.5 290.3 L621.1 289.0 L621.7 287.7 L622.3 286.5 L622.9 285.4 L623.5 284.6 L624.1 283.9 L624.7 283.4 L625.3 282.9 L625.9 282.4 L626.5 282.0 L627.1 281.6 L627.7 281.3 L628.3 281.0 L628.9 280.8 L629.5 280.7 L630.1 280.6 L630.7 280.6 L631.3 280.7 L631.9 280.8 L632.5 281.0 L633.1 281.2 L633.7 281.5 L634.3 281.8 L634.9 282.2 L635.5 283.1 L636.1 284.6 L636.7 286.6 L637.3 288.8 L637.9 291.1 L638.5 294.3 L639.1 298.0 L639.7 301.1 L640.3 303.1 L640.9 304.4 L641.5 304.4 L642.1 304.4 L642.7 304.4 L643.3 304.4 L643.9 304.4 L644.5 304.4 L645.1 302.3 L645.7 297.4 L646.3 292.3 L646.9 288.7 L647.5 285.5 L648.1 282.5 L648.7 279.8 L649.3 277.7 L649.9 276.2 L650.5 275.0 L651.1 273.9 L651.7 272.9 L652.3 272.1 L652.9 271.4 L653.5 270.8 L654.1 270.3 L654.7 269.8 L655.3 269.4 L655.9 269.0 L656.5 268.6 L657.1 268.2 L657.7 267.9 L658.3 267.6 L658.9 267.2 L659.5 266.8 L660.1 266.4 L660.7 266.0 L661.3 265.4 L661.9 264.8 L662.5 264.3 L663.1 263.8 L663.7 263.3 L664.3 263.0 L664.9 262.8 L665.5 262.8 L666.1 262.8 L666.7 262.8 L667.3 262.8 L667.9 262.8 L668.5 262.8" fill="none" stroke="#10c8d0" stroke-width="1.15" stroke-linejoin="round" stroke-linecap="round" clip-path="url(#clipf)"/>
<path d="M386.5 260.2 L387.1 260.2 L387.7 260.3 L388.3 260.3 L388.9 260.3 L389.5 260.4 L390.1 260.4 L390.7 260.4 L391.3 260.4 L391.9 260.4 L392.5 260.4 L393.1 260.4 L393.7 260.4 L394.3 260.5 L394.9 260.5 L395.5 260.5 L396.1 260.6 L396.7 260.8 L397.3 261.0 L397.9 261.2 L398.5 261.5 L399.1 261.7 L399.7 262.0 L400.3 262.4 L400.9 262.9 L401.5 263.6 L402.1 264.3 L402.7 265.0 L403.3 265.8 L403.9 266.5 L404.5 267.3 L405.1 268.1 L405.7 268.9 L406.3 269.7 L406.9 270.5 L407.5 271.2 L408.1 272.0 L408.7 272.7 L409.3 273.4 L409.9 274.0 L410.5 274.5 L411.1 274.9 L411.7 275.2 L412.3 275.5 L412.9 275.8 L413.5 276.1 L414.1 276.5 L414.7 277.0 L415.3 277.7 L415.9 278.7 L416.5 279.9 L417.1 281.3 L417.7 283.2 L418.3 285.6 L418.9 288.0 L419.5 290.3 L420.1 292.8 L420.7 295.3 L421.3 297.8 L421.9 299.9 L422.5 301.6 L423.1 302.7 L423.7 303.8 L424.3 304.4 L424.9 304.3 L425.5 304.1 L426.1 303.7 L426.7 302.4 L427.3 300.7 L427.9 299.0 L428.5 297.2 L429.1 295.3 L429.7 293.5 L430.3 291.8 L430.9 290.5 L431.5 289.4 L432.1 288.4 L432.7 287.4 L433.3 286.5 L433.9 285.7 L434.5 284.9 L435.1 284.3 L435.7 283.7 L436.3 283.2 L436.9 282.9 L437.5 282.6 L438.1 282.4 L438.7 282.1 L439.3 281.9 L439.9 281.7 L440.5 281.6 L441.1 281.5 L441.7 281.4 L442.3 281.4 L442.9 281.6 L443.5 282.0 L444.1 282.5 L444.7 283.1 L445.3 283.7 L445.9 284.4 L446.5 285.3 L447.1 286.6 L447.7 288.0 L448.3 289.5 L448.9 291.1 L449.5 292.7 L450.1 294.2 L450.7 295.6 L451.3 297.2 L451.9 298.7 L452.5 300.2 L453.1 301.5 L453.7 302.5 L454.3 303.2 L454.9 303.9 L455.5 304.3 L456.1 304.3 L456.7 303.5 L457.3 302.4 L457.9 300.7 L458.5 298.9 L459.1 297.3 L459.7 295.6 L460.3 293.9 L460.9 292.3 L461.5 290.7 L462.1 289.1 L462.7 287.7 L463.3 286.4 L463.9 285.2 L464.5 284.2 L465.1 283.2 L465.7 282.2 L466.3 281.3 L466.9 280.4 L467.5 279.6 L468.1 278.8 L468.7 278.0 L469.3 277.3 L469.9 276.5 L470.5 275.8 L471.1 275.2 L471.7 274.6 L472.3 274.0 L472.9 273.4 L473.5 272.8 L474.1 272.1 L474.7 271.4 L475.3 270.6 L475.9 269.6 L476.5 268.4 L477.1 267.2 L477.7 266.0 L478.3 265.0 L478.9 264.1 L479.5 263.6 L480.1 263.3 L480.7 263.0 L481.3 262.7 L481.9 262.5 L482.5 262.3 L483.1 262.2 L483.7 262.1 L484.3 262.1 L484.9 262.1 L485.5 262.1 L486.1 262.1 L486.7 262.1 L487.3 262.1 L487.9 262.1 L488.5 262.1 L489.1 262.1 L489.7 262.1 L490.3 262.0 L490.9 261.7 L491.5 261.2 L492.1 260.6 L492.7 259.8 L493.3 259.0 L493.9 258.1 L494.5 257.3 L495.1 256.5 L495.7 255.8 L496.3 255.3 L496.9 254.9 L497.5 254.7 L498.1 254.5 L498.7 254.4 L499.3 254.3 L499.9 254.3 L500.5 254.2 L501.1 254.1 L501.7 254.0 L502.3 253.9 L502.9 253.7 L503.5 253.5 L504.1 253.1 L504.7 252.8 L505.3 252.6 L505.9 252.4 L506.5 252.4 L507.1 252.6 L507.7 252.8 L508.3 253.1 L508.9 253.4 L509.5 253.7 L510.1 253.8 L510.7 253.9 L511.3 253.8 L511.9 253.5 L512.5 253.2 L513.1 252.7 L513.7 252.2 L514.3 251.6 L514.9 251.0 L515.5 250.4 L516.1 249.8 L516.7 249.3 L517.3 248.8 L517.9 248.1 L518.5 247.4 L519.1 246.7 L519.7 246.1 L520.3 245.5 L520.9 245.0 L521.5 244.6 L522.1 244.3 L522.7 244.3 L523.3 244.9 L523.9 246.0 L524.5 247.4 L525.1 248.8 L525.7 250.1 L526.3 251.4 L526.9 252.6 L527.5 254.0 L528.1 255.6 L528.7 257.4 L529.3 259.5 L529.9 262.5 L530.5 266.3 L531.1 270.5 L531.7 274.5 L532.3 278.1 L532.9 282.0 L533.5 285.7 L534.1 287.8 L534.7 287.2 L535.3 283.8 L535.9 279.1 L536.5 274.6 L537.1 270.9 L537.7 266.8 L538.3 262.9 L538.9 259.7 L539.5 257.6 L540.1 256.3 L540.7 255.0 L541.3 254.0 L541.9 253.2 L542.5 252.6 L543.1 252.4 L543.7 252.5 L544.3 252.8 L544.9 253.3 L545.5 254.0 L546.1 254.8 L546.7 255.6 L547.3 256.4 L547.9 257.2 L548.5 258.2 L549.1 259.4 L549.7 260.8 L550.3 262.0 L550.9 263.1 L551.5 263.9 L552.1 264.3 L552.7 264.3 L553.3 264.3 L553.9 264.3 L554.5 264.3 L555.1 264.3 L555.7 264.1 L556.3 263.7 L556.9 263.1 L557.5 262.4 L558.1 261.6 L558.7 260.9 L559.3 260.1 L559.9 259.6 L560.5 259.2 L561.1 259.1 L561.7 259.2 L562.3 259.5 L562.9 259.8 L563.5 260.3 L564.1 260.9 L564.7 261.4 L565.3 262.0 L565.9 262.6 L566.5 263.2 L567.1 263.7 L567.7 264.2 L568.3 264.8 L568.9 265.4 L569.5 266.1 L570.1 266.7 L570.7 267.2 L571.3 267.6 L571.9 267.9 L572.5 268.0 L573.1 268.0 L573.7 267.9 L574.3 267.8 L574.9 267.7 L575.5 267.6 L576.1 267.4 L576.7 267.4 L577.3 267.3 L577.9 267.3 L578.5 267.5 L579.1 267.8 L579.7 268.2 L580.3 268.7 L580.9 269.2 L581.5 269.8 L582.1 270.4 L582.7 270.9 L583.3 271.4 L583.9 272.0 L584.5 272.6 L585.1 273.2 L585.7 273.8 L586.3 274.4 L586.9 275.1 L587.5 275.7 L588.1 276.3 L588.7 277.0 L589.3 277.8 L589.9 278.6 L590.5 279.2 L591.1 279.7 L591.7 279.9 L592.3 279.9 L592.9 279.8 L593.5 279.7 L594.1 279.5 L594.7 279.4 L595.3 279.3 L595.9 279.2 L596.5 279.3 L597.1 279.7 L597.7 280.4 L598.3 281.4 L598.9 282.5 L599.5 283.6 L600.1 284.7 L600.7 285.8 L601.3 287.2 L601.9 288.6 L602.5 290.1 L603.1 291.6 L603.7 293.1 L604.3 294.5 L604.9 295.9 L605.5 297.4 L606.1 299.0 L606.7 300.4 L607.3 301.7 L607.9 302.7 L608.5 303.3 L609.1 304.0 L609.7 304.3 L610.3 304.4 L610.9 304.4 L611.5 304.4 L612.1 304.4 L612.7 304.4 L613.3 304.4 L613.9 304.4 L614.5 304.4 L615.1 304.4 L615.7 304.4 L616.3 304.3 L616.9 303.9 L617.5 303.2 L618.1 302.1 L618.7 300.4 L619.3 298.1 L619.9 295.8 L620.5 293.7 L621.1 292.2 L621.7 290.7 L622.3 289.2 L622.9 287.9 L623.5 286.8 L624.1 286.0 L624.7 285.6 L625.3 285.3 L625.9 285.0 L626.5 284.8 L627.1 284.6 L627.7 284.4 L628.3 284.3 L628.9 284.3 L629.5 284.4 L630.1 284.5 L630.7 284.8 L631.3 285.1 L631.9 285.5 L632.5 286.0 L633.1 286.4 L633.7 287.0 L634.3 287.7 L634.9 288.7 L635.5 289.9 L636.1 291.1 L636.7 292.5 L637.3 294.0 L637.9 296.2 L638.5 298.8 L639.1 301.2 L639.7 303.0 L640.3 304.0 L640.9 304.4 L641.5 304.4 L642.1 304.4 L642.7 304.4 L643.3 304.4 L643.9 304.4 L644.5 304.4 L645.1 304.4 L645.7 302.9 L646.3 298.6 L646.9 293.5 L647.5 289.8 L648.1 287.3 L648.7 284.9 L649.3 282.9 L649.9 281.1 L650.5 279.7 L651.1 278.4 L651.7 277.3 L652.3 276.2 L652.9 275.3 L653.5 274.6 L654.1 274.0 L654.7 273.6 L655.3 273.2 L655.9 272.9 L656.5 272.6 L657.1 272.4 L657.7 272.1 L658.3 271.9 L658.9 271.6 L659.5 271.3 L660.1 270.9 L660.7 270.5 L661.3 270.0 L661.9 269.5 L662.5 269.0 L663.1 268.4 L663.7 267.9 L664.3 267.4 L664.9 266.9 L665.5 266.3 L666.1 265.8 L666.7 265.3 L667.3 265.0 L667.9 264.7 L668.5 264.5" fill="none" stroke="#1010ff" stroke-width="1.15" stroke-linejoin="round" stroke-linecap="round" clip-path="url(#clipf)"/>
<defs><clipPath id="clipf"><rect x="387.3" y="164.2" width="280.3" height="140.7"/></clipPath></defs>
<text x="396.6" y="185.0" font-size="19" text-anchor="start" fill="#000" font-weight="bold" >f</text>
<text transform="translate(381.8,189.0) scale(1.05,1)" font-size="10.9" text-anchor="end" fill="#222" >60</text>
<text transform="translate(381.8,309.2) scale(1.05,1)" font-size="10.9" text-anchor="end" fill="#222" >0</text>
<text transform="translate(379.3,234.3) rotate(-90)" font-size="11.8" text-anchor="middle" fill="#222"><tspan font-style="italic">G</tspan> (µS)</text>
<rect x="611.2" y="183.9" width="49.2" height="8.1" fill="url(#cbe)" stroke="#333" stroke-width="0.5"/>
<line x1="611.5" y1="183.9" x2="611.5" y2="182.0" stroke="#222" stroke-width="0.6" />
<text x="611.5" y="179.0" font-size="9.3" text-anchor="middle" fill="#222" >0</text>
<line x1="627.6" y1="183.9" x2="627.6" y2="182.0" stroke="#222" stroke-width="0.6" />
<text x="627.6" y="179.0" font-size="9.3" text-anchor="middle" fill="#222" >20</text>
<line x1="643.6" y1="183.9" x2="643.6" y2="182.0" stroke="#222" stroke-width="0.6" />
<text x="643.6" y="179.0" font-size="9.3" text-anchor="middle" fill="#222" >40</text>
<line x1="659.6" y1="183.9" x2="659.6" y2="182.0" stroke="#222" stroke-width="0.6" />
<text x="659.6" y="179.0" font-size="9.3" text-anchor="middle" fill="#222" >60</text>
<text x="606.2" y="191.3" font-size="11.6" text-anchor="end" fill="#222"><tspan font-style="italic">G</tspan> (µS)</text>
<text transform="translate(421.8,319.3) scale(1.05,1)" font-size="10.9" text-anchor="middle" fill="#222" >−4</text>
<text transform="translate(455.1,314.0) scale(0.92,1)" font-size="9.8" text-anchor="middle" fill="#222" >8</text>
<text transform="translate(455.1,324.7) scale(0.92,1)" font-size="9.8" text-anchor="middle" fill="#222" >3</text>
<line x1="451.2" y1="316.0" x2="459.0" y2="316.0" stroke="#222" stroke-width="0.6" />
<line x1="444.9" y1="316.0" x2="449.4" y2="316.0" stroke="#222" stroke-width="0.75" />
<text transform="translate(496.0,314.0) scale(0.92,1)" font-size="9.8" text-anchor="middle" fill="#222" >4</text>
<text transform="translate(496.0,324.7) scale(0.92,1)" font-size="9.8" text-anchor="middle" fill="#222" >3</text>
<line x1="492.1" y1="316.0" x2="499.9" y2="316.0" stroke="#222" stroke-width="0.6" />
<line x1="485.8" y1="316.0" x2="490.3" y2="316.0" stroke="#222" stroke-width="0.75" />
<text transform="translate(515.9,314.0) scale(0.92,1)" font-size="9.8" text-anchor="middle" fill="#222" >2</text>
<text transform="translate(515.9,324.7) scale(0.92,1)" font-size="9.8" text-anchor="middle" fill="#222" >3</text>
<line x1="512.0" y1="316.0" x2="519.8" y2="316.0" stroke="#222" stroke-width="0.6" />
<line x1="505.7" y1="316.0" x2="510.2" y2="316.0" stroke="#222" stroke-width="0.75" />
<text transform="translate(534.2,319.3) scale(1.05,1)" font-size="10.9" text-anchor="middle" fill="#222" >0</text>
<text transform="translate(554.4,314.0) scale(0.92,1)" font-size="9.8" text-anchor="middle" fill="#222" >2</text>
<text transform="translate(554.4,324.7) scale(0.92,1)" font-size="9.8" text-anchor="middle" fill="#222" >3</text>
<line x1="550.5" y1="316.0" x2="558.2" y2="316.0" stroke="#222" stroke-width="0.6" />
<text transform="translate(573.6,314.0) scale(0.92,1)" font-size="9.8" text-anchor="middle" fill="#222" >4</text>
<text transform="translate(573.6,324.7) scale(0.92,1)" font-size="9.8" text-anchor="middle" fill="#222" >3</text>
<line x1="569.8" y1="316.0" x2="577.5" y2="316.0" stroke="#222" stroke-width="0.6" />
<text transform="translate(597.1,319.3) scale(1.05,1)" font-size="10.9" text-anchor="middle" fill="#222" >2</text>
<text transform="translate(613.0,314.0) scale(0.92,1)" font-size="9.8" text-anchor="middle" fill="#222" >8</text>
<text transform="translate(613.0,324.7) scale(0.92,1)" font-size="9.8" text-anchor="middle" fill="#222" >3</text>
<line x1="609.1" y1="316.0" x2="616.9" y2="316.0" stroke="#222" stroke-width="0.6" />
<text transform="translate(628.0,314.0) scale(0.782,1)" font-size="9.8" text-anchor="middle" fill="#222" >10</text>
<text transform="translate(628.0,324.7) scale(0.92,1)" font-size="9.8" text-anchor="middle" fill="#222" >3</text>
<line x1="621.7" y1="316.0" x2="634.3" y2="316.0" stroke="#222" stroke-width="0.6" />
<text transform="translate(647.0,319.3) scale(1.05,1)" font-size="10.9" text-anchor="middle" fill="#222" >4</text>
<text x="527.8" y="338.9" font-size="9.4" text-anchor="middle" fill="#222" font-style="italic" >n</text>
<line x1="525.1" y1="332.2" x2="530.6" y2="332.2" stroke="#222" stroke-width="0.7" />
<line x1="386.6" y1="304.4" x2="388.2" y2="304.4" stroke="#e33" stroke-width="0.8" />
<line x1="666.8" y1="304.4" x2="668.4" y2="304.4" stroke="#e33" stroke-width="0.8" />
<rect x="24.2" y="365.3" width="281.5" height="140.9" fill="none" stroke="#555" stroke-width="0.8"/>
<line x1="164.9" y1="365.3" x2="164.9" y2="506.2" stroke="#444" stroke-width="0.7" />
<line x1="24.2" y1="389.3" x2="27.7" y2="389.3" stroke="#333" stroke-width="0.7" />
<line x1="164.9" y1="377.4" x2="169.9" y2="377.4" stroke="#333" stroke-width="0.7" />
<line x1="305.7" y1="377.4" x2="302.0" y2="377.4" stroke="#333" stroke-width="0.7" />
<line x1="148.9" y1="506.2" x2="148.9" y2="502.7" stroke="#333" stroke-width="0.7" />
<line x1="289.6" y1="506.2" x2="289.6" y2="502.7" stroke="#333" stroke-width="0.7" />
<defs><clipPath id="clipc"><rect x="24.2" y="364.8" width="140.7" height="141.4"/></clipPath><clipPath id="clipd"><rect x="164.9" y="364.8" width="140.8" height="141.4"/></clipPath></defs>
<path d="M24.2 424.3 L25.0 407.2 L25.8 398.9 L26.5 389.2 L27.3 390.7 L28.1 388.9 L28.9 393.0 L29.7 397.2 L30.4 405.9 L31.2 409.1 L32.0 408.8 L32.8 423.0 L33.6 434.4 L34.3 435.7 L35.1 428.3 L35.9 424.7 L36.7 413.7 L37.5 414.2 L38.2 437.6 L39.0 427.5 L39.8 424.0 L40.6 427.8 L41.4 437.8 L42.1 435.4 L42.9 430.0 L43.7 431.7 L44.5 438.3 L45.3 427.3 L46.0 428.3 L46.8 442.1 L47.6 452.9 L48.4 457.5 L49.2 441.3 L49.9 447.0 L50.7 450.2 L51.5 445.7 L52.3 451.0 L53.1 453.1 L53.8 461.6 L54.6 459.4 L55.4 454.6 L56.2 461.8 L57.0 460.9 L57.7 456.0 L58.5 459.0 L59.3 458.3 L60.1 452.0 L60.9 462.0 L61.6 457.1 L62.4 462.1 L63.2 468.3 L64.0 469.6 L64.8 471.0 L65.5 471.8 L66.3 473.3 L67.1 466.4 L67.9 470.1 L68.7 459.7 L69.4 452.3 L70.2 457.6 L71.0 470.8 L71.8 474.4 L72.6 471.5 L73.3 476.9 L74.1 471.0 L74.9 474.5 L75.7 477.0 L76.5 474.1 L77.2 478.8 L78.0 488.8 L78.8 477.8 L79.6 479.4 L80.4 478.3 L81.1 482.5 L81.9 480.9 L82.7 482.9 L83.5 481.8 L84.3 480.8 L85.0 477.5 L85.8 483.5 L86.6 479.7 L87.4 482.5 L88.2 484.9 L88.9 482.6 L89.7 484.4 L90.5 490.7 L91.3 486.7 L92.1 481.5 L92.8 471.2 L93.6 478.4 L94.4 484.3 L95.2 485.4 L96.0 480.6 L96.7 480.7 L97.5 485.9 L98.3 487.7 L99.1 489.9 L99.9 487.7 L100.6 488.5 L101.4 493.9 L102.2 492.9 L103.0 488.5 L103.8 489.8 L104.5 491.5 L105.3 495.9 L106.1 491.9 L106.9 489.4 L107.7 487.0 L108.4 490.6 L109.2 491.0 L110.0 488.1 L110.8 489.2 L111.6 489.2 L112.3 491.1 L113.1 489.5 L113.9 491.3 L114.7 492.8 L115.5 492.6 L116.2 488.5 L117.0 492.7 L117.8 490.2 L118.6 490.5 L119.4 488.3 L120.1 481.8 L120.9 487.2 L121.7 488.7 L122.5 487.2 L123.3 487.4 L124.0 486.1 L124.8 485.7 L125.6 486.6 L126.4 494.1 L127.2 490.4 L127.9 487.1 L128.7 488.4 L129.5 487.5 L130.3 487.3 L131.1 489.6 L131.8 488.3 L132.6 486.6 L133.4 488.2 L134.2 490.8 L135.0 492.1 L135.7 494.5 L136.5 491.0 L137.3 493.5 L138.1 494.7 L138.9 493.1 L139.6 494.2 L140.4 494.0 L141.2 491.9 L142.0 494.2 L142.8 491.6 L143.5 492.6 L144.3 493.0 L145.1 493.6 L145.9 490.9 L146.7 492.8 L147.4 493.7 L148.2 495.8 L149.0 494.2 L149.8 495.3 L150.6 495.6 L151.3 494.3 L152.1 499.7 L152.9 497.4 L153.7 494.6 L154.5 500.8 L155.2 496.6 L156.0 497.3 L156.8 498.6 L157.6 496.8 L158.4 496.8 L159.1 496.9 L159.9 497.6 L160.7 496.0 L161.5 496.2 L162.3 498.0 L163.0 500.3 L163.8 500.3 L164.6 501.9" fill="none" stroke="#1010ff" stroke-width="1.25" stroke-linejoin="round" stroke-linecap="round" clip-path="url(#clipc)"/>
<path d="M24.2 496.5 L25.0 495.1 L25.8 497.3 L26.6 494.9 L27.4 494.6 L28.2 496.3 L29.0 493.0 L29.8 493.9 L30.6 495.4 L31.4 495.0 L32.2 494.9 L33.0 496.6 L33.8 497.6 L34.6 499.5 L35.4 498.1 L36.2 498.9 L37.0 501.4 L37.8 503.0 L38.6 500.0 L39.4 501.6 L40.2 499.4 L41.0 500.3 L41.8 500.9 L42.6 501.5 L43.4 503.3 L44.2 503.4 L45.0 502.7 L45.8 502.2 L46.6 502.5 L47.4 502.5 L48.2 503.5 L49.0 502.3 L49.8 502.6 L50.6 502.7 L51.4 502.7 L52.2 503.1 L53.0 503.1 L53.8 504.3 L54.6 503.2 L55.4 506.6 L56.2 503.1 L57.0 502.3 L57.8 502.9 L58.6 503.4 L59.4 503.4 L60.2 504.4 L61.0 506.1 L61.8 504.2 L62.6 502.8 L63.4 502.8 L64.2 504.5 L65.0 503.9 L65.8 501.8 L66.6 501.1 L67.4 501.3 L68.2 503.9 L69.0 503.3 L69.8 505.4 L70.6 505.3 L71.4 503.6 L72.2 502.7 L73.0 504.0 L73.8 503.1 L74.6 502.2 L75.4 504.3 L76.2 503.5 L77.0 504.4 L77.8 503.4 L78.6 500.1 L79.4 503.2 L80.2 501.4 L81.0 506.3 L81.8 506.0 L82.6 503.2 L83.4 500.3 L84.2 501.0 L85.0 503.7 L85.8 502.9 L86.6 501.6 L87.4 502.6 L88.2 508.1 L89.0 504.8 L89.8 504.1 L90.6 504.2 L91.4 504.5 L92.2 504.6 L93.0 502.8 L93.8 502.8 L94.6 502.4 L95.4 501.3 L96.2 504.0 L97.0 503.0 L97.8 503.0 L98.6 502.5 L99.4 502.5 L100.2 503.9 L101.0 503.0 L101.8 502.7 L102.6 503.7 L103.4 504.6 L104.2 504.4 L105.0 503.7 L105.8 501.6 L106.6 503.5 L107.4 504.0 L108.2 504.5 L109.0 502.7 L109.8 505.8 L110.6 502.7 L111.4 503.8 L112.2 503.6 L113.0 502.9 L113.8 504.1 L114.6 503.3 L115.4 500.9 L116.2 501.6 L117.0 503.6 L117.8 505.8 L118.6 502.4 L119.4 503.0 L120.2 504.9 L121.0 504.4 L121.8 503.2 L122.6 501.8 L123.4 501.2 L124.2 502.2 L125.0 502.8 L125.8 497.9 L126.6 500.3 L127.4 503.3 L128.2 503.0 L129.0 501.5 L129.8 502.5 L130.6 502.4 L131.4 504.1 L132.2 505.3 L133.0 506.0 L133.8 504.6 L134.6 504.3 L135.4 505.1 L136.2 505.5 L137.0 505.3 L137.8 506.6 L138.6 503.4 L139.4 501.5 L140.2 503.8 L141.0 503.4 L141.8 503.2 L142.6 502.4 L143.4 501.7 L144.2 504.4 L145.0 504.1 L145.8 500.8 L146.6 503.0 L147.4 503.7 L148.2 503.9 L149.0 505.7 L149.8 503.8 L150.6 501.9 L151.4 502.9 L152.2 502.5 L153.0 503.6 L153.8 503.5 L154.6 503.6 L155.4 502.7 L156.2 503.4 L157.0 502.7 L157.8 504.2 L158.6 503.1 L159.4 500.3 L160.2 503.6 L161.0 502.6 L161.8 504.4 L162.6 503.9 L163.4 504.3 L164.2 503.4" fill="none" stroke="#ff1010" stroke-width="1.25" stroke-linejoin="round" stroke-linecap="round" clip-path="url(#clipc)"/>
<path d="M164.9 370.5 L165.7 366.2 L166.5 365.6 L167.3 366.1 L168.1 366.6 L168.9 371.3 L169.7 376.7 L170.5 380.6 L171.3 385.5 L172.1 389.4 L172.9 391.8 L173.7 394.3 L174.5 396.5 L175.3 397.6 L176.1 397.9 L176.9 397.9 L177.7 398.7 L178.5 400.1 L179.3 404.3 L180.1 407.1 L180.9 409.8 L181.7 411.2 L182.5 412.3 L183.3 414.1 L184.1 414.7 L184.9 415.2 L185.7 416.3 L186.5 416.7 L187.3 418.4 L188.1 418.9 L188.9 419.5 L189.7 421.0 L190.5 420.2 L191.3 421.7 L192.1 422.1 L192.9 423.1 L193.7 423.8 L194.5 425.2 L195.3 426.1 L196.1 426.1 L196.9 426.7 L197.7 426.8 L198.5 427.1 L199.3 426.8 L200.1 425.6 L200.9 425.0 L201.7 427.3 L202.5 428.6 L203.3 428.8 L204.1 429.1 L204.9 431.2 L205.7 431.2 L206.5 431.7 L207.3 432.7 L208.1 433.3 L208.9 433.9 L209.7 434.1 L210.5 435.2 L211.3 435.7 L212.1 437.0 L212.9 436.7 L213.7 436.0 L214.5 437.4 L215.3 439.3 L216.1 438.9 L216.9 438.5 L217.7 439.1 L218.5 439.2 L219.3 440.1 L220.1 440.4 L220.9 441.5 L221.7 441.6 L222.5 441.7 L223.3 441.3 L224.1 443.1 L224.9 443.7 L225.7 444.2 L226.5 444.9 L227.3 445.3 L228.1 445.4 L228.9 446.6 L229.7 447.5 L230.5 448.1 L231.3 448.3 L232.1 449.1 L232.9 449.5 L233.7 450.3 L234.5 451.3 L235.3 452.0 L236.1 452.2 L236.9 452.6 L237.7 453.0 L238.5 453.3 L239.3 453.7 L240.1 454.0 L240.9 454.7 L241.7 456.8 L242.5 456.5 L243.3 456.5 L244.1 457.0 L244.9 457.5 L245.7 458.4 L246.5 459.2 L247.3 459.1 L248.1 460.1 L248.9 460.3 L249.7 461.8 L250.5 461.6 L251.3 462.9 L252.1 462.4 L252.9 462.5 L253.7 463.1 L254.5 463.8 L255.3 464.1 L256.1 463.5 L256.9 464.6 L257.7 465.2 L258.5 465.4 L259.3 465.8 L260.1 466.9 L260.9 466.8 L261.7 466.4 L262.5 467.2 L263.3 467.3 L264.1 467.2 L264.9 467.8 L265.7 467.6 L266.5 467.4 L267.3 467.6 L268.1 467.5 L268.9 467.0 L269.7 467.2 L270.5 467.1 L271.3 466.4 L272.1 464.6 L272.9 464.3 L273.7 466.1 L274.5 464.5 L275.3 465.4 L276.1 467.7 L276.9 467.8 L277.7 468.2 L278.5 468.2 L279.3 467.7 L280.1 468.2 L280.9 468.7 L281.7 468.9 L282.5 468.8 L283.3 467.8 L284.1 465.8 L284.9 468.5 L285.7 468.7 L286.5 469.1 L287.3 469.5 L288.1 469.6 L288.9 469.9 L289.7 469.0 L290.5 469.5 L291.3 469.8 L292.1 469.7 L292.9 469.2 L293.7 469.4 L294.5 469.9 L295.3 469.1 L296.1 469.4 L296.9 469.7 L297.7 468.3 L298.5 466.0 L299.3 467.4 L300.1 468.8 L300.9 468.8 L301.7 469.0 L302.5 468.9 L303.3 469.1 L304.1 468.5 L304.9 468.5 L305.7 468.7" fill="none" stroke="#1010ff" stroke-width="1.25" stroke-linejoin="round" stroke-linecap="round" clip-path="url(#clipd)"/>
<path d="M164.9 465.7 L165.7 462.4 L166.5 461.4 L167.3 459.2 L168.1 461.0 L168.9 462.0 L169.7 463.9 L170.5 466.7 L171.3 467.6 L172.1 466.3 L172.9 465.8 L173.7 465.7 L174.5 466.1 L175.3 466.2 L176.1 463.9 L176.9 463.0 L177.7 463.8 L178.5 466.3 L179.3 465.9 L180.1 466.8 L180.9 469.1 L181.7 469.1 L182.5 470.1 L183.3 471.3 L184.1 471.4 L184.9 471.3 L185.7 471.9 L186.5 471.5 L187.3 471.7 L188.1 471.6 L188.9 471.5 L189.7 471.0 L190.5 470.6 L191.3 469.9 L192.1 469.4 L192.9 468.9 L193.7 468.5 L194.5 468.5 L195.3 465.8 L196.1 466.9 L196.9 466.2 L197.7 465.2 L198.5 465.1 L199.3 464.9 L200.1 465.0 L200.9 463.4 L201.7 464.0 L202.5 464.1 L203.3 463.3 L204.1 462.7 L204.9 463.8 L205.7 464.1 L206.5 464.1 L207.3 464.1 L208.1 463.5 L208.9 463.1 L209.7 463.1 L210.5 462.0 L211.3 461.6 L212.1 461.4 L212.9 460.4 L213.7 461.3 L214.5 460.0 L215.3 459.6 L216.1 460.2 L216.9 459.1 L217.7 458.7 L218.5 459.2 L219.3 457.8 L220.1 457.9 L220.9 458.2 L221.7 458.1 L222.5 458.3 L223.3 458.1 L224.1 458.2 L224.9 458.1 L225.7 458.3 L226.5 457.5 L227.3 457.3 L228.1 457.4 L228.9 458.2 L229.7 457.8 L230.5 458.6 L231.3 459.9 L232.1 458.7 L232.9 458.4 L233.7 458.6 L234.5 459.4 L235.3 459.2 L236.1 459.5 L236.9 459.7 L237.7 459.9 L238.5 461.0 L239.3 460.4 L240.1 460.6 L240.9 460.9 L241.7 461.6 L242.5 460.6 L243.3 461.6 L244.1 461.9 L244.9 462.2 L245.7 462.2 L246.5 461.9 L247.3 462.2 L248.1 462.9 L248.9 463.0 L249.7 463.2 L250.5 463.9 L251.3 464.3 L252.1 464.0 L252.9 464.6 L253.7 463.9 L254.5 463.9 L255.3 464.8 L256.1 464.9 L256.9 465.2 L257.7 465.4 L258.5 465.4 L259.3 465.7 L260.1 465.7 L260.9 464.8 L261.7 465.6 L262.5 465.9 L263.3 466.5 L264.1 465.9 L264.9 466.1 L265.7 466.2 L266.5 466.3 L267.3 466.9 L268.1 466.8 L268.9 466.6 L269.7 466.9 L270.5 467.2 L271.3 467.0 L272.1 467.2 L272.9 468.1 L273.7 468.5 L274.5 468.7 L275.3 468.8 L276.1 469.4 L276.9 469.0 L277.7 470.3 L278.5 470.8 L279.3 471.1 L280.1 471.1 L280.9 471.6 L281.7 472.3 L282.5 472.7 L283.3 472.7 L284.1 473.3 L284.9 473.8 L285.7 473.6 L286.5 473.8 L287.3 473.7 L288.1 474.0 L288.9 474.8 L289.7 475.2 L290.5 475.2 L291.3 474.9 L292.1 475.0 L292.9 475.3 L293.7 475.4 L294.5 475.6 L295.3 475.3 L296.1 475.8 L296.9 476.3 L297.7 476.4 L298.5 476.5 L299.3 476.2 L300.1 476.3 L300.9 476.0 L301.7 476.4 L302.5 476.2 L303.3 476.0 L304.1 476.1 L304.9 476.4 L305.7 476.4" fill="none" stroke="#ff1010" stroke-width="1.25" stroke-linejoin="round" stroke-linecap="round" clip-path="url(#clipd)"/>
<text x="29.0" y="381.9" font-size="19" text-anchor="start" fill="#000" font-weight="bold" >c</text>
<text x="173.4" y="381.9" font-size="19" text-anchor="start" fill="#000" font-weight="bold" >d</text>
<text x="44.3" y="392.0" font-size="11.4" text-anchor="start" fill="#2222ee" >−8/3</text>
<text x="34.6" y="490.4" font-size="11.4" text-anchor="start" fill="#ee2222" >8/3</text>
<text x="184.7" y="391.8" font-size="11.4" text-anchor="start" fill="#2222ee" >−4/3</text>
<text x="187.3" y="487.5" font-size="11.4" text-anchor="start" fill="#ee2222" >4/3</text>
<text transform="translate(17.6,393.4) scale(0.85,1)" font-size="11.8" text-anchor="end" fill="#222" >1</text>
<text x="17.6" y="510.9" font-size="11.8" text-anchor="end" fill="#222" >0</text>
<text x="23.9" y="519.3" font-size="11.8" text-anchor="middle" fill="#222" >0</text>
<text transform="translate(149.2,519.3) scale(0.85,1)" font-size="11.8" text-anchor="middle" fill="#222" >16</text>
<text x="165.3" y="519.3" font-size="11.8" text-anchor="middle" fill="#222" >0</text>
<text transform="translate(289.8,519.3) scale(0.85,1)" font-size="11.8" text-anchor="middle" fill="#222" >16</text>
<text x="310.8" y="381.5" font-size="11.8" text-anchor="start" fill="#222" >20</text>
<text x="311.4" y="509.8" font-size="11.8" text-anchor="start" fill="#222" >0</text>
<text transform="translate(14.9,435.5) rotate(-90)" font-size="12" text-anchor="middle" fill="#222"><tspan font-style="italic">G</tspan> (µS)</text>
<text transform="translate(314.4,436.0) rotate(90)" font-size="12" text-anchor="middle" fill="#222"><tspan font-style="italic">G</tspan> (µS)</text>
<text x="94.7" y="532.7" font-size="12" text-anchor="middle" fill="#222"><tspan font-style="italic">B</tspan><tspan font-size="7.5" dy="2.2">⊥</tspan><tspan dy="-2.2"> (T)</tspan></text>
<text x="234.5" y="532.7" font-size="12" text-anchor="middle" fill="#222"><tspan font-style="italic">B</tspan><tspan font-size="7.5" dy="2.2">⊥</tspan><tspan dy="-2.2"> (T)</tspan></text>
<rect x="386.5" y="367.5" width="279.6" height="138.7" fill="none" stroke="#555" stroke-width="0.8"/>
<line x1="527.5" y1="367.5" x2="527.5" y2="506.2" stroke="#333" stroke-width="0.8" />
<line x1="386.5" y1="390.0" x2="390.0" y2="390.0" stroke="#333" stroke-width="0.7" />
<line x1="527.5" y1="390.0" x2="531.0" y2="390.0" stroke="#333" stroke-width="0.7" />
<line x1="666.1" y1="401.8" x2="664.1" y2="401.8" stroke="#444" stroke-width="0.7" />
<line x1="666.1" y1="436.6" x2="664.1" y2="436.6" stroke="#444" stroke-width="0.7" />
<line x1="666.1" y1="471.4" x2="664.1" y2="471.4" stroke="#444" stroke-width="0.7" />
<line x1="513.0" y1="506.2" x2="513.0" y2="502.7" stroke="#333" stroke-width="0.7" />
<line x1="650.5" y1="506.2" x2="650.5" y2="502.7" stroke="#333" stroke-width="0.7" />
<defs><clipPath id="clipg"><rect x="386.5" y="367.0" width="141.0" height="139.2"/></clipPath><clipPath id="cliph"><rect x="527.5" y="367.0" width="138.6" height="139.2"/></clipPath></defs>
<path d="M386.5 395.7 L387.3 401.9 L388.1 396.7 L388.8 400.4 L389.6 402.2 L390.4 396.3 L391.2 394.5 L392.0 398.6 L392.7 400.0 L393.5 388.0 L394.3 382.0 L395.1 384.8 L395.9 398.4 L396.6 396.4 L397.4 403.8 L398.2 406.2 L399.0 407.9 L399.8 417.6 L400.5 418.4 L401.3 414.2 L402.1 411.1 L402.9 419.6 L403.7 422.1 L404.4 416.1 L405.2 418.8 L406.0 422.2 L406.8 417.3 L407.6 421.5 L408.3 429.4 L409.1 421.7 L409.9 427.0 L410.7 434.0 L411.5 424.6 L412.2 425.5 L413.0 428.9 L413.8 432.9 L414.6 431.4 L415.4 424.8 L416.1 425.7 L416.9 426.2 L417.7 419.0 L418.5 428.4 L419.3 429.8 L420.0 429.4 L420.8 436.8 L421.6 432.7 L422.4 424.4 L423.2 430.3 L423.9 430.7 L424.7 434.7 L425.5 435.2 L426.3 432.9 L427.1 432.5 L427.8 430.2 L428.6 438.2 L429.4 442.8 L430.2 437.2 L431.0 438.0 L431.7 438.5 L432.5 436.2 L433.3 436.2 L434.1 436.9 L434.9 424.9 L435.6 433.8 L436.4 440.9 L437.2 443.5 L438.0 440.3 L438.8 436.6 L439.5 432.7 L440.3 437.1 L441.1 436.0 L441.9 437.4 L442.7 439.1 L443.4 442.6 L444.2 439.0 L445.0 442.2 L445.8 439.5 L446.6 442.8 L447.3 441.1 L448.1 440.0 L448.9 444.0 L449.7 438.2 L450.5 434.6 L451.2 438.1 L452.0 443.8 L452.8 443.2 L453.6 426.1 L454.4 443.4 L455.1 446.1 L455.9 441.9 L456.7 435.9 L457.5 443.7 L458.3 449.0 L459.0 446.4 L459.8 454.6 L460.6 443.4 L461.4 446.6 L462.2 446.5 L462.9 440.6 L463.7 446.5 L464.5 446.5 L465.3 443.4 L466.1 445.7 L466.8 445.7 L467.6 446.4 L468.4 449.0 L469.2 445.2 L470.0 450.3 L470.7 443.6 L471.5 447.5 L472.3 449.1 L473.1 441.3 L473.9 445.9 L474.6 452.6 L475.4 453.9 L476.2 448.8 L477.0 447.6 L477.8 450.6 L478.5 451.1 L479.3 453.5 L480.1 452.4 L480.9 458.3 L481.7 453.7 L482.4 444.1 L483.2 444.5 L484.0 446.6 L484.8 450.2 L485.6 445.9 L486.3 451.0 L487.1 443.0 L487.9 445.3 L488.7 443.7 L489.5 447.7 L490.2 448.0 L491.0 446.5 L491.8 435.2 L492.6 440.2 L493.4 442.8 L494.1 454.9 L494.9 445.9 L495.7 447.5 L496.5 450.4 L497.3 443.4 L498.0 440.1 L498.8 435.4 L499.6 441.9 L500.4 448.6 L501.2 437.3 L501.9 445.2 L502.7 449.9 L503.5 448.5 L504.3 444.5 L505.1 446.5 L505.8 443.2 L506.6 443.5 L507.4 456.8 L508.2 447.1 L509.0 443.4 L509.7 447.5 L510.5 449.4 L511.3 452.2 L512.1 446.0 L512.9 443.0 L513.6 443.0 L514.4 451.4 L515.2 454.9 L516.0 446.1 L516.8 444.7 L517.5 447.0 L518.3 442.5 L519.1 443.2 L519.9 450.6 L520.7 441.3 L521.4 448.8 L522.2 453.1 L523.0 442.1 L523.8 450.5 L524.6 448.0 L525.3 444.1 L526.1 457.1 L526.9 450.9" fill="none" stroke="#1010ff" stroke-width="1.25" stroke-linejoin="round" stroke-linecap="round" clip-path="url(#clipg)"/>
<path d="M386.5 496.0 L387.3 494.1 L388.1 496.2 L388.9 497.5 L389.7 497.8 L390.5 498.8 L391.3 497.2 L392.1 496.6 L392.9 497.3 L393.7 497.0 L394.5 499.7 L395.3 499.5 L396.1 496.5 L396.9 497.7 L397.7 499.0 L398.5 497.0 L399.3 499.7 L400.1 498.9 L400.9 496.6 L401.7 498.5 L402.5 498.5 L403.3 500.5 L404.1 500.7 L404.9 499.8 L405.7 499.3 L406.5 500.5 L407.3 499.4 L408.1 500.6 L408.9 500.1 L409.7 501.1 L410.5 502.1 L411.3 501.3 L412.1 501.3 L412.9 501.7 L413.7 502.5 L414.5 502.7 L415.3 502.4 L416.1 502.3 L416.9 500.8 L417.7 499.5 L418.5 500.3 L419.3 505.0 L420.1 503.0 L420.9 501.4 L421.7 503.2 L422.5 502.5 L423.3 502.8 L424.1 503.0 L424.9 501.4 L425.7 501.2 L426.5 504.6 L427.3 501.9 L428.1 502.3 L428.9 501.8 L429.7 502.6 L430.5 504.3 L431.3 502.2 L432.1 503.4 L432.9 501.0 L433.7 501.2 L434.5 502.0 L435.3 502.5 L436.1 501.7 L436.9 495.5 L437.7 500.0 L438.5 502.6 L439.3 503.8 L440.1 502.9 L440.9 505.3 L441.7 503.8 L442.5 501.9 L443.3 502.3 L444.1 502.9 L444.9 503.3 L445.7 503.5 L446.5 503.3 L447.3 502.2 L448.1 504.0 L448.9 504.2 L449.7 503.0 L450.5 501.6 L451.3 503.2 L452.1 502.9 L452.9 500.3 L453.7 504.2 L454.5 503.0 L455.3 504.8 L456.1 499.8 L456.9 503.0 L457.7 502.4 L458.5 500.2 L459.3 502.6 L460.1 505.6 L460.9 502.2 L461.7 503.4 L462.5 504.0 L463.3 503.5 L464.1 502.2 L464.9 502.3 L465.7 504.8 L466.5 503.1 L467.3 502.9 L468.1 503.3 L468.9 503.8 L469.7 504.6 L470.5 504.8 L471.3 502.9 L472.1 501.5 L472.9 502.9 L473.7 499.6 L474.5 500.8 L475.3 502.0 L476.1 501.4 L476.9 501.8 L477.7 503.2 L478.5 503.5 L479.3 503.4 L480.1 502.2 L480.9 503.9 L481.7 504.0 L482.5 500.9 L483.3 502.0 L484.1 503.7 L484.9 502.7 L485.7 503.7 L486.5 503.0 L487.3 505.3 L488.1 503.0 L488.9 500.7 L489.7 502.3 L490.5 502.1 L491.3 502.3 L492.1 502.1 L492.9 501.5 L493.7 503.6 L494.5 503.0 L495.3 503.0 L496.1 501.1 L496.9 503.7 L497.7 501.1 L498.5 502.0 L499.3 502.8 L500.1 501.1 L500.9 506.1 L501.7 503.0 L502.5 502.0 L503.3 503.0 L504.1 503.7 L504.9 503.5 L505.7 502.1 L506.5 502.9 L507.3 502.8 L508.1 503.7 L508.9 504.2 L509.7 503.1 L510.5 503.1 L511.3 503.8 L512.1 503.0 L512.9 503.0 L513.7 505.7 L514.5 503.7 L515.3 503.1 L516.1 502.2 L516.9 502.2 L517.7 502.7 L518.5 505.0 L519.3 502.0 L520.1 502.1 L520.9 503.1 L521.7 504.6 L522.5 503.6 L523.3 502.3 L524.1 504.2 L524.9 503.4 L525.7 503.3 L526.5 502.2 L527.3 502.8" fill="none" stroke="#ff1010" stroke-width="1.25" stroke-linejoin="round" stroke-linecap="round" clip-path="url(#clipg)"/>
<path d="M527.5 421.1 L528.3 420.9 L529.1 420.8 L529.9 420.9 L530.7 420.8 L531.5 420.9 L532.3 421.2 L533.1 421.2 L533.9 421.2 L534.7 420.7 L535.5 420.5 L536.3 421.0 L537.1 420.7 L537.9 417.5 L538.7 418.5 L539.5 419.9 L540.3 420.4 L541.1 419.5 L541.9 419.7 L542.7 419.5 L543.5 419.5 L544.3 419.3 L545.1 419.1 L545.9 418.6 L546.7 418.2 L547.5 417.3 L548.3 417.0 L549.1 415.9 L549.9 415.3 L550.7 414.3 L551.5 413.9 L552.3 413.1 L553.1 411.3 L553.9 409.9 L554.7 408.4 L555.5 407.1 L556.3 405.9 L557.1 404.5 L557.9 402.1 L558.7 402.3 L559.5 402.5 L560.3 401.5 L561.1 400.9 L561.9 400.1 L562.7 399.4 L563.5 398.3 L564.3 397.4 L565.1 396.4 L565.9 395.1 L566.7 394.0 L567.5 392.4 L568.3 391.2 L569.1 390.0 L569.9 389.0 L570.7 387.4 L571.5 387.3 L572.3 385.7 L573.1 384.0 L573.9 383.5 L574.7 383.4 L575.5 382.5 L576.3 381.9 L577.1 381.4 L577.9 381.1 L578.7 381.0 L579.5 380.9 L580.3 380.4 L581.1 380.0 L581.9 379.8 L582.7 379.5 L583.5 379.4 L584.3 379.1 L585.1 379.1 L585.9 380.0 L586.7 379.6 L587.5 379.3 L588.3 379.2 L589.1 379.3 L589.9 379.2 L590.7 379.1 L591.5 379.6 L592.3 379.9 L593.1 380.2 L593.9 379.4 L594.7 380.4 L595.5 380.7 L596.3 381.1 L597.1 380.9 L597.9 381.4 L598.7 381.5 L599.5 382.5 L600.3 383.3 L601.1 384.0 L601.9 384.5 L602.7 384.9 L603.5 385.4 L604.3 385.5 L605.1 386.0 L605.9 386.8 L606.7 386.3 L607.5 386.9 L608.3 387.9 L609.1 387.7 L609.9 388.2 L610.7 389.0 L611.5 389.4 L612.3 390.0 L613.1 389.3 L613.9 390.1 L614.7 390.6 L615.5 391.1 L616.3 391.8 L617.1 391.7 L617.9 392.6 L618.7 392.9 L619.5 392.9 L620.3 394.1 L621.1 394.5 L621.9 394.4 L622.7 394.9 L623.5 394.8 L624.3 396.2 L625.1 396.2 L625.9 396.2 L626.7 396.9 L627.5 397.1 L628.3 397.7 L629.1 398.4 L629.9 399.6 L630.7 399.6 L631.5 399.8 L632.3 400.5 L633.1 400.7 L633.9 401.0 L634.7 402.0 L635.5 401.9 L636.3 402.2 L637.1 403.1 L637.9 403.3 L638.7 403.9 L639.5 404.2 L640.3 404.4 L641.1 405.5 L641.9 405.5 L642.7 406.0 L643.5 406.0 L644.3 406.5 L645.1 406.8 L645.9 406.9 L646.7 407.2 L647.5 407.6 L648.3 407.6 L649.1 408.1 L649.9 408.3 L650.7 408.4 L651.5 408.8 L652.3 409.3 L653.1 409.0 L653.9 409.5 L654.7 409.1 L655.5 409.2 L656.3 409.9 L657.1 410.0 L657.9 410.5 L658.7 411.1 L659.5 411.7 L660.3 411.4 L661.1 411.4 L661.9 411.4 L662.7 412.0 L663.5 411.4 L664.3 411.6 L665.1 411.9 L665.9 412.6" fill="none" stroke="#1010ff" stroke-width="1.25" stroke-linejoin="round" stroke-linecap="round" clip-path="url(#cliph)"/>
<path d="M527.5 479.8 L528.3 479.2 L529.1 478.5 L529.9 478.7 L530.7 478.5 L531.5 477.6 L532.3 477.5 L533.1 477.0 L533.9 476.7 L534.7 477.4 L535.5 476.7 L536.3 476.8 L537.1 476.4 L537.9 474.6 L538.7 474.6 L539.5 475.6 L540.3 476.0 L541.1 476.2 L541.9 474.4 L542.7 474.9 L543.5 475.3 L544.3 475.6 L545.1 475.4 L545.9 475.3 L546.7 474.9 L547.5 474.2 L548.3 474.1 L549.1 474.1 L549.9 473.3 L550.7 471.7 L551.5 472.2 L552.3 471.6 L553.1 471.0 L553.9 471.6 L554.7 469.8 L555.5 468.9 L556.3 467.7 L557.1 467.1 L557.9 467.3 L558.7 467.7 L559.5 467.4 L560.3 467.4 L561.1 467.1 L561.9 466.8 L562.7 466.1 L563.5 465.6 L564.3 465.5 L565.1 464.7 L565.9 464.0 L566.7 463.3 L567.5 462.9 L568.3 462.4 L569.1 461.9 L569.9 461.2 L570.7 460.4 L571.5 459.3 L572.3 459.6 L573.1 458.4 L573.9 457.9 L574.7 458.3 L575.5 457.1 L576.3 456.0 L577.1 455.8 L577.9 455.0 L578.7 453.5 L579.5 452.5 L580.3 453.2 L581.1 454.0 L581.9 452.0 L582.7 451.8 L583.5 451.7 L584.3 451.5 L585.1 450.6 L585.9 451.3 L586.7 450.0 L587.5 448.9 L588.3 448.5 L589.1 448.1 L589.9 447.5 L590.7 446.8 L591.5 446.3 L592.3 446.2 L593.1 445.7 L593.9 445.5 L594.7 443.8 L595.5 443.2 L596.3 444.7 L597.1 443.2 L597.9 442.4 L598.7 441.2 L599.5 441.6 L600.3 441.1 L601.1 440.6 L601.9 440.6 L602.7 439.7 L603.5 439.4 L604.3 437.8 L605.1 438.5 L605.9 438.0 L606.7 438.4 L607.5 437.3 L608.3 437.6 L609.1 436.7 L609.9 435.9 L610.7 436.1 L611.5 435.9 L612.3 435.2 L613.1 434.7 L613.9 434.0 L614.7 434.3 L615.5 434.4 L616.3 432.5 L617.1 433.4 L617.9 434.0 L618.7 432.2 L619.5 433.0 L620.3 433.3 L621.1 432.8 L621.9 432.9 L622.7 432.5 L623.5 432.9 L624.3 433.9 L625.1 432.7 L625.9 432.3 L626.7 431.8 L627.5 433.6 L628.3 434.1 L629.1 432.5 L629.9 432.3 L630.7 432.3 L631.5 432.7 L632.3 431.9 L633.1 432.3 L633.9 431.6 L634.7 432.5 L635.5 432.1 L636.3 432.5 L637.1 432.4 L637.9 432.0 L638.7 431.8 L639.5 431.6 L640.3 432.5 L641.1 432.9 L641.9 432.0 L642.7 431.5 L643.5 432.0 L644.3 431.9 L645.1 431.5 L645.9 431.8 L646.7 432.0 L647.5 431.8 L648.3 431.9 L649.1 431.8 L649.9 431.8 L650.7 431.3 L651.5 431.8 L652.3 431.7 L653.1 431.4 L653.9 431.6 L654.7 431.4 L655.5 431.3 L656.3 431.9 L657.1 431.9 L657.9 431.0 L658.7 431.3 L659.5 431.4 L660.3 431.1 L661.1 431.4 L661.9 431.3 L662.7 431.2 L663.5 430.7 L664.3 430.1 L665.1 431.1 L665.9 431.9" fill="none" stroke="#ff1010" stroke-width="1.25" stroke-linejoin="round" stroke-linecap="round" clip-path="url(#cliph)"/>
<text x="396.8" y="381.3" font-size="19" text-anchor="start" fill="#000" font-weight="bold" >g</text>
<text x="531.4" y="381.6" font-size="19" text-anchor="start" fill="#000" font-weight="bold" >h</text>
<text x="406.6" y="393.8" font-size="11.4" text-anchor="start" fill="#2222ee" >−8/3</text>
<text x="408.0" y="488.2" font-size="11.4" text-anchor="start" fill="#ee2222" >8/3</text>
<text x="545.0" y="393.8" font-size="11.4" text-anchor="start" fill="#2222ee" >−4/3</text>
<text x="531.0" y="469.0" font-size="11.4" text-anchor="start" fill="#ee2222" >4/3</text>
<text transform="translate(381.2,394.2) scale(0.85,1)" font-size="11.8" text-anchor="end" fill="#222" >1</text>
<text x="381.2" y="511.2" font-size="11.8" text-anchor="end" fill="#222" >0</text>
<text x="387.4" y="519.3" font-size="11.8" text-anchor="middle" fill="#222" >0</text>
<text transform="translate(513.2,519.3) scale(0.85,1)" font-size="11.8" text-anchor="middle" fill="#222" >16</text>
<text x="527.4" y="519.3" font-size="11.8" text-anchor="middle" fill="#222" >0</text>
<text transform="translate(650.7,519.3) scale(0.85,1)" font-size="11.8" text-anchor="middle" fill="#222" >16</text>
<text x="671.4" y="371.2" font-size="11.8" text-anchor="start" fill="#222" >35</text>
<text x="671.8" y="510.3" font-size="11.8" text-anchor="start" fill="#222" >0</text>
<text transform="translate(379.6,437.0) rotate(-90)" font-size="12" text-anchor="middle" fill="#222"><tspan font-style="italic">G</tspan> (µS)</text>
<text transform="translate(674.8,436.5) rotate(90)" font-size="12" text-anchor="middle" fill="#222"><tspan font-style="italic">G</tspan> (µS)</text>
<text x="458.5" y="532.7" font-size="12" text-anchor="middle" fill="#222"><tspan font-style="italic">B</tspan><tspan font-size="7.5" dy="2.2">||</tspan><tspan dy="-2.2"> (T)</tspan></text>
<text x="597.5" y="532.7" font-size="12" text-anchor="middle" fill="#222"><tspan font-style="italic">B</tspan><tspan font-size="7.5" dy="2.2">||</tspan><tspan dy="-2.2"> (T)</tspan></text>
</svg>
</div>
</body></html>
